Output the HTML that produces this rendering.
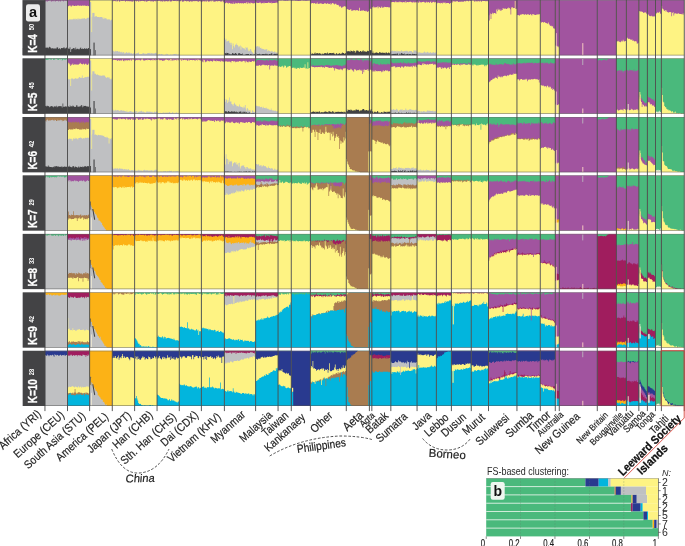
<!DOCTYPE html>
<html><head><meta charset="utf-8"><title>ADMIXTURE</title><style>html,body{margin:0;padding:0;background:#fff;}svg{display:block;}</style></head><body>
<svg width="685" height="546" viewBox="0 0 685 546">
<rect width="685" height="546" fill="#fff"/>
<rect x="22.5" y="0.1" width="22.5" height="55.2" fill="#414143"/>
<path d="M22.5 0.1V48h.73v.4h.73v-.8h.73v.4h.73v.6h.73v-.4h.73v-.9h.73v1.2h.73v-1.2h.73v-.1h.73v1.1h.73v-.2h.73v.2h.73h.73v.1h.73v.3h.73v-.8h.73v.1h.73v-.1h.73v-.3h.73v.1h.73v.5h.73v-.1h.73v.7h.73v-.8h.73v-.3h.73v-.3h.73v1.1h.73v.3h.73v-.5h.73v.1H45V0.1Z" fill="#bfc0c2"/>
<rect x="45" y="0.1" width="22.5" height="55.2" fill="#414143"/>
<path d="M45 0.1V47.8h.73v-.2h.73v.2h.73v-.4h.73v.8h.73v-1h.73v-.4h.73v.7h.73v1.1h.73v-.4h.73v.1h.73v.1h.73h.73v.2h.73v-.2h.73v.1h.73v-1.3h.73v.2h.73v1.5h.73v-.6h.73v.1h.73v.9h.73v-1.4h.73v.1h.73v.3h.73v-.7h.73v-.2h.73v1.4h.73v-.9h.73v-.3h.73v.9H67.5V0.1Z" fill="#bfc0c2"/>
<path d="M45 0.1V1.5h.73v-.4h.73v.4h.73v-.1h.73v-.4h.73h.73v-.6h.73h.73v1h.73h.73v-.4h.73v.3h.73v-.8h.73v.7h.73v.3h.73v-.5h.73v.1h.73v-.3h.73v.6h.73v-.7h.73v.5h.73v.4h.73v-1h.73h.73v.5h.73v.4h.73v-1h.73v.6h.73v-.3h.73v.3h.73v.2H67.5V0.1Z" fill="#a1549f"/>
<rect x="67.5" y="0.1" width="22.2" height="55.2" fill="#414143"/>
<path d="M67.5 0.1V47.9h.72v.9h.72v-.1h.72v-1.5h.72v4.8h.72v-2.8h.72v-.2h.72v-.4h.72v-.6h.72v.2h.72v1.2h.72v-1.8h.72v1.7h.72v-.5h.72h.72v.4h.72v.1h.72v-1.1h.72v-.6h.72v1.5h.72v-.7h.72v.3h.72v.3h.72v-.7h.72v.1h.72v.6h.72v-.7h.72v.7h.72v-.7h.72v-.3h.72v.5H89.7V0.1Z" fill="#bfc0c2"/>
<path d="M67.5 0.1V20.1h.72v-.1h.72v-.9h.72v.9h.72v-.9h.72v.5h.72v-.4h.72v.2h.72v-.6h.72v.5h.72v-.7h.72v.8h.72v-.5h.72v-.4h.72v1.2h.72v-1.1h.72v.1h.72v.6h.72v-.5h.72v-.1h.72v-.2h.72v.1h.72v-.1h.72v-.5h.72v.8h.72v.1h.72v-.5h.72v-.7h.72v.2h.72v-.4h.72H89.7V0.1Z" fill="#fef383"/>
<path d="M67.5 0.1V5.9h.72v.3h.72v-.5h.72v-.4h.72v.9h.72v.3h.72v-1h.72v.1h.72v.1h.72v.3h.72h.72v-.4h.72v.3h.72v-.4h.72v-.1h.72h.72v.3h.72h.72v-.3h.72v.6h.72v-.8h.72v.8h.72v-.6h.72v.2h.72v.2h.72v-.1h.72v.3h.72v-.5h.72v.7h.72v-.2h.72v-.4H89.7V0.1Z" fill="#a1549f"/>
<rect x="89.7" y="0.1" width="22.5" height="55.2" fill="#bfc0c2"/>
<path d="M89.7 0.1V15.8h.73v.3h.73v.9h.73v-.1h.73v-.3h.73v-.6h.73v.9h.73v-.4h.73v-.3h.73h.73v.7h.73v.1h.73v.1h.73v.1h.73v-.2h.73v-.1h.73v.2h.73v.5h.73v1.3h.73v-1.4h.73v.9h.73v-.1h.73h.73v1h.73v.3h.73v-.1h.73v-.6h.73v.8h.73v.8h.73v-1h.73v.6H112.2V0.1Z" fill="#fef383"/>
<rect x="112.2" y="0.1" width="22.4" height="55.2" fill="#bfc0c2"/>
<path d="M112.2 0.1V50.5h.72v.3h.72v.5h.72v.4h.72v-.9h.72v.6h.72v-.3h.72v-.2h.72v.5h.72v.7h.72v-.9h.72v1h.72h.72v-.4h.72v.9h.72v-.7h.72v.4h.72v1.2h.72v-.5h.72v-1.2h.72v.7h.72v.4h.72v-.4h.72v.1h.72v-.1h.72v.9h.72v-.5h.72v.5h.72v.5h.72v-.8h.72v-.3H134.6V0.1Z" fill="#fef383"/>
<path d="M112.2 0.1V0.1h.72v1.1h.72v-.7h.72v.6h.72v.1h.72v-1.1h.72v1.4h.72v-.2h.72v-1.2h.72v.9h.72v.9h.72v-1.3h.72v.5h.72v-.3h.72v.1h.72h.72v-.6h.72v.8h.72v.6h.72v-.8h.72v-.1h.72v.5h.72v-.4h.72v.5h.72v-.3h.72v.1h.72v.3h.72v-.2h.72v.4h.72v-.9h.72v.9H134.6V0.1Z" fill="#a1549f"/>
<rect x="134.6" y="0.1" width="22.4" height="55.2" fill="#bfc0c2"/>
<path d="M134.6 0.1V53.6h.72v.3h.72v-.6h.72v.2h.72v-.6h.72v-.3h.72v1.4h.72v.4h.72v-.4h.72v.1h.72v.1h.72v-1.1h.72v.2h.72v.1h.72v.8h.72v-.8h.72v.6h.72v-.7h.72v-.1h.72v-.3h.72v.3h.72v-.4h.72v.9h.72v-.7h.72v.2h.72v.2h.72v.1h.72v-.1h.72v-.3h.72v-.4h.72v.7H157V0.1Z" fill="#fef383"/>
<path d="M134.6 0.1V0.4h.72v.6h.72v.4h.72v-.5h.72v-.1h.72v1h.72v-1.3h.72v.9h.72v-.5h.72v.2h.72v-.4h.72v.3h.72v.1h.72v.2h.72v.1h.72v-.9h.72v1.2h.72v-.2h.72v-.5h.72v.1h.72v-.3h.72h.72v.6h.72v-.1h.72v-.2h.72v.7h.72v-.4h.72v-.3h.72h.72v.5h.72v-1H157V0.1Z" fill="#a1549f"/>
<rect x="157" y="0.1" width="22.2" height="55.2" fill="#bfc0c2"/>
<path d="M157 0.1V54.7h.72v.1h.72v-.8h.72v.1h.72v.5h.72v-.3h.72v-.2h.72v.1h.72v.9h.72v-.5h.72v.4h.72v-.7h.72v.9h.72v-1.4h.72v.1h.72v1h.72v-.3h.72v.3h.72v-.4h.72v.1h.72v.2h.72v-.3h.72h.72v-.4h.72v-.1h.72v.3h.72v-.6h.72v.8h.72h.72v.3h.72v-.7H179.2V0.1Z" fill="#fef383"/>
<path d="M157 0.1V1.1h.72v-.3h.72v.2h.72v-.2h.72h.72v.9h.72v-.6h.72v.6h.72v-1.3h.72v.9h.72v.3h.72v-.3h.72v-.1h.72v-.1h.72v.3h.72v-.5h.72v.5h.72v-1.2h.72v1.4h.72v-.1h.72v-.2h.72v-1.1h.72v.8h.72v.1h.72v-.1h.72v-.1h.72v-.5h.72v.9h.72v-.4h.72v.3h.72v-.6H179.2V0.1Z" fill="#a1549f"/>
<rect x="179.2" y="0.1" width="22.1" height="55.2" fill="#fef383"/>
<path d="M179.2 0.1V1.2h.71h.71h.71v-1.1h.71v1.6h.71v-.3h.71h.71v-1h.71v.5h.71v.1h.71v.4h.71v-.3h.71v.4h.71v-.6h.71v1.1h.71v-.9h.71v.3h.71v.1h.71v-.1h.71v-.1h.71v-.4h.71v.4h.71v-.4h.71v.3h.71v-.3h.71v.4h.71v.3h.71v.1h.71v-.6h.71v.4h.71v-.3H201.3V0.1Z" fill="#a1549f"/>
<rect x="201.3" y="0.1" width="23" height="55.2" fill="#fef383"/>
<path d="M201.3 0.1V2h.72v-.5h.72h.72v-.6h.72v.5h.72h.72v-.8h.72v1.1h.72v-1.1h.72v.6h.72v.8h.72v-.8h.72v.1h.72v-1h.72v1.1h.72v-.9h.72v-.1h.72v1.5h.72v-.4h.72v-.1h.72v-.1h.72v-.2h.72v.4h.72v-.6h.72v.4h.72v-.3h.72v.4h.72v.1h.72h.72v-1h.72v1.8h.72v-.7H224.3V0.1Z" fill="#a1549f"/>
<rect x="224.3" y="0.1" width="31.4" height="55.2" fill="#414143"/>
<path d="M224.3 0.1V53h.71h.71v.7h.71v-.9h.71v.2h.71v.1h.71v1.4h.71v-.8h.71v.5h.71v.3h.71v-.3h.71v-1.3h.71v.4h.71v.7h.71v-.3h.71v-.8h.71v.4h.71v.7h.71v1.2h.71v-1.4h.71v-.7h.71v.1h.71v.5h.71v.3h.71v.1h.71v-.7h.71v1.4h.71h.71h.71v-.3h.71v-.3h.71v-.1h.71h.71h.71h.71v.9h.71v-.7h.71v-.2h.71v.3h.71v.4h.71v-.6h.71v.4h.71v-.4h.71v.1H255.7V0.1Z" fill="#bfc0c2"/>
<path d="M224.3 0.1V38h.71v1.7h.71v-.9h.71v2.6h.71v-.2h.71v-.1h.71v-.7h.71v2.4h.71v-.1h.71v2h.71v-2h.71v6.5h.71v-5.6h.71v2.5h.71v1.4h.71v-2.9h.71v.5h.71v-1.7h.71v1.5h.71v.9h.71v1.4h.71v-.9h.71v-.9h.71v4.2h.71v-3.1h.71v1h.71v.5h.71v.4h.71h.71v1.4h.71v-2.7h.71v1h.71v-.5h.71v1.8h.71v1.9h.71v-.6h.71v-1.7h.71v.5h.71v1.7h.71v.7h.71v1.1h.71v1.2h.71v-4.4h.71v2.6H255.7V0.1Z" fill="#fef383"/>
<path d="M224.3 0.1V3.4h.71v-.1h.71v-.2h.71v-.8h.71v.7h.71v.7h.71v-1h.71v.3h.71v.3h.71v.8h.71v-.9h.71v.7h.71v-1.3h.71v1.4h.71v-.3h.71v-1h.71v1h.71v-.7h.71v.4h.71v-.7h.71v.3h.71v.4h.71v-.1h.71v-.3h.71v.5h.71v-.6h.71v.9h.71v-.5h.71v-.2h.71v-.2h.71v.6h.71v-1.2h.71v1.5h.71v-1.5h.71v.9h.71v.1h.71v.1h.71v-1h.71v.6h.71v.3h.71v-.1h.71v.3h.71v-.4h.71v.4H255.7V0.1Z" fill="#a1549f"/>
<rect x="255.7" y="0.1" width="22.3" height="55.2" fill="#414143"/>
<path d="M255.7 0.1V53.6h.72v1.6h.72v-1.2h.72h.72v.2h.72v-.5h.72v.6h.72v.7h.72v-.9h.72h.72h.72h.72v.1h.72v-.4h.72v.5h.72v-.5h.72v.5h.72v.5h.72v-.8h.72h.72v.2h.72v-.7h.72v-.2h.72v1.4h.72v-.3h.72v-.3h.72v-.4h.72v.4h.72v-.5h.72v.6h.72v-.4H278V0.1Z" fill="#bfc0c2"/>
<path d="M255.7 0.1V45.9h.72v1h.72v-.8h.72v.1h.72v1.4h.72v-1.1h.72v1.5h.72v-.2h.72v1.2h.72v-.2h.72v.3h.72v.2h.72v.4h.72v-.1h.72h.72v-.6h.72v2.2h.72v-1h.72v.6h.72v.2h.72v.5h.72h.72v-.8h.72v.7h.72v.5h.72v.1h.72v-.9h.72v1.3h.72v-.3h.72v1.3h.72v-1H278V0.1Z" fill="#fef383"/>
<path d="M255.7 0.1V2.8h.72v-.3h.72v.4h.72h.72h.72v-.5h.72h.72v.9h.72v.1h.72v-.4h.72v-.3h.72v.8h.72v-.7h.72v.2h.72v-.1h.72v.2h.72v-.1h.72v-.5h.72v.1h.72v.4h.72v-.1h.72v-.3h.72v1h.72v-.5h.72v-.1h.72v.1h.72v-.1h.72v-.3h.72v.3h.72v-1.1h.72v1.4H278V0.1Z" fill="#a1549f"/>
<rect x="278" y="0.1" width="13.2" height="55.2" fill="#fef383"/>
<path d="M278 0.1V0.4h.73v.3h.73v-.5h.73v.2h.73v.1h.73v-.2h.73v-.1h.73v.3h.73v.4h.73v-.6h.73v.7h.73v-.4h.73v.3h.73v-.3h.73v-.2h.73v-.1h.73v.3h.73v-.4H291.2V0.1Z" fill="#a1549f"/>
<rect x="291.2" y="0.1" width="19.2" height="55.2" fill="#fef383"/>
<path d="M291.2 0.1V1h.71v-.1h.71v-.8h.71v.7h.71v-.5h.71v.6h.71v-.4h.71v.2h.71h.71v.2h.71v.1h.71v-.1h.71v-.5h.71v.5h.71v-.6h.71v.2h.71v-.2h.71v.5h.71v-.4h.71v.4h.71h.71h.71h.71v-.2h.71h.71v-.3h.71v.2H310.4V0.1Z" fill="#a1549f"/>
<rect x="310.4" y="0.1" width="35.8" height="55.2" fill="#414143"/>
<path d="M310.4 0.1V52.5h.72v1.7h.72v-.7h.72h.72v.5h.72v-.6h.72v-.9h.72v1.2h.72v-.4h.72h.72v-.3h.72v.7h.72v-.6h.72v.7h.72v-.4h.72v1.1h.72v-1h.72v.7h.72v-.5h.72v-.5h.72v-.2h.72v.2h.72v.2h.72v-.8h.72v1h.72v.1h.72v-.7h.72v.1h.72h.72v.1h.72v-.2h.72v.2h.72v-.4h.72v1h.72v.6h.72v-.6h.72v-.8h.72v1.3h.72v-.7h.72v.4h.72v-1h.72v.9h.72v-.4h.72h.72v-.9h.72v.5h.72h.72v.9h.72v-.9h.72v.6H346.2V0.1Z" fill="#fef383"/>
<path d="M310.4 0.1V3.2h.72v.2h.72v-.3h.72v-.1h.72v.4h.72v-.3h.72v.2h.72v.8h.72v-.6h.72v-.9h.72v1.4h.72v-.2h.72h.72v-.5h.72v.3h.72v-.1h.72v.5h.72v-.2h.72v.2h.72v-.8h.72h.72v.3h.72v.4h.72v-.6h.72v.1h.72v.7h.72v-.1h.72v-.7h.72v1.4h.72v-.9h.72v-.9h.72v.3h.72v.6h.72v.8h.72v-.8h.72v-.1h.72v1h.72v.4h.72v-.4h.72v.7h.72v1.4h.72v-.9h.72v1.1h.72v.9h.72v-.7h.72v-.7h.72v.2h.72v-.6h.72v.3h.72v.4H346.2V0.1Z" fill="#a1549f"/>
<rect x="346.2" y="0.1" width="23.2" height="55.2" fill="#414143"/>
<path d="M346.2 0.1V51.2h.72v.3h.72v-.6h.72v.3h.72h.72v.6h.72v-1.3h.72v.5h.72v.2h.72v.2h.72v-.8h.72v.3h.72v1.8h.72v-1.1h.72v-1.1h.72v-.1h.72v.4h.72v.8h.72v.5h.72v-1.1h.72h.72v1h.72v-.8h.72v-1h.72v1.2h.72v-.2h.72v.5h.72v-.4h.72v.8h.72v-1.4h.72v.2h.72v.4H369.4V0.1Z" fill="#fef383"/>
<path d="M346.2 0.1V8.8h.72v.4h.72v-.1h.72v.8h.72v.1h.72v-.3h.72v-.6h.72v1.6h.72h.72v-.5h.72h.72v-.1h.72v.7h.72v-.9h.72v.4h.72v-.2h.72v.7h.72h.72v-3h.72v3.3h.72v-.4h.72v-.2h.72v.2h.72v-.8h.72v.9h.72v.2h.72v-.2h.72v.6h.72v-.7h.72v1.2h.72v-.3h.72v-.7H369.4V0.1Z" fill="#a1549f"/>
<rect x="369.4" y="0.1" width="2.5" height="55.2" fill="#414143"/>
<path d="M369.4 0.1V50.1h.83v.1h.83H371.9V0.1Z" fill="#fef383"/>
<path d="M369.4 0.1V8.7h.83v.1h.83v.3H371.9V0.1Z" fill="#a1549f"/>
<rect x="371.9" y="0.1" width="18.9" height="55.2" fill="#414143"/>
<path d="M371.9 0.1V52.9h.73v-1.4h.73v1.7h.73h.73v-.6h.73v.4h.73v-.7h.73v.5h.73v.2h.73v.2h.73v-1.1h.73v.5h.73v-.1h.73v.6h.73v-.6h.73v.4h.73v-.3h.73v.3h.73v.3h.73v-1.1h.73v1h.73v.1h.73v-.6h.73v.1h.73v.5h.73v-1.5H390.8V0.1Z" fill="#fef383"/>
<path d="M371.9 0.1V7h.73v.8h.73v-1.4h.73v1.2h.73v-.5h.73v.6h.73v-.8h.73v-.4h.73v1.8h.73v-1.7h.73v.5h.73v.9h.73v-.5h.73v-.9h.73v1.1h.73v-.1h.73v-.4h.73v-.4h.73v.1h.73h.73v.3h.73v-.1h.73v-.1h.73v1.1h.73v-1h.73v.5H390.8V0.1Z" fill="#a1549f"/>
<rect x="390.8" y="0.1" width="26.2" height="55.2" fill="#414143"/>
<path d="M390.8 0.1V54.3h.73v.1h.73v-.3h.73v-.2h.73v-.1h.73v.2h.73v-.3h.73v.5h.73v-.6h.73h.73v1.7h.73v-.9h.73v-1h.73v1.2h.73v-1.7h.73v.7h.73v.1h.73v.2h.73v-.4h.73v1.3h.73v-.5h.73h.73v-.4h.73v-.1h.73v.8h.73v-.5h.73v.1h.73v-.1h.73v.6h.73v-.9h.73v.5h.73v-.2h.73h.73v.1h.73h.73H417V0.1Z" fill="#bfc0c2"/>
<path d="M390.8 0.1V51.3h.73v-.3h.73v-.5h.73v.8h.73v-.6h.73v.2h.73v.1h.73v.6h.73v-1h.73v.9h.73v-.6h.73v.7h.73v-.7h.73v.5h.73v-1.2h.73v1.6h.73v-.9h.73v.6h.73v-.4h.73v.2h.73v-.6h.73v.1h.73v.5h.73v-.6h.73v1.2h.73v-.9h.73h.73v-.1h.73h.73v1.1h.73v.6h.73v-2.3h.73v.3h.73v-.1h.73v.1h.73v.8H417V0.1Z" fill="#fef383"/>
<path d="M390.8 0.1V2.4h.73v-.3h.73v-.2h.73h.73v.1h.73v.6h.73v-1.1h.73v.2h.73v.9h.73v-.5h.73v.2h.73v-.7h.73v.7h.73v-.6h.73v.4h.73v.4h.73v-.3h.73v-.1h.73v-.2h.73v.8h.73v-1.5h.73v1.3h.73v-.5h.73v.1h.73v.2h.73v-.2h.73v-.7h.73v.7h.73v.2h.73v.3h.73h.73v-.9h.73v.8h.73v-.1h.73v-.4h.73v.4H417V0.1Z" fill="#a1549f"/>
<rect x="417" y="0.1" width="19.3" height="55.2" fill="#bfc0c2"/>
<path d="M417 0.1V52h.71v1.6h.71v-1.4h.71h.71v.8h.71v-.7h.71v.8h.71v-.1h.71v-.4h.71v-.1h.71v-1h.71v.7h.71v.5h.71v-.1h.71v-.9h.71v.5h.71v.6h.71v.1h.71v-.9h.71v.5h.71v.6h.71v-.7h.71v.4h.71v-.9h.71v.9h.71v.1h.71v-1H436.3V0.1Z" fill="#fef383"/>
<path d="M417 0.1V1.4h.71v1h.71v.4h.71v-1.4h.71v1.2h.71v-.5h.71v.4h.71v-.4h.71h.71v-.3h.71v.5h.71v.5h.71v-.4h.71v-.7h.71v.7h.71v-.2h.71v-.3h.71v1.2h.71v-1h.71v-.5h.71v1.4h.71v-.4h.71v-.6h.71v-.3h.71v.8h.71v-.4h.71v.1H436.3V0.1Z" fill="#a1549f"/>
<rect x="436.3" y="0.1" width="15" height="55.2" fill="#fef383"/>
<path d="M436.3 0.1V3.3h.71h.71v-.7h.71v.3h.71h.71v.5h.71v-.7h.71v.2h.71v.7h.71v-1.1h.71v.2h.71v.1h.71v-.2h.71v.8h.71v-.4h.71v-.1h.71v.2h.71v-.1h.71v.9h.71v-.7h.71v-.1H451.3V0.1Z" fill="#a1549f"/>
<rect x="451.3" y="0.1" width="19.9" height="55.2" fill="#fef383"/>
<path d="M451.3 0.1V1.9h.71v.5h.71v-1.3h.71v.5h.71v-.2h.71v-.2h.71v.7h.71v-.8h.71h.71v.7h.71v.2h.71v-.3h.71v-.2h.71v.6h.71v-.5h.71v-.1h.71v.5h.71v-.6h.71v-.3h.71v.5h.71v-.3h.71v-.5h.71v-.1h.71v.3h.71v.6h.71v-1h.71v.5h.71v-.1H471.2V0.1Z" fill="#a1549f"/>
<rect x="471.2" y="0.1" width="17.3" height="55.2" fill="#fef383"/>
<path d="M471.2 0.1V0.4h.72v.3h.72v-.6h.72v.7h.72v.9h.72v-1.2h.72v.9h.72v-.2h.72v.4h.72v-.8h.72v.4h.72v.2h.72v-.8h.72v.7h.72v.4h.72v-.9h.72v.3h.72v-.2h.72v.1h.72v.1h.72v.3h.72v-.4h.72v.2h.72v-.3H488.5V0.1Z" fill="#a1549f"/>
<rect x="488.5" y="0.1" width="28.5" height="55.2" fill="#fef383"/>
<path d="M488.5 0.1V15.3h.71v5.3h.71v-7.1h.71v5.4h.71v-4.9h.71v-1.3h.71v1.6h.71v-1.2h.71v-.2h.71v.1h.71v1h.71v-4.6h.71v1.9h.71v-2.6h.71v1.4h.71v-.5h.71v1.3h.71v-1.5h.71v1.2h.71v-.5h.71v-2.1h.71v.7h.71h.71v-.4h.71v.8h.71v-.1h.71v-.8h.71v.2h.71v-.9h.71v.5h.71v1.2h.71v5.4h.71v-7h.71v-.5h.71v1.2h.71v-.4h.71v.1h.71v-7.1h.71v8.2h.71v-.4H517V0.1Z" fill="#a1549f"/>
<rect x="517" y="0.1" width="23.3" height="55.2" fill="#fef383"/>
<path d="M517 0.1V15.1h.73v.2h.73v-.4h.73v.9h.73v-1.1h.73v-.1h.73h.73v-.5h.73v.3h.73v-.4h.73v.9h.73v-.9h.73v1h.73v-.5h.73v-.3h.73h.73v.6h.73v.2h.73v-.9h.73v.6h.73v.7h.73v-1.4h.73v.3h.73v.3h.73v.5h.73v-.2h.73v-.4h.73v.5h.73v-1h.73v.5h.73v-.2h.73H540.3V0.1Z" fill="#a1549f"/>
<rect x="540.3" y="0.1" width="14.9" height="55.2" fill="#fef383"/>
<path d="M540.3 0.1V21.4h.71v1.4h.71v-.9h.71v.2h.71v.7h.71v-.7h.71v.1h.71v.8h.71v-.1h.71v.5h.71v.4h.71v-1.2h.71v1.6h.71v1.1h.71v.7h.71v-.2h.71v.8h.71v-.3h.71v1.9h.71v.3h.71v.3H555.2V0.1Z" fill="#a1549f"/>
<rect x="555.2" y="0.1" width="4.1" height="55.2" fill="#fef383"/>
<path d="M555.2 0.1V45.6h.68v.4h.68v-.2h.68v.7h.68v.7h.68v-.9H559.3V0.1Z" fill="#a1549f"/>
<rect x="559.3" y="0.1" width="37.9" height="55.2" fill="#a1549f"/>
<rect x="597.2" y="0.1" width="19.2" height="55.2" fill="#a1549f"/>
<rect x="616.4" y="0.1" width="10" height="55.2" fill="#fef383"/>
<path d="M616.4 0.1V41.4h.71v-.1h.71v.2h.71v-.7h.71v1.3h.71v.2h.71v-.6h.71v-.9h.71v.6h.71v-1.7h.71v1.6h.71v.1h.71v-.5h.71H626.4V0.1Z" fill="#a1549f"/>
<rect x="626.4" y="0.1" width="12.5" height="55.2" fill="#fef383"/>
<path d="M626.4 0.1V38.4h.74v-.6h.74v1.1h.74v-.4h.74v.4h.74v.7h.74v.4h.74v-.8h.74v1.5h.74v-.2h.74v.5h.74v.7h.74v-.6h.74v.3h.74v2.3h.74v-.5h.74v-.5H638.9V0.1Z" fill="#a1549f"/>
<rect x="638.9" y="0.1" width="8.5" height="55.2" fill="#fef383"/>
<path d="M638.9 0.1V11h.71v.5h.71v-.1h.71h.71v.3h.71v.3h.71v1h.71v-.3h.71v-.4h.71v.3h.71v1.2h.71v-1.1H647.4V0.1Z" fill="#a1549f"/>
<rect x="647.4" y="0.1" width="8.1" height="55.2" fill="#fef383"/>
<path d="M647.4 0.1V14.7h.74v-.2h.74v1.2h.74v.4h.74v.2h.74v-.5h.74v.8h.74v-.3h.74v.2h.74v-.3h.74v.5H655.5V0.1Z" fill="#a1549f"/>
<rect x="655.5" y="0.1" width="5.9" height="55.2" fill="#fef383"/>
<path d="M655.5 0.1V12.9h.74v.7h.74v-1.4h.74v.9h.74v-.6h.74v-.8h.74v1.7h.74v.5H661.4V0.1Z" fill="#a1549f"/>
<rect x="661.4" y="0.1" width="22.8" height="55.2" fill="#fef383"/>
<path d="M661.4 0.1V6.1h.71v2.3h.71v.7h.71v1.2h.71v.6h.71v-1h.71v1.9h.71v-1.2h.71v1.4h.71v.5h.71v-.1h.71v-.3h.71h.71v.1h.71v4h.71v-3.2h.71v-1h.71v3.4h.71v-2h.71v-.1h.71v.1h.71v.4h.71v-.1h.71v-.1h.71v-.3h.71v.6h.71h.71v.2h.71v.2h.71v-.5h.71v1.1h.71v-1.4H684.2V0.1Z" fill="#a1549f"/>
<rect x="89.9" y="2.1" width="1.5" height="53.2" fill="#bfc0c2"/>
<rect x="91.4" y="0.3" width="0.9" height="31.8" fill="#fef383"/>
<rect x="92.3" y="12.9" width="2.2" height="42.4" fill="#bfc0c2"/>
<rect x="93.5" y="42.6" width="1.1" height="12.7" fill="#414143"/>
<rect x="89.9" y="49.1" width="1" height="6.2" fill="#414143"/>
<rect x="95" y="50.1" width="0.6" height="5.2" fill="#414143"/>
<rect x="582.3" y="43.1" width="1" height="12.2" fill="#f6c9c0"/>
<rect x="555.9" y="33.1" width="0.8" height="22.2" fill="#f6c9c0"/>
<rect x="22.5" y="58.5" width="22.5" height="55.2" fill="#414143"/>
<path d="M22.5 58.5V105.4h.73v1.2h.73v.4h.73v-1.7h.73v.1h.73v2h.73v-.4h.73h.73v-.5h.73v.7h.73h.73v-1.4h.73v.3h.73v1.1h.73v-.4h.73v.8h.73v-.8h.73v.6h.73v.1h.73v-.9h.73v-.3h.73v.5h.73v-.8h.73v1.1h.73v.2h.73v-.6h.73v-.4h.73v.7h.73v-1.9h.73v1.5h.73v.7H45V58.5Z" fill="#bfc0c2"/>
<rect x="45" y="58.5" width="22.5" height="55.2" fill="#414143"/>
<path d="M45 58.5V105.9h.73v-.1h.73v.7h.73v-.7h.73v.1h.73v.6h.73v.8h.73v-.8h.73v-.5h.73v.2h.73v.2h.73v.9h.73v-1h.73v.2h.73v-.1h.73v-.7h.73v1.5h.73v-.8h.73v-.2h.73h.73v-.1h.73v.1h.73v.1h.73v1.2h.73v-3.9h.73v3.1h.73v.2h.73v-1h.73v.8h.73v-.2h.73v1H67.5V58.5Z" fill="#bfc0c2"/>
<path d="M45 58.5V59.5h.73v.3h.73v.2h.73v-.3h.73v-.2h.73v.1h.73v-.5h.73v.3h.73v.6h.73v-.9h.73v-.5h.73v1.5h.73v-.7h.73v.3h.73v-.9h.73v.2h.73v.3h.73v.5h.73v.1h.73v-.9h.73v.4h.73v-.2h.73v-.1h.73v1.4h.73v-.7h.73v-.6h.73v.4h.73v.5h.73v-.6h.73v-.3h.73v.2H67.5V58.5Z" fill="#4ab97c"/>
<rect x="67.5" y="58.5" width="22.2" height="55.2" fill="#414143"/>
<path d="M67.5 58.5V105.9h.72v.5h.72v.5h.72v-1.4h.72v.9h.72v-.1h.72v.2h.72v-.9h.72v.6h.72v.5h.72v.4h.72v-.4h.72v-1.4h.72v.3h.72v1.3h.72v-.4h.72v.1h.72v-.2h.72v-.7h.72v-.8h.72v2.4h.72v-1.9h.72v1h.72v-.4h.72v-.2h.72v.1h.72v.7h.72v-.4h.72v.7h.72v-.3h.72v-.5H89.7V58.5Z" fill="#bfc0c2"/>
<path d="M67.5 58.5V78.8h.72v.4h.72v.4h.72v-.6h.72v6.9h.72v-7.4h.72v.1h.72v-.1h.72v.7h.72v-.1h.72v-.8h.72h.72v.5h.72v-.3h.72v.3h.72v-1h.72v-.9h.72v.5h.72v.7h.72v-.4h.72v-2.2h.72v2.6h.72h.72v-.6h.72v-.2h.72v-.4h.72v.3h.72v-.4h.72v-.1h.72h.72v-.2H89.7V58.5Z" fill="#fef383"/>
<path d="M67.5 58.5V64.3h.72v-1.6h.72v.7h.72v1.1h.72v1.6h.72v-1.4h.72v-.2h.72v-1.1h.72v1.5h.72v-.6h.72v.4h.72v-.5h.72v.3h.72v.4h.72v-1h.72v.8h.72v-.6h.72v-1.3h.72v.8h.72v.5h.72v.5h.72v-.6h.72v-.6h.72v1.3h.72v-.7h.72v-.4h.72v.9h.72v.4h.72v-.4h.72v-1.1h.72v.5H89.7V58.5Z" fill="#a1549f"/>
<rect x="89.7" y="58.5" width="22.5" height="55.2" fill="#bfc0c2"/>
<path d="M89.7 58.5V73.4h.73v-.1h.73v1.1h.73v.2h.73v-.1h.73v-.2h.73v-.6h.73v-.1h.73v.5h.73v.8h.73v-.6h.73v.8h.73v.1h.73v.4h.73v-.2h.73v.4h.73v-.1h.73v-.2h.73v-.2h.73v.5h.73v-.3h.73v1.3h.73v.8h.73v.3h.73v-.9h.73v.7h.73v-.8h.73v1.5h.73v.8h.73v-.6h.73v1H112.2V58.5Z" fill="#fef383"/>
<rect x="112.2" y="58.5" width="22.4" height="55.2" fill="#bfc0c2"/>
<path d="M112.2 58.5V109.9h.72v-.1h.72v1.1h.72v-.6h.72v-.5h.72v.6h.72v-.2h.72v-.1h.72v-.2h.72v1h.72v-.2h.72v-.1h.72v-.7h.72v.5h.72v.3h.72v-.3h.72v.3h.72v.4h.72v.2h.72v.4h.72v-1.3h.72v1.7h.72v-.2h.72v-.7h.72v.3h.72v-.5h.72v.6h.72v-.1h.72v.5h.72v.3h.72v-.7H134.6V58.5Z" fill="#fef383"/>
<path d="M112.2 58.5V60.6h.72v-.8h.72v.1h.72v-.2h.72v.3h.72v.2h.72v-.4h.72v1.3h.72v-1h.72v.6h.72v-.3h.72v-.2h.72v.5h.72v-.5h.72v-.6h.72v1.2h.72v.4h.72v-1.1h.72v.3h.72v-.2h.72v.1h.72v.1h.72v-.3h.72v.4h.72v-.3h.72v-.7h.72v1.2h.72v-1.1h.72v-.2h.72h.72v.6H134.6V58.5Z" fill="#a1549f"/>
<rect x="134.6" y="58.5" width="22.4" height="55.2" fill="#bfc0c2"/>
<path d="M134.6 58.5V111.4h.72v.1h.72v-.4h.72v1.8h.72v-1.5h.72v.7h.72v-.9h.72v.9h.72v-1.2h.72v-.2h.72v.9h.72v.3h.72v-.4h.72v.5h.72v.4h.72v.1h.72v-1.1h.72v.6h.72v-1h.72v1.1h.72v-.7h.72v.7h.72v-.6h.72v.4h.72v-.1h.72v.8h.72v-.2h.72v-1h.72v.6h.72v.2h.72v-.9H157V58.5Z" fill="#fef383"/>
<path d="M134.6 58.5V59.9h.72v.9h.72v-.7h.72v-.3h.72v.4h.72v-.4h.72h.72v.5h.72v.1h.72v-.7h.72v-1.1h.72v1.4h.72v.4h.72v.2h.72h.72v-.7h.72h.72v.3h.72v-.6h.72v.4h.72h.72v-.1h.72v.6h.72v-.6h.72v-.3h.72v.9h.72v-.9h.72v.5h.72v.3h.72v-1h.72v.7H157V58.5Z" fill="#a1549f"/>
<rect x="157" y="58.5" width="22.2" height="55.2" fill="#bfc0c2"/>
<path d="M157 58.5V112.1h.72v1.1h.72v-.3h.72v.1h.72v-.3h.72v.5h.72v-.2h.72v-.3h.72v.8h.72v-1.5h.72v1.3h.72v-.6h.72v-.2h.72v.2h.72v-.1h.72v.6h.72v-.9h.72v-.2h.72v.7h.72v.2h.72v.1h.72v-1h.72v1.4h.72v-1h.72v1.2h.72v-1h.72v.2h.72v-.8h.72v1.4h.72v-.3h.72v-.6H179.2V58.5Z" fill="#fef383"/>
<path d="M157 58.5V60.1h.72v-.5h.72v-.2h.72v.8h.72v-.2h.72v.5h.72v-.6h.72v.8h.72v.3h.72v-.7h.72v.1h.72v-.5h.72v-.6h.72v.5h.72v.3h.72v-.3h.72v.9h.72v-.8h.72v-.8h.72v1.7h.72v-1.5h.72v1.3h.72v-.1h.72v-.9h.72v.7h.72v-.4h.72v-.4h.72v.9h.72v-.8h.72v.2h.72v.7H179.2V58.5Z" fill="#a1549f"/>
<rect x="179.2" y="58.5" width="22.1" height="55.2" fill="#fef383"/>
<path d="M179.2 58.5V59.3h.71v.4h.71v-.4h.71v1.4h.71v-1.1h.71v.6h.71v-.3h.71v-.2h.71v.1h.71v.4h.71v-.5h.71v1h.71v-.2h.71v-.9h.71v1h.71v-.6h.71v.1h.71v-.1h.71v.2h.71v-.1h.71v-.2h.71v.3h.71v.5h.71v-1h.71v.2h.71v.6h.71v-1.2h.71v.8h.71v-.2h.71v.8h.71v-.4H201.3V58.5Z" fill="#a1549f"/>
<rect x="201.3" y="58.5" width="23" height="55.2" fill="#fef383"/>
<path d="M201.3 58.5V60.6h.72v.8h.72v.8h.72v-2.4h.72v.5h.72v2h.72v-.9h.72v.1h.72v-.9h.72v.6h.72v-.2h.72v.4h.72v-.7h.72v.5h.72v-.2h.72v.7h.72v-.7h.72v-1.2h.72v1.2h.72v-.1h.72v.7h.72v-1.2h.72v.5h.72v.4h.72v-.3h.72v.2h.72v.6h.72v-1.3h.72v.8h.72v-.1h.72v.9h.72v-1.1H224.3V58.5Z" fill="#a1549f"/>
<rect x="224.3" y="58.5" width="31.4" height="55.2" fill="#414143"/>
<path d="M224.3 58.5V111.7h.71v-.4h.71h.71v.3h.71v.7h.71v-1.1h.71v-.3h.71v1.1h.71v-.1h.71v-.4h.71v-.2h.71v.2h.71v.4h.71v-.6h.71v.3h.71v.2h.71v.5h.71v-.8h.71v.4h.71v1.1h.71v-1.3h.71v.1h.71v-.4h.71v.2h.71v1.1h.71v-.3h.71v-.9h.71v1.1h.71v-.8h.71v-.1h.71v1.3h.71v-.9h.71v.8h.71v-.3h.71v.4h.71v-.7h.71v1.4h.71v-.2h.71v-.2h.71v-.1h.71v-.2h.71v-.1h.71v.5h.71v.1H255.7V58.5Z" fill="#bfc0c2"/>
<path d="M224.3 58.5V98.8h.71v2.9h.71v-2.6h.71v.9h.71v3h.71v-2.8h.71v1.7h.71v-4.5h.71v4.2h.71v-.2h.71v2.7h.71v.5h.71v1.1h.71v-1.6h.71v-1.4h.71v1.9h.71v.2h.71v1.4h.71v-.1h.71v.5h.71v-.1h.71v-2.1h.71v2h.71v.4h.71v.1h.71v.3h.71v1.1h.71v-1.7h.71v.8h.71v-2.4h.71v3.6h.71v2.2h.71v-2.9h.71v1.3h.71v1.6h.71v-.5h.71v-.1h.71v1.8h.71v.9h.71v-2.6h.71v.4h.71v1.2h.71v.1h.71H255.7V58.5Z" fill="#fef383"/>
<path d="M224.3 58.5V61.4h.71v.2h.71v-.4h.71v.4h.71v.1h.71v-.2h.71v.2h.71v-.1h.71v.1h.71v.9h.71v-1.6h.71v.1h.71v-.1h.71v1.1h.71v-1.1h.71v1.2h.71v-.9h.71v.6h.71v-.5h.71v.4h.71v-.3h.71v-.5h.71v.1h.71v.6h.71v-.1h.71v-.1h.71v-.6h.71v-.1h.71v.5h.71v1.1h.71v-1.6h.71v.7h.71v.6h.71v.5h.71v-1.1h.71v-.1h.71v.5h.71v-.1h.71h.71v-.9h.71h.71v.8h.71v-.9h.71v1.3H255.7V58.5Z" fill="#a1549f"/>
<rect x="255.7" y="58.5" width="22.3" height="55.2" fill="#bfc0c2"/>
<path d="M255.7 58.5V105.8h.72h.72v.4h.72v-.1h.72v.7h.72v-.6h.72v1.1h.72v-.3h.72v-.3h.72v1.5h.72v-1.4h.72v1.1h.72h.72v.3h.72v-.8h.72v1.1h.72v.3h.72v-.1h.72v.7h.72v.4h.72v.1h.72v-1.3h.72v1.4h.72v.4h.72h.72v.1h.72v.6h.72v-.6h.72v.6h.72v.6h.72v-.5H278V58.5Z" fill="#fef383"/>
<path d="M255.7 58.5V65.9h.72v-.3h.72v.2h.72v-.1h.72v-.3h.72v-.3h.72v.6h.72v-.1h.72v-.4h.72v-.4h.72v-.1h.72h.72v.6h.72v-.1h.72h.72v-.1h.72v.6h.72v-.6h.72v-.2h.72v4.5h.72v-3.7h.72v-.2h.72v.1h.72h.72v.2h.72v-.1h.72v-.9h.72v.6h.72v.6h.72v-.7h.72v.6H278V58.5Z" fill="#a1549f"/>
<path d="M255.7 58.5V61.9h.72v-1.4h.72v-.6h.72v.1h.72h.72v.1h.72v-.1h.72v-.6h.72v.8h.72v-.1h.72v.2h.72v.1h.72v.1h.72v-.1h.72v-.2h.72v-.6h.72v.6h.72v.7h.72v-1.8h.72v.8h.72v.2h.72v.4h.72v-.4h.72v.3h.72v-.7h.72v.6h.72v-.9h.72v.7h.72v.7h.72v.3h.72v-1.8H278V58.5Z" fill="#4ab97c"/>
<rect x="278" y="58.5" width="13.2" height="55.2" fill="#fef383"/>
<path d="M278 58.5V67.1h.73v-.9h.73v.3h.73v.4h.73v-.4h.73v-.1h.73v-.6h.73v1.7h.73v-.9h.73v-1.3h.73v.7h.73v1.7h.73v-.5h.73v-.8h.73v.1h.73v-.4h.73h.73v.5H291.2V58.5Z" fill="#4ab97c"/>
<rect x="291.2" y="58.5" width="19.2" height="55.2" fill="#fef383"/>
<path d="M291.2 58.5V68.3h.71v-.3h.71v-.4h.71v.1h.71v.1h.71v.9h.71v-.9h.71v1.2h.71v-.8h.71v-.5h.71v.3h.71v.8h.71v-1.4h.71v.3h.71v.3h.71v-.1h.71v-.2h.71v-.3h.71v.3h.71v-3.5h.71v4.3h.71v-.2h.71v.6h.71v-6.7h.71v6.2h.71v-.3h.71v-.2H310.4V58.5Z" fill="#4ab97c"/>
<rect x="310.4" y="58.5" width="35.8" height="55.2" fill="#414143"/>
<path d="M310.4 58.5V112.5h.72v-.3h.72v-.1h.72v-.6h.72h.72v.5h.72v-.4h.72v1h.72v-.8h.72v.1h.72v-.3h.72v.7h.72v-1.1h.72v1.1h.72v.5h.72v-.7h.72v.2h.72h.72h.72v-.5h.72h.72v-.5h.72v.6h.72v.2h.72v.4h.72v-1.3h.72v.1h.72v.5h.72v-.1h.72v.5h.72v-1.1h.72v1.1h.72v-.6h.72v1.1h.72v-.4h.72v-.5h.72v.2h.72v-.3h.72v.4h.72v-.5h.72v.4h.72v.1h.72v-.3h.72v-.1h.72v.4h.72v-.3h.72v.8h.72v-.9h.72v.7h.72v-.5H346.2V58.5Z" fill="#fef383"/>
<path d="M310.4 58.5V66.4h.72v.2h.72v.2h.72v.3h.72h.72v.4h.72v-.4h.72v.1h.72v-.1h.72v.2h.72v-.3h.72v.1h.72h.72v.1h.72v-.4h.72v-.1h.72v.6h.72v.1h.72v-.3h.72v.9h.72v-1.4h.72v.3h.72v.1h.72v.3h.72v-.2h.72v1h.72v-.1h.72v-.6h.72v.7h.72v-.3h.72v-.5h.72v.4h.72v.6h.72v2.2h.72v-2.5h.72v1.1h.72v-.4h.72v.3h.72v.7h.72v-.4h.72v.4h.72v-.9h.72v.9h.72v-.5h.72v1h.72v-1.3h.72v-.8h.72v.4h.72v-.2h.72v-.1H346.2V58.5Z" fill="#a1549f"/>
<path d="M310.4 58.5V65.2h.72v.7h.72v-1.4h.72v1.6h.72v-1.1h.72v1.3h.72v-.6h.72v-.8h.72v1.2h.72v-.6h.72v.3h.72v-.5h.72v.2h.72h.72v-.1h.72v-.5h.72v.6h.72v-.4h.72v.9h.72h.72v-1.1h.72v.2h.72v.1h.72v-.4h.72v.5h.72v-.1h.72v-.1h.72v1h.72v-.9h.72v.8h.72v-.5h.72v-.3h.72v.2h.72v.1h.72v-.6h.72v.6h.72v-.5h.72v-.1h.72v.6h.72h.72v.3h.72v-.2h.72v.3h.72v.2h.72v.2h.72v-.9h.72v-.4h.72v.4h.72v-1.1h.72v1.1H346.2V58.5Z" fill="#4ab97c"/>
<rect x="346.2" y="58.5" width="23.2" height="55.2" fill="#414143"/>
<path d="M346.2 58.5V110.4h.72v.9h.72v-1.8h.72v.5h.72v.1h.72v-.5h.72v1h.72v-.9h.72v.8h.72v.2h.72v-.4h.72h.72v.3h.72v-1.2h.72v.2h.72v.5h.72v-.7h.72v.7h.72v1.1h.72v-.4h.72v-.7h.72v.4h.72v-1h.72v-.4h.72v-.2h.72v1.4h.72v.3h.72v-.7h.72v.1h.72v.5h.72v-.1h.72v.1H369.4V58.5Z" fill="#fef383"/>
<path d="M346.2 58.5V70.6h.72v-1.7h.72v1.3h.72v-.4h.72v.1h.72v-.2h.72v-.9h.72v.8h.72v.7h.72v.3h.72v1.1h.72v-2.4h.72v-.1h.72v.7h.72v.8h.72v-.4h.72v-.3h.72v.2h.72v-.8h.72v1.2h.72v-.8h.72v1h.72v3.2h.72v-4.3h.72v2.5h.72v-2.6h.72v.5h.72h.72v-.4h.72v-.4h.72v1.6h.72v-1.3H369.4V58.5Z" fill="#a1549f"/>
<path d="M346.2 58.5V60.9h.72v-.5h.72v-.3h.72v.2h.72h.72v-.3h.72v-.7h.72v-.3h.72v.7h.72v.1h.72v.4h.72v-.3h.72v.3h.72v-1.3h.72v.4h.72v.8h.72h.72v.2h.72v-.1h.72v-.8h.72v-.5h.72v.7h.72v.6h.72v1.5h.72v-1.9h.72v.4h.72v.1h.72v.3h.72v-.3h.72v-1.1h.72v1.2h.72v.1H369.4V58.5Z" fill="#4ab97c"/>
<rect x="369.4" y="58.5" width="2.5" height="55.2" fill="#414143"/>
<path d="M369.4 58.5V109.1h.83v1.4h.83v-1.3H371.9V58.5Z" fill="#fef383"/>
<path d="M369.4 58.5V69.7h.83v.1h.83v.6H371.9V58.5Z" fill="#a1549f"/>
<path d="M369.4 58.5V60.6h.83v.8h.83v-.8H371.9V58.5Z" fill="#4ab97c"/>
<rect x="371.9" y="58.5" width="18.9" height="55.2" fill="#414143"/>
<path d="M371.9 58.5V111.3h.73v.4h.73v1.5h.73v-1.5h.73v.1h.73v.5h.73h.73v-1.2h.73v.6h.73v1.1h.73v-.2h.73v.3h.73v-.7h.73v-.2h.73v.6h.73v.1h.73v-1.1h.73v.2h.73v.3h.73v-.3h.73v.6h.73v-.7h.73v.3h.73v-.7h.73v.7h.73v-.3H390.8V58.5Z" fill="#fef383"/>
<path d="M371.9 58.5V70.5h.73v1.6h.73v-1.4h.73v.8h.73v-1.2h.73v1.2h.73v-.5h.73v.3h.73v-.1h.73v-.1h.73v.1h.73v-.2h.73v.3h.73v.9h.73v-.7h.73v-1.3h.73v1.2h.73v-.3h.73v-.8h.73v.2h.73v.2h.73v-.2h.73v1h.73v-.4h.73v.1h.73v.2H390.8V58.5Z" fill="#a1549f"/>
<path d="M371.9 58.5V63.7h.73v2.1h.73v-2.5h.73h.73v.5h.73v.5h.73v-.4h.73v-.1h.73v.4h.73v.7h.73v.2h.73v-1.6h.73v1.3h.73v-.8h.73v.7h.73v-.5h.73v-.1h.73v.3h.73v-.2h.73v.5h.73v-.4h.73v-.5h.73h.73v.6h.73v-.3h.73v-.4H390.8V58.5Z" fill="#4ab97c"/>
<rect x="390.8" y="58.5" width="26.2" height="55.2" fill="#414143"/>
<path d="M390.8 58.5V113.5h.73v-.6h.73v.2h.73v.2h.73v-.5h.73v.1h.73v-.3h.73v.4h.73v.2h.73h.73v-.6h.73v.2h.73v.5h.73v-.1h.73v-.4h.73v.2h.73v.2h.73v.2h.73v-.3h.73v.2h.73v-.3h.73v-.7h.73v.8h.73v-.1h.73v-.5h.73v.8h.73v-.8h.73v.8h.73v.1h.73v-.2h.73v-.4h.73v.5h.73v-.5h.73v.5h.73v.2h.73v-.1H417V58.5Z" fill="#bfc0c2"/>
<path d="M390.8 58.5V109.5h.73v.2h.73v.1h.73v-.9h.73v.9h.73v-.1h.73v.2h.73v-1.1h.73v.8h.73v.2h.73v1.4h.73v-1h.73v-.2h.73v-.4h.73v.2h.73v-.5h.73v1.2h.73v-.4h.73v-.1h.73v.2h.73v-1.6h.73v1.1h.73v.9h.73v-.9h.73v.2h.73v-.5h.73v-.5h.73v.7h.73v.2h.73v.3h.73v-.3h.73v.5h.73v-.1h.73v-.1h.73v-.6h.73v.5H417V58.5Z" fill="#fef383"/>
<path d="M390.8 58.5V67.1h.73v-.4h.73h.73v-.1h.73v-.4h.73h.73v1.3h.73v-.3h.73h.73v-.4h.73v.2h.73v-.2h.73v.3h.73v.8h.73v-1.3h.73v-.2h.73v.4h.73v.9h.73v-.9h.73v-.7h.73v.2h.73v.4h.73v-.5h.73v.5h.73v-.2h.73v.3h.73v-.2h.73v.2h.73v-.5h.73v.9h.73v-1.7h.73v.6h.73v.7h.73v-1.2h.73v1.2h.73v.5H417V58.5Z" fill="#a1549f"/>
<path d="M390.8 58.5V61.6h.73v.9h.73v.6h.73h.73v.4h.73v-.3h.73v-.6h.73v.6h.73v.3h.73v-.9h.73v.5h.73v-.2h.73v-.2h.73v-.4h.73v.5h.73v.3h.73v.6h.73v-1.9h.73v1.2h.73v.5h.73v-.7h.73v.7h.73v.3h.73v-1.4h.73v.3h.73v.8h.73v-.4h.73v.2h.73h.73v-.2h.73v.3h.73v-.5h.73v-.3h.73v-.2h.73v.5h.73v-.2H417V58.5Z" fill="#4ab97c"/>
<rect x="417" y="58.5" width="19.3" height="55.2" fill="#bfc0c2"/>
<path d="M417 58.5V111.5h.71v-.3h.71v-.4h.71v.2h.71v1.5h.71v-1.5h.71v.4h.71v.5h.71v-1h.71v.4h.71v-.1h.71v.5h.71h.71v-.2h.71v-1.3h.71v1h.71v-.7h.71v.3h.71v-.1h.71v.4h.71h.71v-.1h.71v-.5h.71v1h.71v-.4h.71v.7h.71v-.9H436.3V58.5Z" fill="#fef383"/>
<path d="M417 58.5V64.8h.71v.2h.71v-.7h.71v.3h.71v.3h.71h.71v.4h.71v-1.1h.71v-1.1h.71v1.7h.71v-1.1h.71v.6h.71h.71v.4h.71v-.7h.71v.7h.71v-.1h.71v-.7h.71v.3h.71v-.5h.71v.2h.71v-.2h.71h.71v1.3h.71v-.8h.71v.3h.71v-.1H436.3V58.5Z" fill="#a1549f"/>
<path d="M417 58.5V61.6h.71h.71v-.5h.71v.4h.71h.71v-.2h.71v.7h.71v-.3h.71v-.3h.71v.2h.71v-.2h.71v.1h.71v.3h.71v-.8h.71h.71v-.3h.71v.7h.71v-.6h.71v.6h.71v.5h.71v.5h.71v-1.2h.71v.2h.71v.4h.71v-.5h.71v.2h.71v.7H436.3V58.5Z" fill="#4ab97c"/>
<rect x="436.3" y="58.5" width="15" height="55.2" fill="#fef383"/>
<path d="M436.3 58.5V68.1h.71v-.6h.71v.2h.71v-.1h.71v-.5h.71v.4h.71v-.3h.71v1.8h.71v-1.5h.71v1h.71v-.6h.71v-.4h.71v-.1h.71v.7h.71v.9h.71v-1.3h.71h.71v-.4h.71v1.6h.71v-2h.71v.2H451.3V58.5Z" fill="#a1549f"/>
<path d="M436.3 58.5V61.9h.71v1.3h.71v-.6h.71v.3h.71v-.1h.71v.1h.71v-1.2h.71v1.2h.71v-1h.71v.7h.71v-.2h.71v-.3h.71v1.4h.71v-1.6h.71v.4h.71v.4h.71v.5h.71v-.9h.71v.6h.71v-.6h.71v.1H451.3V58.5Z" fill="#4ab97c"/>
<rect x="451.3" y="58.5" width="19.9" height="55.2" fill="#fef383"/>
<path d="M451.3 58.5V65.2h.71v-.3h.71v-1.3h.71v1.4h.71h.71v-.5h.71v-.2h.71v.8h.71v-.6h.71v-.1h.71v-.4h.71v1h.71v.5h.71v-1.3h.71v.5h.71h.71v-.4h.71v-.1h.71v-.1h.71v.8h.71v-.7h.71v.8h.71v-.1h.71v-.8h.71h.71v.3h.71v.3h.71v.1H471.2V58.5Z" fill="#a1549f"/>
<path d="M451.3 58.5V63.9h.71v-.3h.71v-.2h.71v.3h.71v.2h.71v.1h.71v-.1h.71h.71v-.7h.71v1h.71v-.1h.71v-.2h.71v-.3h.71v-.6h.71v1h.71v-1.1h.71v1h.71v-.6h.71v-.3h.71v.4h.71v1.1h.71v-.9h.71v.1h.71v1.2h.71v-2.3h.71v.5h.71v1.4h.71v-1.6H471.2V58.5Z" fill="#4ab97c"/>
<rect x="471.2" y="58.5" width="17.3" height="55.2" fill="#fef383"/>
<path d="M471.2 58.5V64.2h.72v.5h.72v1h.72v-1.2h.72v-.1h.72v.1h.72v.6h.72v.4h.72h.72v-.8h.72v.8h.72v-.6h.72v-.1h.72v.1h.72v-.4h.72v-.1h.72v.5h.72v-.4h.72v1.7h.72v-1.1h.72v1.2h.72v-1.1h.72v-.7h.72v.6H488.5V58.5Z" fill="#4ab97c"/>
<rect x="488.5" y="58.5" width="28.5" height="55.2" fill="#fef383"/>
<path d="M488.5 58.5V82.6h.71v-.8h.71v-.5h.71v-1h.71v-.4h.71v-.5h.71v-.9h.71v.4h.71v-.6h.71v-.9h.71v.1h.71v.6h.71v.7h.71v-3.3h.71v1.6h.71v-.6h.71v.3h.71v.6h.71v-.8h.71v.6h.71v-.9h.71v-.3h.71v-.2h.71v-.4h.71v.7h.71v.1h.71v-1.2h.71v.9h.71v-.6h.71v-.6h.71v-.2h.71h.71v.6h.71v-.7h.71v.4h.71v-1.3h.71v.5h.71v-.6h.71v.6h.71v-.3H517V58.5Z" fill="#a1549f"/>
<path d="M488.5 58.5V64h.71v.3h.71v-.1h.71v-.4h.71v1h.71v-.2h.71v.3h.71v-.4h.71v.4h.71v.3h.71v-1.7h.71v1h.71v.4h.71v-.8h.71v.9h.71v-1h.71v.4h.71v-.3h.71v.1h.71v.6h.71v-.3h.71h.71v-1.3h.71v-.1h.71v.3h.71v.6h.71v.2h.71v-.5h.71v.4h.71v.5h.71v.1h.71h.71v-.5h.71v1.1h.71v-1.6h.71v-.1h.71v.9h.71v.2h.71v-.6h.71v-.4H517V58.5Z" fill="#4ab97c"/>
<rect x="517" y="58.5" width="23.3" height="55.2" fill="#fef383"/>
<path d="M517 58.5V79.6h.73v-.5h.73v.5h.73v.8h.73v-.8h.73v-.6h.73h.73v.8h.73v.1h.73v-.6h.73v.4h.73v-.1h.73v-.9h.73v.9h.73v1.7h.73v-1.5h.73v-.3h.73v-.1h.73v.4h.73v-.9h.73v.7h.73v-.3h.73v-.1h.73v-.1h.73v-.4h.73v.6h.73v-.1h.73v.1h.73v.2h.73v.5h.73v2.4h.73v-3.2H540.3V58.5Z" fill="#a1549f"/>
<path d="M517 58.5V63h.73v.5h.73v-.3h.73v-.3h.73v.2h.73v.8h.73v-.6h.73v-.1h.73v-.2h.73v.4h.73v-.8h.73v.8h.73v-.1h.73v-.6h.73h.73v.1h.73v.2h.73v-.5h.73v.6h.73v-.1h.73v-.5h.73v.3h.73v.9h.73v-.7h.73h.73v-.3h.73v.8h.73v-.6h.73v.1h.73v.3h.73v-.7h.73v.2H540.3V58.5Z" fill="#4ab97c"/>
<rect x="540.3" y="58.5" width="14.9" height="55.2" fill="#fef383"/>
<path d="M540.3 58.5V84.9h.71v.3h.71v.2h.71v.3h.71v-.1h.71v.7h.71v.3h.71v-.5h.71v1.1h.71v-1.1h.71v-.7h.71v1.9h.71v-.9h.71v1h.71v-.6h.71v2.3h.71v-1.1h.71v2.1h.71v-1.2h.71v.8h.71v1.4H555.2V58.5Z" fill="#a1549f"/>
<path d="M540.3 58.5V63.1h.71v-.1h.71h.71v-.4h.71v1h.71v-.8h.71v.6h.71v-.8h.71v.6h.71v-.4h.71v-.1h.71v1.4h.71v-1.1h.71v1.1h.71v-1.9h.71v.7h.71v.4h.71h.71v.2h.71v.1h.71v-.8H555.2V58.5Z" fill="#4ab97c"/>
<rect x="555.2" y="58.5" width="4.1" height="55.2" fill="#fef383"/>
<path d="M555.2 58.5V104.4h.68v.1h.68v.7h.68v-.2h.68v-.4h.68v-.4H559.3V58.5Z" fill="#a1549f"/>
<rect x="559.3" y="58.5" width="37.9" height="55.2" fill="#a1549f"/>
<rect x="597.2" y="58.5" width="19.2" height="55.2" fill="#a1549f"/>
<path d="M597.2 58.5V59.2h.71v1.3h.71v-.2h.71v-.2h.71v-.1h.71v.4h.71h.71v-.5h.71h.71v-.3h.71v.2h.71v-.4h.71v1.4h.71v-1.1h.71h.71v-.8h.71v-.1h.71h.71h.71h.71h.71h.71h.71h.71h.71h.71H616.4V58.5Z" fill="#4ab97c"/>
<rect x="616.4" y="58.5" width="10" height="55.2" fill="#fef383"/>
<path d="M616.4 58.5V110h.71v-.4h.71v.9h.71v-.1h.71v-.3h.71v-.5h.71v.5h.71v-.6h.71v.3h.71v.7h.71v-1.8h.71v.4h.71v.5h.71v.5H626.4V58.5Z" fill="#a1549f"/>
<path d="M616.4 58.5V71.3h.71v-.3h.71v-.5h.71v-.2h.71v.2h.71v-.3h.71v1.2h.71v-1.6h.71v1.1h.71v1.6h.71v-1.4h.71v-.3h.71v-.2h.71v.1H626.4V58.5Z" fill="#4ab97c"/>
<rect x="626.4" y="58.5" width="12.5" height="55.2" fill="#fef383"/>
<path d="M626.4 58.5V110.2h.74v-.6h.74v-.3h.74v.6h.74v.4h.74v-.4h.74v-1.2h.74v.9h.74h.74v.7h.74v-.5h.74h.74v-.1h.74v-.3h.74v-.3h.74v1.1h.74v-.2H638.9V58.5Z" fill="#a1549f"/>
<path d="M626.4 58.5V70.8h.74v-.8h.74v.5h.74v.2h.74v-1.2h.74v.7h.74v-.1h.74v.7h.74v-.9h.74v1.3h.74v-1.8h.74v2h.74v-.6h.74v.3h.74v-.7h.74v-.3h.74v.3H638.9V58.5Z" fill="#4ab97c"/>
<rect x="638.9" y="58.5" width="8.5" height="55.2" fill="#fef383"/>
<path d="M638.9 58.5V97.2h.71v1.8h.71v2.1h.71v.8h.71v5h.71v-2.6h.71v.7h.71v.9h.71v1.2h.71v-1.4h.71v.6h.71v.7H647.4V58.5Z" fill="#a1549f"/>
<path d="M638.9 58.5V96h.71v-1.3h.71v1.5h.71v1.9h.71v1.1h.71v1.5h.71v.4h.71v.8h.71v1.3h.71v-.2h.71v-.6h.71v.7H647.4V58.5Z" fill="#4ab97c"/>
<rect x="647.4" y="58.5" width="8.1" height="55.2" fill="#fef383"/>
<path d="M647.4 58.5V102.3h.74v.3h.74v.6h.74v.5h.74v.7h.74v-.3h.74v1.4h.74h.74v-.1h.74v1.6h.74v-.7H655.5V58.5Z" fill="#a1549f"/>
<path d="M647.4 58.5V95.9h.74v1.4h.74v-.1h.74v.8h.74v.1h.74v.9h.74v-.1h.74v1.1h.74v-.6h.74v1.5h.74v-.3H655.5V58.5Z" fill="#4ab97c"/>
<rect x="655.5" y="58.5" width="5.9" height="55.2" fill="#f8f1d6"/>
<path d="M655.5 58.5V111.9h.74v-.5h.74v.9h.74v-1.1h.74v1h.74v-1.5h.74v1.2h.74v-.2H661.4V58.5Z" fill="#4ab97c"/>
<rect x="661.4" y="58.5" width="22.8" height="55.2" fill="#fef383"/>
<path d="M661.4 58.5V87.8h.71v7.2h.71v6.7h.71v.8h.71v3.4h.71v1h.71v.6h.71v1.5h.71v.4h.71h.71v1h.71v-.2h.71v.3h.71v.6h.71v1.1h.71v-1.2h.71v1.2h.71v.7h.71v-.4h.71v-1.1h.71v1.3h.71v.5h.71v-.2h.71v.2h.71v.1h.71v-.2h.71v.2h.71v-.1h.71v.5h.71v-.3h.71v.1h.71H684.2V58.5Z" fill="#4ab97c"/>
<rect x="89.9" y="60.5" width="1.5" height="53.2" fill="#bfc0c2"/>
<rect x="91.4" y="58.8" width="0.9" height="31.8" fill="#fef383"/>
<rect x="92.3" y="71.3" width="2.2" height="42.4" fill="#bfc0c2"/>
<rect x="93.5" y="101" width="1.1" height="12.7" fill="#414143"/>
<rect x="89.9" y="107.5" width="1" height="6.2" fill="#414143"/>
<rect x="95" y="108.5" width="0.6" height="5.2" fill="#414143"/>
<rect x="582.4" y="59" width="0.8" height="6" fill="#bfc0c2"/>
<rect x="582.3" y="108.5" width="1" height="5.2" fill="#f6c9c0"/>
<rect x="555.9" y="91.5" width="0.8" height="22.2" fill="#f6c9c0"/>
<rect x="639.3" y="92" width="1" height="21.7" fill="#fef383"/>
<rect x="640.3" y="94.5" width="0.6" height="19.2" fill="#fef383"/>
<rect x="648.2" y="102.3" width="1.4" height="11.4" fill="#fef383"/>
<rect x="627.8" y="104" width="0.8" height="9.7" fill="#f8f1d6"/>
<rect x="22.5" y="117" width="22.5" height="55.2" fill="#414143"/>
<path d="M22.5 117V165.5h.73v-.4h.73v.2h.73v-.6h.73v.1h.73v-.1h.73v-.2h.73v.9h.73h.73v-.6h.73v-.1h.73v-.3h.73v.4h.73v.5h.73v.7h.73v-1.5h.73v-.1h.73v-.1h.73v1.5h.73v-2.3h.73v1.4h.73v.7h.73v-1.4h.73v.8h.73v-.3h.73v.7h.73v-.8h.73v.6h.73v-.1h.73v.7h.73v-.2H45V117Z" fill="#bfc0c2"/>
<rect x="45" y="117" width="22.5" height="55.2" fill="#414143"/>
<path d="M45 117V166.3h.73v.3h.73h.73v.2h.73v-1.2h.73v1.1h.73h.73v.4h.73h.73v.1h.73h.73v-.4h.73v.5h.73v-1.2h.73v.5h.73v-.5h.73v.3h.73v.1h.73v.1h.73v.1h.73v.3h.73v-.3h.73v-.1h.73v.6h.73v-.6h.73v.4h.73v-.5h.73v.3h.73v-.1h.73h.73v.6H67.5V117Z" fill="#bfc0c2"/>
<path d="M45 117V120.7h.73v.7h.73v-1.5h.73v-.3h.73v1.2h.73v-.5h.73v.3h.73h.73v-.6h.73v.3h.73v-.6h.73v.5h.73v.5h.73v-1h.73v.4h.73v.9h.73v.1h.73v-1.4h.73v.8h.73v-.3h.73v.4h.73v-.8h.73v.1h.73v1.4h.73v-1h.73v.6h.73v-.4h.73v-1h.73v1h.73v.3h.73v.7H67.5V117Z" fill="#a97c50"/>
<rect x="67.5" y="117" width="22.2" height="55.2" fill="#414143"/>
<path d="M67.5 117V167h.72v-.4h.72v-.8h.72v1.1h.72v-.1h.72v.5h.72v-.1h.72v-1.2h.72v.3h.72v1.2h.72v-1h.72v.2h.72v.4h.72v.5h.72v-.1h.72v-1h.72v1h.72v-.9h.72v.5h.72h.72v-.6h.72v.8h.72v-.5h.72v-.3h.72v-.6h.72v.7h.72v.2h.72v-.9h.72v.7h.72v-.6h.72v1.2H89.7V117Z" fill="#bfc0c2"/>
<path d="M67.5 117V139.8h.72v-.9h.72v-.1h.72v-.2h.72v.5h.72v-.3h.72v1.9h.72v-1.4h.72v-1.1h.72v.8h.72v-1.3h.72v1h.72v-.4h.72v.5h.72v.7h.72v-1.6h.72v.2h.72v-.4h.72v-.1h.72v.5h.72v.7h.72v-.2h.72v-.5h.72v.4h.72v-.8h.72h.72v.2h.72v-.1h.72v-.2h.72v.3h.72v-1.4H89.7V117Z" fill="#fef383"/>
<path d="M67.5 117V129.8h.72v.3h.72v-1h.72v.4h.72v-.1h.72v.2h.72v-.4h.72v.5h.72v-.9h.72v.1h.72v.3h.72v-.6h.72h.72v.3h.72v.4h.72v-.2h.72v.6h.72v-.7h.72v1h.72v-.5h.72v-.7h.72v1h.72v-.7h.72h.72v.4h.72h.72v-1h.72v.6h.72v-.4h.72v.2h.72v.8H89.7V117Z" fill="#a97c50"/>
<path d="M67.5 117V121.7h.72v.4h.72v.2h.72v.2h.72v-.5h.72v.5h.72h.72v-1h.72v.8h.72v.3h.72v-.4h.72v-.8h.72v.6h.72v.9h.72v-1.2h.72v.3h.72v1.5h.72v-1.6h.72v1.1h.72v-1.5h.72v1.5h.72v-1.6h.72v.5h.72v1.4h.72v-1.1h.72v.2h.72v-.4h.72v.4h.72v-.6h.72v.6h.72v-.1H89.7V117Z" fill="#a1549f"/>
<rect x="89.7" y="117" width="22.5" height="55.2" fill="#bfc0c2"/>
<path d="M89.7 117V133.9h.73v.5h.73v.5h.73v-1.2h.73v.3h.73v.9h.73v.2h.73v-.9h.73v.6h.73v.1h.73v.7h.73v-.8h.73v.2h.73v.3h.73v-.4h.73v.5h.73v-.1h.73v.3h.73v.3h.73v-.2h.73v1.4h.73v-.1h.73v.8h.73v-1.1h.73v.8h.73v.6h.73v5.4h.73v-4.9h.73v.4h.73v-1h.73v1.4H112.2V117Z" fill="#fef383"/>
<rect x="112.2" y="117" width="22.4" height="55.2" fill="#bfc0c2"/>
<path d="M112.2 117V167.1h.72v2h.72v-.8h.72v.4h.72v-.4h.72v.5h.72v-.3h.72v-.2h.72v.9h.72v-.7h.72v-.3h.72v.6h.72v-.3h.72v.6h.72v-.4h.72v.7h.72v-.1h.72v-.4h.72v.5h.72v-.2h.72v.4h.72v.1h.72v-.8h.72v1h.72v.4h.72v.2h.72v-.5h.72v.3h.72v-.4h.72v.6h.72v-.2H134.6V117Z" fill="#fef383"/>
<path d="M112.2 117V119.1h.72v-.2h.72v-.2h.72v.7h.72v-.1h.72v.4h.72v-.3h.72h.72v-.6h.72v-.6h.72v1h.72v-.6h.72v.4h.72v.2h.72v-.4h.72v-.1h.72v.1h.72v.1h.72v.9h.72v-1.2h.72h.72v.8h.72v.1h.72v-.1h.72v-.3h.72v.8h.72v-1.1h.72v-.3h.72v1.2h.72v.1h.72v-.9H134.6V117Z" fill="#a1549f"/>
<rect x="134.6" y="117" width="22.4" height="55.2" fill="#bfc0c2"/>
<path d="M134.6 117V170.5h.72v.1h.72v.1h.72v-.4h.72v.5h.72v-1.1h.72v.6h.72v.2h.72v.1h.72v-.1h.72v-.1h.72v.9h.72v-1.2h.72v-.3h.72v.2h.72v.5h.72v-.3h.72v-.1h.72v.5h.72h.72v-.4h.72v.9h.72v-1h.72v.2h.72v-.1h.72v1.4h.72v-1.1h.72v-.2h.72v-.5h.72h.72H157V117Z" fill="#fef383"/>
<path d="M134.6 117V119.5h.72v.3h.72v-1.6h.72v.4h.72v.2h.72v1.2h.72v-.5h.72v-.3h.72v.3h.72v-1.2h.72v1.6h.72v-.3h.72v-.2h.72v-.8h.72v.1h.72v.5h.72v-.4h.72v-.4h.72v.3h.72v.2h.72v.1h.72h.72v.8h.72v.8h.72v-2h.72v1h.72v-.5h.72v.3h.72v-.1h.72v-.3h.72H157V117Z" fill="#a1549f"/>
<rect x="157" y="117" width="22.2" height="55.2" fill="#bfc0c2"/>
<path d="M157 117V171.4h.72h.72v.8h.72v-.5h.72v-.1h.72v.2h.72v-.2h.72v.2h.72h.72v-.7h.72v.3h.72v-.3h.72v.5h.72v.1h.72v-.5h.72v.1h.72v.3h.72v-.9h.72v.3h.72v.3h.72v-.5h.72v1.1h.72v-.6h.72v.1h.72v.1h.72h.72v-.6h.72v.5h.72v-.3h.72v.5h.72v.1H179.2V117Z" fill="#fef383"/>
<path d="M157 117V118.6h.72v-.2h.72v.1h.72v-.3h.72v1.3h.72v-.7h.72v.5h.72v.3h.72v-.4h.72v-.8h.72v-.3h.72v.5h.72v.8h.72h.72v.7h.72v-1.3h.72v.4h.72v.3h.72v-.5h.72v.5h.72h.72v.4h.72v-.4h.72v.2h.72v-1.9h.72v1.2h.72v-.4h.72v.8h.72v-1.1h.72v-.5h.72v1.9H179.2V117Z" fill="#a1549f"/>
<rect x="179.2" y="117" width="22.1" height="55.2" fill="#fef383"/>
<path d="M179.2 117V119.1h.71v-.1h.71v-.2h.71v-.9h.71v1.7h.71v-1.2h.71v.3h.71v.7h.71v.2h.71v-.5h.71v-.2h.71v.4h.71v.1h.71v-1.2h.71v1h.71v-.5h.71v.5h.71v-1h.71v1.1h.71v-.3h.71v-.1h.71v-.1h.71h.71h.71v.2h.71v.6h.71v-.7h.71v-.3h.71h.71v.2h.71v.4H201.3V117Z" fill="#a1549f"/>
<rect x="201.3" y="117" width="23" height="55.2" fill="#fef383"/>
<path d="M201.3 117V120.4h.72v1h.72v.7h.72v-1.3h.72v.6h.72v.1h.72v.1h.72v-.4h.72v-.5h.72v-.4h.72v-.3h.72v.6h.72v-.1h.72v.5h.72v-.4h.72v.4h.72h.72v-.6h.72v1.6h.72v-2.1h.72v1.1h.72v.2h.72v-.6h.72v.4h.72v-.7h.72v1.4h.72v-.3h.72v-1.1h.72v.4h.72v.1h.72v-.4h.72v1.1H224.3V117Z" fill="#a1549f"/>
<rect x="224.3" y="117" width="31.4" height="55.2" fill="#414143"/>
<path d="M224.3 117V171.8h.71v-.3h.71v.3h.71v-.3h.71h.71v-.1h.71v.3h.71h.71v-.1h.71v.3h.71v-.3h.71v.4h.71v-.1h.71v.2h.71v-.4h.71v.5h.71v-.4h.71v.1h.71v-.1h.71h.71v-.1h.71v-.3h.71v.4h.71v-.1h.71h.71v.2h.71v.1h.71v-.4h.71v.2h.71v-.2h.71v.1h.71v-.5h.71v.7h.71v-.1h.71v-.4h.71v.1h.71h.71v.5h.71v-.1h.71v-.3h.71v.1h.71h.71v-.2h.71v-.4H255.7V117Z" fill="#bfc0c2"/>
<path d="M224.3 117V156.5h.71v7.9h.71v-10.2h.71v4.5h.71v.4h.71v5.2h.71v-4.5h.71v1.9h.71v-.7h.71v.9h.71v-1.1h.71v5.4h.71v-2.7h.71v-.4h.71v-1.2h.71v1.4h.71v-1.2h.71v2.4h.71v.1h.71v-1.5h.71v3.3h.71v-3.6h.71v5.6h.71v-1.9h.71v-.8h.71v-.1h.71v.2h.71v-.6h.71v1.8h.71v.6h.71v1.4h.71v-2h.71h.71v1.2h.71v.3h.71v.3h.71v-.6h.71v.3h.71v1.1h.71v-.1h.71v-.3h.71v.6h.71v-.2h.71v1.6H255.7V117Z" fill="#fef383"/>
<path d="M224.3 117V123.3h.71h.71v-1.1h.71v-.8h.71v1.2h.71v-.3h.71h.71v.4h.71h.71v-.2h.71v-.8h.71v.1h.71v.9h.71v.2h.71v.3h.71v-.5h.71v-.2h.71v-.2h.71v.7h.71v-.7h.71v.9h.71v.6h.71v-1.7h.71v.4h.71v-.4h.71v.5h.71v-.1h.71v.3h.71v.1h.71v-.2h.71v-.1h.71v-.5h.71v1h.71v-1.2h.71v.2h.71h.71v.7h.71v.4h.71v-.3h.71v-.9h.71h.71v.5h.71v-.1h.71v.2H255.7V117Z" fill="#a1549f"/>
<rect x="255.7" y="117" width="22.3" height="55.2" fill="#bfc0c2"/>
<path d="M255.7 117V163.9h.72v.1h.72v.7h.72v-.7h.72v.8h.72v1.2h.72v-.5h.72v-.4h.72v1.4h.72v-.2h.72v-1.3h.72v.9h.72v.3h.72v-.2h.72v.9h.72v.8h.72v.6h.72v-1.7h.72v1.4h.72v.1h.72v.7h.72v-.9h.72v.6h.72h.72v1.4h.72v-.4h.72v-1h.72v1.1h.72v.3h.72v-.5h.72v.1H278V117Z" fill="#fef383"/>
<path d="M255.7 117V124.6h.72v1h.72v-.7h.72v.5h.72v.5h.72v-.7h.72v-.3h.72v.7h.72v-1.2h.72v-.1h.72v.6h.72v.1h.72v-.1h.72v.9h.72v-1.3h.72v.9h.72v-.1h.72v.3h.72v-.5h.72v-.6h.72v.6h.72v.5h.72v-.5h.72v.3h.72h.72v-.4h.72v.3h.72h.72v-.2h.72v.1h.72v.5H278V117Z" fill="#a1549f"/>
<path d="M255.7 117V120.6h.72v.6h.72v.1h.72v-.4h.72v-.4h.72v1.1h.72v-1.4h.72v1.7h.72v-1.2h.72v.9h.72v-1.3h.72v1.1h.72v-1.1h.72v.4h.72v.5h.72v-.1h.72v.2h.72v.4h.72v-.7h.72v.4h.72v-.7h.72v-.3h.72v.4h.72v-.3h.72v.3h.72v.3h.72v-.6h.72v1h.72v-.2h.72v-.7h.72v.4H278V117Z" fill="#4ab97c"/>
<rect x="278" y="117" width="13.2" height="55.2" fill="#fef383"/>
<path d="M278 117V126.8h.73v-1.5h.73v1.1h.73v.6h.73v-.8h.73v.2h.73v.5h.73v-1h.73v.2h.73v.3h.73v.6h.73v-.2h.73v-.9h.73v.7h.73v-.4h.73v.9h.73v.4h.73v-1.4H291.2V117Z" fill="#a97c50"/>
<path d="M278 117V126.1h.73v-.3h.73v.2h.73v-.8h.73v.4h.73v.9h.73v-.9h.73v-.4h.73v.3h.73v1.3h.73v-.8h.73v-.2h.73v-1.3h.73v.9h.73v.2h.73v-.4h.73v.5h.73v.2H291.2V117Z" fill="#4ab97c"/>
<rect x="291.2" y="117" width="19.2" height="55.2" fill="#fef383"/>
<path d="M291.2 117V127.6h.71v.3h.71v.3h.71v-.2h.71v-.3h.71v.6h.71h.71v-.1h.71v-.4h.71v.4h.71v-.2h.71v.2h.71v-.4h.71v-.4h.71v.2h.71v.3h.71v3.7h.71v-3.7h.71v-.7h.71v.1h.71v-.7h.71v.6h.71v-.1h.71h.71v1.2h.71v-.1h.71v-.4H310.4V117Z" fill="#a97c50"/>
<path d="M291.2 117V126.6h.71v.5h.71v-.1h.71v-.6h.71h.71v.5h.71h.71v-.8h.71v.5h.71v.4h.71v.1h.71v.5h.71v-1.5h.71v1.8h.71v-1.8h.71v.9h.71v-.2h.71v.1h.71v-1.2h.71v.8h.71v.5h.71v.2h.71v.1h.71v-.3h.71v-.5h.71v1.4h.71v-1.2H310.4V117Z" fill="#4ab97c"/>
<rect x="310.4" y="117" width="35.8" height="55.2" fill="#fef383"/>
<path d="M310.4 117V131.2h.72v1.7h.72v-.4h.72v-2.8h.72h.72v2.1h.72v5.2h.72v-7.3h.72v2.1h.72v.2h.72v7.9h.72v-7.2h.72v.4h.72v-3.7h.72v4.5h.72h.72v-1.6h.72v.4h.72v.9h.72v.3h.72v-1.6h.72v-5.5h.72v5h.72v1.3h.72v-.6h.72v.1h.72v.2h.72v7.4h.72v-7.7h.72v1.6h.72v2.3h.72v-4.6h.72v3.7h.72v5.5h.72v-3.1h.72v-1.4h.72v-2.5h.72v3.1h.72v-1.2h.72v2.2h.72v10.9h.72v-8.4h.72v3.2h.72v-2.5h.72v1.1h.72v.1h.72v-5.2h.72v3.2h.72v-1.9h.72v-6.8H346.2V117Z" fill="#a97c50"/>
<path d="M310.4 117V125h.72v-.2h.72v-.4h.72v1.1h.72v-.5h.72v-.2h.72v.2h.72v.9h.72v-.7h.72v-.3h.72v1.3h.72v-.6h.72v-.8h.72v.6h.72v-.4h.72h.72v1.3h.72v-1.4h.72v-.3h.72v.8h.72v-1.2h.72v.7h.72v.3h.72v-.4h.72v.1h.72v.3h.72v-.2h.72v.2h.72v-.4h.72h.72v1.4h.72v-.4h.72v3.1h.72v-1.1h.72v.7h.72v.1h.72v-1.1h.72v.4h.72v-.5h.72v-.1h.72v.2h.72v1h.72v-.3h.72v-2.2h.72v-.9h.72v-.8h.72v-.6h.72v1h.72v-.1h.72v-1.3H346.2V117Z" fill="#a1549f"/>
<path d="M310.4 117V125.8h.72v-.4h.72v-.5h.72v-.1h.72v.1h.72v-.1h.72v-.2h.72v.5h.72v-.1h.72v-.1h.72v-.2h.72v-.2h.72v-.1h.72v1.5h.72v-.8h.72v-.4h.72v-.2h.72v.6h.72v.1h.72v-.9h.72v.3h.72v-.3h.72v-.4h.72v.7h.72v-.7h.72v.6h.72v-.6h.72v.6h.72h.72v-.2h.72v-.2h.72v-.2h.72v.2h.72v.7h.72v-.9h.72v.7h.72v-.1h.72v-.7h.72v.5h.72v-.6h.72v1.1h.72v-1.5h.72v-.1h.72v1.1h.72v-.6h.72h.72v.6h.72v.6h.72v-1.6h.72v.7H346.2V117Z" fill="#4ab97c"/>
<rect x="346.2" y="117" width="23.2" height="55.2" fill="#fef383"/>
<path d="M346.2 117V159.1h.72v2.3h.72v2.5h.72v1.3h.72v1.8h.72v1.9h.72v.3h.72v.1h.72v.8h.72v.7h.72v-.5h.72v.3h.72v.9h.72v-.3h.72v.2h.72v.4h.72v-.4h.72v.5h.72v.2h.72v.1h.72h.72h.72h.72h.72h.72h.72h.72h.72h.72h.72h.72H369.4V117Z" fill="#a97c50"/>
<rect x="369.4" y="117" width="2.5" height="55.2" fill="#fef383"/>
<path d="M369.4 117V151.6h.83v-.4h.83v.3H371.9V117Z" fill="#a97c50"/>
<path d="M369.4 117V124h.83v-.7h.83v-.4H371.9V117Z" fill="#a1549f"/>
<path d="M369.4 117V120.1h.83v-.3h.83v.3H371.9V117Z" fill="#4ab97c"/>
<rect x="371.9" y="117" width="18.9" height="55.2" fill="#fef383"/>
<path d="M371.9 117V139.4h.73v.5h.73v-.2h.73v.7h.73v.6h.73v3h.73v-2.2h.73v-1.5h.73v1h.73v.5h.73v.2h.73v-.1h.73v1.1h.73v-.6h.73h.73v1.4h.73v-.3h.73v-.2h.73v.7h.73v.5h.73v-.6h.73v-.2h.73v.9h.73v1h.73v.7h.73v-1.1H390.8V117Z" fill="#a97c50"/>
<path d="M371.9 117V125.9h.73v.4h.73v-1.1h.73v.5h.73v-.3h.73h.73v.1h.73v.1h.73v-.6h.73v.8h.73v-.8h.73v.7h.73v-.1h.73v.6h.73v-.3h.73v.3h.73v-.2h.73v.6h.73v-1.6h.73v.9h.73v.1h.73v.3h.73v-.8h.73v.2h.73v-5.4h.73v6H390.8V117Z" fill="#a1549f"/>
<path d="M371.9 117V122.4h.73v-1.4h.73v.6h.73h.73v-.4h.73h.73v-.9h.73v.6h.73v.1h.73v-1.2h.73v1.1h.73v-.7h.73v1h.73v.3h.73v-.3h.73v.5h.73v-.1h.73v-.7h.73v.1h.73h.73v.4h.73v-.8h.73v1.5h.73v-.9h.73v-.2h.73v.2H390.8V117Z" fill="#4ab97c"/>
<rect x="390.8" y="117" width="26.2" height="55.2" fill="#414143"/>
<path d="M390.8 117V171h.73v.3h.73v-.2h.73v-.1h.73v.1h.73v-.6h.73v.4h.73v.2h.73v.2h.73v.6h.73v-1.6h.73v.8h.73v.5h.73v-1.2h.73v.7h.73v.4h.73v-1.4h.73v1.9h.73v-1h.73v-.9h.73v1.6h.73v-.1h.73v.1h.73v-1h.73v.3h.73v.8h.73v-1h.73v-.2h.73v.6h.73v-.8h.73v.2h.73v1.1h.73v-1h.73v.5h.73v-.5h.73v-.1H417V117Z" fill="#bfc0c2"/>
<path d="M390.8 117V169h.73v-.1h.73v-.2h.73v-1h.73v.8h.73v-.4h.73v-.2h.73v-.6h.73v1.9h.73v-.7h.73v-1h.73h.73v.2h.73v.3h.73v-.2h.73v.9h.73v-.7h.73v.6h.73v.4h.73v-1.2h.73v.1h.73v.1h.73v-.2h.73v.4h.73v-.4h.73v.1h.73v.5h.73v.2h.73v-.9h.73v.3h.73v-1h.73v1.5h.73v.1h.73v-.6h.73v.7h.73v-.4H417V117Z" fill="#fef383"/>
<path d="M390.8 117V127.1h.73v.8h.73v-1h.73h.73v.1h.73v.3h.73v.7h.73v-.7h.73v-.6h.73v-.6h.73v.6h.73v-.2h.73v.4h.73v.4h.73v.1h.73v-.3h.73v-.2h.73v-.5h.73v1.1h.73v-.6h.73v.8h.73v-.3h.73v-.3h.73v-.1h.73v.2h.73v-.5h.73v.2h.73v-.2h.73v-1h.73v1.9h.73v-.8h.73v-.1h.73v.2h.73v.2h.73v-.3h.73v.9H417V117Z" fill="#a97c50"/>
<path d="M390.8 117V124.2h.73v-.3h.73v.5h.73v-1.8h.73v.8h.73v-.5h.73v.3h.73v.2h.73v-.4h.73v.4h.73v.1h.73v.6h.73v-.9h.73v.2h.73v.6h.73v.3h.73v-.8h.73v-.4h.73v-.9h.73v.1h.73v1.1h.73v-.7h.73v1.1h.73v-1.3h.73v.8h.73v-.5h.73v.9h.73v-.9h.73v.2h.73v-.1h.73v1h.73v-.7h.73v.7h.73v-.6h.73v-.7h.73v-.1H417V117Z" fill="#4ab97c"/>
<rect x="417" y="117" width="19.3" height="55.2" fill="#bfc0c2"/>
<path d="M417 117V170.1h.71v.1h.71v-.5h.71v.5h.71v-.7h.71v.2h.71v.6h.71v.1h.71v-.3h.71v-.3h.71v.8h.71v-.3h.71v-.3h.71v-.4h.71v.5h.71h.71v-.1h.71v.4h.71h.71v.9h.71v-1.6h.71v.8h.71h.71v-.3h.71h.71v-.2h.71v-.2H436.3V117Z" fill="#fef383"/>
<path d="M417 117V123.2h.71v-6.2h.71v6h.71h.71v.8h.71v-.6h.71v-.4h.71v.7h.71v.4h.71v-.7h.71v-.7h.71v1.2h.71v-.7h.71v-.6h.71v1.3h.71v-1.2h.71v.9h.71v-.1h.71v-.3h.71v-.4h.71v1.1h.71v-1.1h.71v.9h.71v-.8h.71v.5h.71v-.7h.71v.3H436.3V117Z" fill="#a1549f"/>
<path d="M417 117V120.5h.71v.3h.71v-1.1h.71v-.3h.71v.9h.71v-.1h.71v-.3h.71v.9h.71v-.8h.71v-.2h.71v.3h.71v-.2h.71v-.2h.71v-.1h.71v.8h.71v-1.4h.71h.71v1.1h.71v-.6h.71v.5h.71v-.4h.71v.5h.71v-.7h.71v.6h.71h.71v-.6h.71v-.1H436.3V117Z" fill="#4ab97c"/>
<rect x="436.3" y="117" width="15" height="55.2" fill="#fef383"/>
<path d="M436.3 117V127h.71v-.5h.71v-.3h.71v.7h.71v-1.2h.71v1.3h.71v-.3h.71v-.8h.71v.7h.71v-1.1h.71v1.1h.71v.3h.71v-1.1h.71v3.4h.71v-2.7h.71v.2h.71v-1.4h.71v.3h.71v.7h.71v-.1h.71v.1H451.3V117Z" fill="#a97c50"/>
<path d="M436.3 117V125.2h.71h.71v.8h.71v-.5h.71v.5h.71v-.2h.71v-.4h.71v.6h.71v-.8h.71v1.2h.71v-.1h.71v-.1h.71v-1.1h.71v1h.71v-.2h.71v-.3h.71v.6h.71v-.3h.71v-.6h.71v.5h.71v.1H451.3V117Z" fill="#a1549f"/>
<path d="M436.3 117V121.9h.71v-1.3h.71v1.6h.71v-1.7h.71v-.7h.71v1.2h.71v.3h.71v-1.3h.71v.7h.71v.7h.71v.6h.71v-.4h.71v-.6h.71v.2h.71v-.7h.71h.71v.8h.71v-.8h.71v1.4h.71v-1.2h.71v1H451.3V117Z" fill="#4ab97c"/>
<rect x="451.3" y="117" width="19.9" height="55.2" fill="#fef383"/>
<path d="M451.3 117V125h.71v-.6h.71v1h.71v-.3h.71v-.4h.71v.3h.71v-.1h.71v.9h.71v-.9h.71v1.6h.71v-1.4h.71v1.2h.71v-1.6h.71v-.5h.71v.4h.71v-.7h.71v1.8h.71v-.1h.71v.7h.71v-.8h.71v-.3h.71v.8h.71v-.5h.71v.1h.71v.6h.71v-1.1h.71v.1h.71v-.1H471.2V117Z" fill="#a97c50"/>
<path d="M451.3 117V124.4h.71v-.5h.71v1.2h.71v-.2h.71v-.5h.71v.6h.71v-1.1h.71v1.6h.71v-1h.71v.1h.71v-.3h.71v-.6h.71h.71v1.2h.71v-1h.71v.1h.71v.1h.71v.5h.71v-.2h.71v.3h.71v-.1h.71v.2h.71v-.4h.71v.1h.71v.2h.71v-.4h.71v1h.71v-1.5H471.2V117Z" fill="#4ab97c"/>
<rect x="471.2" y="117" width="17.3" height="55.2" fill="#fef383"/>
<path d="M471.2 117V124.5h.72v-.1h.72v-.1h.72v.2h.72v-.2h.72v1.2h.72v-.2h.72v-1.8h.72v1.4h.72h.72v.4h.72v-.6h.72v-.6h.72v5.7h.72v-6.3h.72v.6h.72v1h.72v-.6h.72v.1h.72v.5h.72v.3h.72v-1.2h.72v-.6h.72v1.8H488.5V117Z" fill="#4ab97c"/>
<rect x="488.5" y="117" width="28.5" height="55.2" fill="#fef383"/>
<path d="M488.5 117V144.2h.71v-1.9h.71v-.6h.71v-.1h.71v-1.4h.71v.3h.71v.1h.71v-.4h.71v-.8h.71v-.3h.71v-.3h.71v.1h.71v-.5h.71v.6h.71v-1.4h.71v-.1h.71v-.8h.71v.3h.71v.2h.71v-.7h.71v-.4h.71v.3h.71v-.5h.71v-.1h.71v.3h.71v-.9h.71v-.5h.71v.8h.71v.1h.71h.71h.71v-1.2h.71v.3h.71v-.9h.71v1.2h.71v-1.5h.71v1.2h.71v.4h.71v-2.2h.71v.8H517V117Z" fill="#a97c50"/>
<path d="M488.5 117V142h.71v-.9h.71v.6h.71v-1.2h.71v-.9h.71v.5h.71v-.9h.71v-.5h.71v-1h.71h.71v.2h.71v-.3h.71v-.7h.71v.2h.71h.71v-.5h.71v.4h.71v-.4h.71v-.7h.71v.9h.71v-1.2h.71v1h.71v-.2h.71v-1.4h.71v.5h.71v.2h.71v-1.4h.71v.9h.71h.71v-.1h.71h.71v-1.4h.71v-.6h.71v.2h.71v-.3h.71v.4h.71v1h.71v-2.2h.71v1.2h.71v.3H517V117Z" fill="#a1549f"/>
<path d="M488.5 117V124.6h.71v-.6h.71v-.1h.71v-.6h.71v1.4h.71v-.4h.71v.4h.71v-1.3h.71v1.2h.71h.71v.3h.71v-.2h.71v-1.5h.71v1.3h.71v2.6h.71v-2.1h.71v-.6h.71v-1h.71v.5h.71v.7h.71h.71v-.1h.71v.3h.71v-.6h.71v.1h.71v-.1h.71v.4h.71v-.4h.71v-.1h.71v.3h.71v.9h.71v-.7h.71v-.2h.71v.3h.71v-.1h.71v-.1h.71v.4h.71v-.1h.71v.6h.71v-.8H517V117Z" fill="#4ab97c"/>
<rect x="517" y="117" width="23.3" height="55.2" fill="#fef383"/>
<path d="M517 117V138.9h.73v.1h.73v-.1h.73v.3h.73v-.3h.73h.73v-.3h.73v-.2h.73v1.2h.73v.2h.73v-.3h.73v-.7h.73v.8h.73v-.5h.73v.5h.73v-1.2h.73v2.5h.73v-.9h.73v-1.3h.73v1.1h.73v-.5h.73v.2h.73v-.4h.73v-.2h.73v.8h.73v-.7h.73v-.3h.73v.9h.73v-.1h.73v-1.3h.73v1.2h.73v-.4H540.3V117Z" fill="#a97c50"/>
<path d="M517 117V138.2h.73v1h.73v-1.3h.73h.73v1.3h.73v-.8h.73h.73v.5h.73v-.1h.73v-.8h.73v.4h.73v-.5h.73v1.5h.73v-1.2h.73v.8h.73v-1h.73v1.1h.73v-.7h.73v1.2h.73v-1.5h.73v.2h.73v-.1h.73v-.6h.73v1.5h.73v.1h.73v-1h.73v1.1h.73v.1h.73v-.9h.73v-.2h.73v-.3h.73v.2H540.3V117Z" fill="#a1549f"/>
<path d="M517 117V122.8h.73v1.2h.73v-1.3h.73v.6h.73v-.1h.73v-.3h.73v.1h.73v1.4h.73v-1h.73v-1.2h.73v1.1h.73v.6h.73v-.4h.73v-.2h.73v.5h.73v-.8h.73v.4h.73v-.4h.73v2h.73v-1.7h.73v-.7h.73v1.3h.73v-.8h.73v.6h.73v-.2h.73h.73v-.3h.73v.3h.73v.3h.73v-1.4h.73v1.1h.73H540.3V117Z" fill="#4ab97c"/>
<rect x="540.3" y="117" width="14.9" height="55.2" fill="#fef383"/>
<path d="M540.3 117V149.1h.71v-1.2h.71v-.1h.71v-.4h.71v.5h.71v-.8h.71v-.2h.71v-.2h.71v1h.71v-.5h.71v1.5h.71v-1.1h.71v.2h.71v.4h.71v-.3h.71v1.8h.71h.71v-.9h.71v1.2h.71v1h.71v-.3H555.2V117Z" fill="#a1549f"/>
<path d="M540.3 117V123.1h.71v-.5h.71v-.4h.71v1.4h.71v.5h.71v-1.1h.71h.71v.4h.71v-.8h.71v1.3h.71v-.5h.71v.3h.71v-.5h.71v-.3h.71v.4h.71v.9h.71v-.8h.71h.71v-1.3h.71v.8h.71v.4H555.2V117Z" fill="#4ab97c"/>
<rect x="555.2" y="117" width="4.1" height="55.2" fill="#fef383"/>
<path d="M555.2 117V163.5h.68v-.5h.68v-.4h.68v1h.68v-1h.68v.5H559.3V117Z" fill="#a1549f"/>
<rect x="559.3" y="117" width="37.9" height="55.2" fill="#a1549f"/>
<rect x="597.2" y="117" width="19.2" height="55.2" fill="#a1549f"/>
<path d="M597.2 117V120.4h.71v-.7h.71v-.6h.71v.1h.71v.7h.71v-1h.71h.71v.2h.71v-.6h.71v.9h.71v.1h.71v-.4h.71v-.7h.71v.8h.71v-.8h.71v-.5h.71v-.7h.71h.71h.71h.71h.71h.71h.71h.71h.71h.71H616.4V117Z" fill="#4ab97c"/>
<rect x="616.4" y="117" width="10" height="55.2" fill="#fef383"/>
<path d="M616.4 117V168.6h.71h.71v.7h.71v-1.1h.71v1h.71v-1h.71v.7h.71v-.9h.71v1.6h.71v-.8h.71v.1h.71v.1h.71v.9h.71v-1H626.4V117Z" fill="#a97c50"/>
<path d="M616.4 117V168.5h.71v-.4h.71v-.8h.71v-.3h.71v.5h.71v.4h.71v.6h.71v-.8h.71v-.4h.71v-.1h.71v.1h.71v1.4h.71v.1h.71v-1.2H626.4V117Z" fill="#a1549f"/>
<path d="M616.4 117V129.1h.71v-.3h.71v1.1h.71v-.2h.71v1h.71v.1h.71v-2.1h.71v.7h.71v.6h.71v-.6h.71v-.1h.71h.71v-.3h.71v1.4H626.4V117Z" fill="#4ab97c"/>
<rect x="626.4" y="117" width="12.5" height="55.2" fill="#fef383"/>
<path d="M626.4 117V169.1h.74v.3h.74v-.6h.74v-.7h.74v1.4h.74v-.2h.74v-.5h.74v-.2h.74v-.1h.74v.6h.74v.6h.74v-.6h.74v-.4h.74v-.2h.74v.7h.74v-.4h.74v-.3H638.9V117Z" fill="#a1549f"/>
<path d="M626.4 117V128.8h.74v.3h.74v.3h.74v.2h.74v-.4h.74v1.2h.74v-1.8h.74v.3h.74v-.3h.74v1.2h.74v-.7h.74v.1h.74v-.4h.74v.1h.74h.74v.3h.74v-.2H638.9V117Z" fill="#4ab97c"/>
<rect x="638.9" y="117" width="8.5" height="55.2" fill="#fef383"/>
<path d="M638.9 117V154.8h.71v2.3h.71v1.9h.71v1.5h.71v1.2h.71v1.6h.71v.3h.71v.3h.71v1h.71v-.1h.71v.3h.71v.7H647.4V117Z" fill="#a1549f"/>
<path d="M638.9 117V152.9h.71v1.1h.71v.7h.71v2.9h.71v-.6h.71v1.3h.71v1.4h.71v.7h.71v-.4h.71v3.6h.71v-2.2h.71v.7H647.4V117Z" fill="#4ab97c"/>
<rect x="647.4" y="117" width="8.1" height="55.2" fill="#fef383"/>
<path d="M647.4 117V160.2h.74v.9h.74v.2h.74v-.8h.74v1.6h.74v.6h.74v.9h.74v.7h.74v.9h.74v-.2h.74v-.4H655.5V117Z" fill="#a1549f"/>
<path d="M647.4 117V154.3h.74v1.4h.74v.4h.74v2.1h.74v-1.8h.74v.2h.74v.5h.74v.5h.74v.7h.74v1.1h.74v-.3H655.5V117Z" fill="#4ab97c"/>
<rect x="655.5" y="117" width="5.9" height="55.2" fill="#f8f1d6"/>
<path d="M655.5 117V170.3h.74h.74h.74v-.6h.74v.8h.74v-.4h.74v.1h.74v1.5H661.4V117Z" fill="#4ab97c"/>
<rect x="661.4" y="117" width="22.8" height="55.2" fill="#fef383"/>
<path d="M661.4 117V146.1h.71v6.3h.71v8.5h.71v.6h.71v3.3h.71v.8h.71v.5h.71v.2h.71v1.2h.71v1.6h.71v-.2h.71h.71v.1h.71v.6h.71h.71v1.2h.71v-.4h.71v.7h.71v-.7h.71v.9h.71v-.3h.71v.3h.71v.3h.71v-.2h.71v.3h.71v-.1h.71v.1h.71v.4h.71v-.1h.71h.71v-.1h.71v.1H684.2V117Z" fill="#4ab97c"/>
<rect x="89.9" y="119" width="1.5" height="53.2" fill="#bfc0c2"/>
<rect x="91.4" y="117.2" width="0.9" height="31.8" fill="#fef383"/>
<rect x="92.3" y="129.8" width="2.2" height="42.4" fill="#bfc0c2"/>
<rect x="93.5" y="159.5" width="1.1" height="12.7" fill="#414143"/>
<rect x="89.9" y="166" width="1" height="6.2" fill="#414143"/>
<rect x="95" y="167" width="0.6" height="5.2" fill="#414143"/>
<rect x="582.4" y="117.5" width="0.8" height="6" fill="#bfc0c2"/>
<rect x="582.3" y="167" width="1" height="5.2" fill="#f6c9c0"/>
<rect x="555.9" y="150" width="0.8" height="22.2" fill="#f6c9c0"/>
<rect x="639.3" y="150.5" width="1" height="21.7" fill="#fef383"/>
<rect x="640.3" y="153" width="0.6" height="19.2" fill="#fef383"/>
<rect x="648.2" y="160.8" width="1.4" height="11.4" fill="#fef383"/>
<rect x="627.8" y="162.5" width="0.8" height="9.7" fill="#f8f1d6"/>
<rect x="368.4" y="151.4" width="0.9" height="20.8" fill="#fef383"/>
<rect x="22.5" y="175.4" width="22.5" height="55.2" fill="#bfc0c2"/>
<rect x="45" y="175.4" width="22.5" height="55.2" fill="#bfc0c2"/>
<path d="M45 175.4V177.8h.73v-.7h.73v-1h.73v1.1h.73v-.5h.73v.9h.73v.2h.73v-1.1h.73v.6h.73h.73v-.2h.73v-.1h.73v-.1h.73v.5h.73v-.3h.73v.4h.73v-.7h.73v-.3h.73v-.3h.73v.6h.73v-.2h.73h.73v.2h.73v-.4h.73v.4h.73v-.2h.73v.9h.73v-.3h.73h.73v-.6h.73v-.2H67.5V175.4Z" fill="#4ab97c"/>
<rect x="67.5" y="175.4" width="22.2" height="55.2" fill="#fef383"/>
<path d="M67.5 175.4V218h.72v1.4h.72v-.8h.72v-.2h.72v.4h.72v.4h.72v-.3h.72v.1h.72v-.1h.72v-.6h.72v.3h.72v-.8h.72v.4h.72v2.8h.72v-2.5h.72v-.2h.72v-.7h.72v1.4h.72v-.5h.72v-.2h.72v-1h.72v.4h.72v2h.72v-1.1h.72v.4h.72v.2h.72v-.5h.72v.6h.72v-1h.72v-.2h.72v1.2H89.7V175.4Z" fill="#a97c50"/>
<path d="M67.5 175.4V215.4h.72v-4h.72v3.5h.72h.72v.9h.72v-1.3h.72v.6h.72h.72v-3.9h.72v4h.72v.1h.72v-.1h.72v-.2h.72v.1h.72v.2h.72v-.1h.72v.2h.72v-.3h.72v-.8h.72v1.4h.72v-.3h.72v-.1h.72v.1h.72v-.3h.72v.7h.72v-.8h.72h.72v.7h.72v-.6h.72v-.6h.72v1.7H89.7V175.4Z" fill="#bfc0c2"/>
<path d="M67.5 175.4V181.4h.72v-.8h.72v-.7h.72v1.5h.72v-.9h.72v1h.72v-.5h.72v.2h.72h.72v-.8h.72h.72v.8h.72v-.5h.72v.6h.72v-.3h.72v1h.72v-1h.72v-.4h.72v.5h.72v-.5h.72v.7h.72v-.3h.72v-.7h.72v.9h.72v.5h.72v-.3h.72v-.3h.72v-1.1h.72v1.1h.72v-.2h.72v.2H89.7V175.4Z" fill="#a1549f"/>
<rect x="89.7" y="175.4" width="22.5" height="55.2" fill="#bfc0c2"/>
<path d="M89.7 175.4V201.6h.73v3.5h.73v1.7h.73v1.5h.73v2.6h.73v.3h.73v1h.73v1.6h.73v.4h.73v1.3h.73v2h.73v.7h.73v2.2h.73v.1h.73v.8h.73v.9h.73v.9h.73v2h.73v1.2h.73v.7h.73v1.3h.73v.8h.73v1.3h.73h.73v.2h.73h.73h.73h.73h.73h.73H112.2V175.4Z" fill="#fcb216"/>
<rect x="112.2" y="175.4" width="22.4" height="55.2" fill="#fef383"/>
<path d="M112.2 175.4V186.9h.72v.1h.72v.8h.72v-.7h.72v-.2h.72h.72v.7h.72v.6h.72v-.8h.72v.4h.72v-1h.72v.2h.72v.4h.72v.6h.72v-1.2h.72v.8h.72v-1.4h.72v1.8h.72v-1h.72v.5h.72v-.4h.72h.72v-.2h.72v.1h.72v-.2h.72v.7h.72v-.9h.72h.72v1.1h.72v-.7h.72H134.6V175.4Z" fill="#fcb216"/>
<path d="M112.2 175.4V176.8h.72v-.8h.72v.6h.72v-.2h.72v.3h.72v-.7h.72v.4h.72v.3h.72v-.3h.72v-.1h.72v-.2h.72v.4h.72v.7h.72v-1.2h.72v.3h.72v-.9h.72v.8h.72v.2h.72v.2h.72v-.2h.72v-.2h.72v.9h.72v-.2h.72v.2h.72v-.8h.72v-.2h.72v.6h.72v-.4h.72v.5h.72v-.7h.72v.7H134.6V175.4Z" fill="#a1549f"/>
<rect x="134.6" y="175.4" width="22.4" height="55.2" fill="#fef383"/>
<path d="M134.6 175.4V183.2h.72v.4h.72v-1.4h.72v1.3h.72v-1.4h.72v1.1h.72v-.2h.72v-1.2h.72v1h.72h.72v-.5h.72v.6h.72v.1h.72v-.4h.72v.3h.72v.1h.72h.72v.5h.72v-.2h.72v-.6h.72v.9h.72v-.2h.72v.7h.72v-.6h.72v-.1h.72h.72v-.3h.72v-.1h.72v.2h.72v-.9h.72v-1.9H157V175.4Z" fill="#fcb216"/>
<path d="M134.6 175.4V176.9h.72h.72v-.5h.72v-.1h.72v.6h.72v-.5h.72v-.3h.72v.3h.72v-.4h.72v.6h.72v-.1h.72v-.5h.72v.8h.72v-.1h.72v.7h.72v-1.1h.72h.72v.3h.72v-.8h.72v.2h.72v.7h.72v.2h.72v-.1h.72v.2h.72v-.7h.72v-.6h.72v.4h.72v.5h.72v.4h.72v-.5h.72v.3H157V175.4Z" fill="#a1549f"/>
<rect x="157" y="175.4" width="22.2" height="55.2" fill="#fef383"/>
<path d="M157 175.4V182.1h.72v.7h.72v-.3h.72v-.3h.72v1.2h.72v-1.4h.72v1.3h.72v-1.2h.72v.1h.72v.2h.72v.8h.72v.1h.72v-1.4h.72v1h.72v-1.6h.72v1h.72v-1.2h.72v1.3h.72v.2h.72v.2h.72v.2h.72v-.6h.72v1.1h.72v-.5h.72v.3h.72h.72v-.5h.72v.3h.72v.1h.72v-.7h.72H179.2V175.4Z" fill="#fcb216"/>
<path d="M157 175.4V175.9h.72v-.2h.72v.9h.72v.2h.72v-.8h.72v.5h.72v-.5h.72v.9h.72v.1h.72v-.7h.72v-.1h.72v.6h.72v-.3h.72v-.1h.72v.6h.72v-.8h.72v.4h.72v-.4h.72v.6h.72v-.5h.72v.1h.72v-.1h.72h.72v.2h.72h.72v-.1h.72v.2h.72v-.5h.72v-.3h.72v.3h.72v1H179.2V175.4Z" fill="#a1549f"/>
<rect x="179.2" y="175.4" width="22.1" height="55.2" fill="#fef383"/>
<path d="M179.2 175.4V180.2h.71v-.2h.71v-.5h.71v.8h.71v.5h.71v-.4h.71v-.8h.71v.1h.71v1.3h.71v-1h.71v.2h.71v.8h.71v-.7h.71v-.5h.71v.9h.71v-.1h.71v-.8h.71v-.1h.71v1.2h.71v-1.1h.71v-.2h.71v-.2h.71v1h.71v-.1h.71v-.3h.71v.5h.71v-.2h.71v-.3h.71v.2h.71v-.3h.71v.5H201.3V175.4Z" fill="#fcb216"/>
<path d="M179.2 175.4V176.8h.71v.1h.71v-.4h.71v.2h.71v.9h.71v-.5h.71v-1.3h.71v.2h.71v.3h.71v.4h.71v-.3h.71v-.7h.71v1h.71v-1.2h.71v.5h.71h.71v-.3h.71v1.4h.71v-1.2h.71v.2h.71h.71v1.3h.71v-1.1h.71v.2h.71v.7h.71v-.6h.71v.2h.71v-.6h.71v.1h.71h.71v-.1H201.3V175.4Z" fill="#a1549f"/>
<rect x="201.3" y="175.4" width="23" height="55.2" fill="#fef383"/>
<path d="M201.3 175.4V181.3h.72h.72v.9h.72v-1.1h.72v.2h.72v.5h.72v-.3h.72v.3h.72v-.1h.72v.2h.72v-.3h.72v1.6h.72v-1.4h.72v-.7h.72v1.3h.72v-1.5h.72v1.4h.72v-.1h.72v-.3h.72v.8h.72v-.5h.72v-.5h.72v.8h.72v-1.1h.72v.8h.72h.72v.6h.72v.5h.72v-.5h.72v-2.4h.72v2.8h.72H224.3V175.4Z" fill="#fcb216"/>
<path d="M201.3 175.4V178.4h.72v-.9h.72h.72v-.6h.72v.8h.72v-.4h.72v.2h.72v.1h.72v-.1h.72v-1.1h.72h.72v.2h.72v1h.72v-1.1h.72v1.1h.72v-1h.72v.3h.72v.1h.72v.2h.72v-1.1h.72v1.5h.72v-.1h.72v-.7h.72v.8h.72v-1h.72v1h.72v-2h.72v.7h.72v.9h.72v-.9h.72v1.2h.72v-.5H224.3V175.4Z" fill="#a1549f"/>
<rect x="224.3" y="175.4" width="31.4" height="55.2" fill="#fef383"/>
<path d="M224.3 175.4V195h.71v-.3h.71v.3h.71v-1.8h.71v1h.71v.9h.71v-.7h.71v-.1h.71v-.1h.71v-.4h.71v-.8h.71v.4h.71v-1h.71v1h.71v-.3h.71v-1.1h.71v.8h.71v-2.2h.71v.6h.71v1h.71v-1.5h.71v.7h.71v.2h.71h.71v-1.3h.71v.4h.71v.4h.71v.7h.71v-1.2h.71v-1h.71h.71v1.2h.71v-1h.71v.3h.71v-.5h.71v.8h.71v-.5h.71v-1.1h.71v1h.71v.1h.71v-1.2h.71v.1h.71v.3h.71v-.3H255.7V175.4Z" fill="#bfc0c2"/>
<path d="M224.3 175.4V184.7h.71v-.5h.71v.7h.71v.4h.71v.7h.71v-.3h.71v.3h.71v-.7h.71v-.2h.71v.2h.71v-.5h.71v.8h.71v-.2h.71h.71v-.7h.71v.5h.71v-.8h.71h.71v.9h.71v.7h.71v-1.1h.71v.5h.71v-.4h.71v-.3h.71v.3h.71v.4h.71v-1.3h.71v1.4h.71v-1.4h.71v1.2h.71v.2h.71v-1h.71v.1h.71v-.9h.71v1h.71v.6h.71v.1h.71v-.8h.71v.4h.71v.2h.71v-.7h.71v.7h.71v-.6h.71v.8H255.7V175.4Z" fill="#fcb216"/>
<path d="M224.3 175.4V179.2h.71v-1.1h.71v.3h.71v.2h.71v.2h.71v-.6h.71v-.2h.71v.4h.71v-.6h.71v.4h.71v.6h.71v-.6h.71v.5h.71v-.7h.71v.6h.71h.71v-.1h.71v.1h.71v-1.4h.71v1h.71v.2h.71v-.3h.71v.6h.71v-.9h.71h.71v-.1h.71v.5h.71v.3h.71v.4h.71v-.5h.71v.2h.71v.3h.71v-.5h.71v-.2h.71v.4h.71v.1h.71v-.2h.71v-.1h.71v-.2h.71v.1h.71v.2h.71v.2h.71h.71v.3H255.7V175.4Z" fill="#a1549f"/>
<rect x="255.7" y="175.4" width="22.3" height="55.2" fill="#fef383"/>
<path d="M255.7 175.4V187.4h.72v.3h.72v-.7h.72v-.9h.72v1.6h.72v-.6h.72h.72v-.2h.72v.3h.72v-1.4h.72v1h.72v-.6h.72v-.4h.72v.6h.72v.5h.72v-1.1h.72v1.4h.72v-1h.72v.1h.72v-.5h.72v.2h.72v.1h.72v-.8h.72v.7h.72v-.1h.72v-.7h.72v.8h.72v-1h.72v-.9h.72v1h.72v.2H278V175.4Z" fill="#a97c50"/>
<path d="M255.7 175.4V184.4h.72v-.1h.72v.8h.72v.2h.72v-.6h.72v.2h.72v-.6h.72v-2.4h.72v1.9h.72v.6h.72v1.1h.72v-1.3h.72v.3h.72v-.5h.72v1h.72v-1.9h.72v.6h.72v1h.72v-.6h.72v1.6h.72v-1.5h.72v-.5h.72v.4h.72v-.6h.72v.3h.72v-.5h.72v-.1h.72v.4h.72v-.1h.72v-.1h.72H278V175.4Z" fill="#bfc0c2"/>
<path d="M255.7 175.4V181.6h.72v.2h.72v-.6h.72v.9h.72v-1.4h.72v1.1h.72v.3h.72v-1.1h.72v.2h.72v-.2h.72v.7h.72v-.5h.72v1h.72v-.9h.72v.1h.72h.72h.72v.9h.72v-1.4h.72v.5h.72v-1.2h.72v1.5h.72v.1h.72v-.1h.72h.72v-.2h.72v-.5h.72v-1.1h.72v1.5h.72v-.4h.72v.4H278V175.4Z" fill="#a1549f"/>
<path d="M255.7 175.4V178.9h.72v.4h.72v.2h.72v-1.1h.72v.7h.72v-.2h.72v.3h.72v-.8h.72v1.8h.72v-1.4h.72h.72v1.1h.72v-.3h.72v-1.1h.72v-.3h.72v.5h.72v.3h.72v.6h.72v-.5h.72v-1.1h.72v.4h.72v.3h.72v-.6h.72v1.4h.72v.6h.72v-.5h.72v.2h.72v-.4h.72h.72v.1h.72v-.7H278V175.4Z" fill="#4ab97c"/>
<rect x="278" y="175.4" width="13.2" height="55.2" fill="#fef383"/>
<path d="M278 175.4V184.9h.73v-2.1h.73v-2.8h.73v2.4h.73v.7h.73v-1.1h.73v-.4h.73v1.6h.73v-.1h.73v-.6h.73v-.8h.73v.1h.73v.1h.73v.5h.73v.6h.73v.3h.73v-.7h.73v-.2H291.2V175.4Z" fill="#4ab97c"/>
<rect x="291.2" y="175.4" width="19.2" height="55.2" fill="#fef383"/>
<path d="M291.2 175.4V183.5h.71h.71v-.1h.71v-.6h.71v.6h.71v-.5h.71h.71v.4h.71v.1h.71v-.5h.71v-.6h.71v.6h.71v.9h.71v-.2h.71v.4h.71v-1.4h.71v.4h.71v.3h.71v-.8h.71v1.4h.71v-.7h.71v-.6h.71v2.1h.71v-1h.71v-.3h.71v-.5h.71v-.7H310.4V175.4Z" fill="#4ab97c"/>
<rect x="310.4" y="175.4" width="35.8" height="55.2" fill="#fef383"/>
<path d="M310.4 175.4V188h.72v-.8h.72v2h.72v1h.72v-2.7h.72h.72v.3h.72v-2.4h.72v-1.9h.72v2.9h.72v3.4h.72v-.4h.72v-.2h.72v-.7h.72v.7h.72h.72v-1.1h.72v2.1h.72v-1.2h.72v-.4h.72v-.3h.72v-.7h.72v-.5h.72v.2h.72v-8.4h.72v17.2h.72v-4.6h.72v-1.2h.72v-4.2h.72v4.6h.72v1.2h.72v.1h.72v-.7h.72v.1h.72v1.4h.72v.3h.72v1.3h.72v-.9h.72v4.8h.72v-4.6h.72v1.2h.72v.9h.72v2h.72v.1h.72v.3h.72v-9.8h.72v7.3h.72v1.5h.72v-5h.72v2.2H346.2V175.4Z" fill="#a97c50"/>
<path d="M310.4 175.4V183.2h.72v-.2h.72v-.3h.72v1h.72h.72v-.8h.72v.7h.72v-1.1h.72v-.1h.72v.2h.72v-.2h.72v.4h.72v-.3h.72v.7h.72v1.1h.72v-1.5h.72v.4h.72v.4h.72v-.7h.72v.5h.72v-.1h.72v-.6h.72v-.2h.72v.4h.72v1h.72v.3h.72v-1h.72h.72v5.6h.72v-5.7h.72h.72v1.2h.72v1.3h.72v.1h.72v.4h.72v.5h.72v-.6h.72v.2h.72v-.2h.72v.2h.72v.7h.72v-.8h.72v-.2h.72v-.5h.72v-2.6h.72v.3h.72v-.6h.72v.6h.72v-1h.72v.2H346.2V175.4Z" fill="#a1549f"/>
<path d="M310.4 175.4V182.8h.72v-.5h.72v.4h.72v.6h.72v-.4h.72v.8h.72v-.5h.72v-.2h.72v-.4h.72v.5h.72v-.5h.72v.3h.72v.3h.72v.3h.72v-.8h.72v-.5h.72v.2h.72v.9h.72v-.7h.72v.5h.72v.2h.72v-.9h.72v.1h.72v.8h.72v-1.1h.72v1.1h.72v.3h.72v-1.8h.72v1.3h.72v-.6h.72v.2h.72h.72v-.3h.72v.2h.72v-.8h.72v1h.72v-.4h.72v.5h.72v-.6h.72v.4h.72v-.3h.72h.72v-.5h.72v.4h.72h.72v.4h.72v.7h.72v1h.72v-1.9h.72v.2H346.2V175.4Z" fill="#4ab97c"/>
<rect x="346.2" y="175.4" width="23.2" height="55.2" fill="#fef383"/>
<path d="M346.2 175.4V217.5h.72v2.2h.72v2.5h.72v1.7h.72v1.8h.72v1.6h.72v1.2h.72v.4h.72v.1h.72v-.1h.72v-.5h.72v.7h.72v.5h.72v.4h.72v-.2h.72v.4h.72v-.3h.72v.5h.72v.1h.72v.1h.72h.72h.72h.72h.72h.72h.72h.72h.72h.72h.72h.72H369.4V175.4Z" fill="#a97c50"/>
<rect x="369.4" y="175.4" width="2.5" height="55.2" fill="#fef383"/>
<path d="M369.4 175.4V215.2h.83v.6h.83v-.5H371.9V175.4Z" fill="#a97c50"/>
<path d="M369.4 175.4V180.1h.83v.1h.83v-.2H371.9V175.4Z" fill="#a1549f"/>
<rect x="371.9" y="175.4" width="18.9" height="55.2" fill="#fef383"/>
<path d="M371.9 175.4V195.8h.73v.7h.73v-1.2h.73v.6h.73v.4h.73v-.2h.73v1.4h.73v.2h.73h.73v-.5h.73h.73v1.1h.73v-.5h.73v.1h.73v2h.73v-.7h.73v.1h.73v.4h.73v.8h.73v-.6h.73v-.1h.73v.3h.73v.3h.73v.6h.73v.7h.73v-.4H390.8V175.4Z" fill="#a97c50"/>
<path d="M371.9 175.4V182.7h.73h.73v.8h.73v-1.5h.73v.3h.73v-.1h.73v-.1h.73v.7h.73v-.3h.73v-.9h.73v1.1h.73v.4h.73v.2h.73v-1.2h.73h.73v.5h.73v-.9h.73v.6h.73v-.9h.73v1.6h.73v-.2h.73v-.3h.73v-.1h.73v.4h.73v.2h.73v.5H390.8V175.4Z" fill="#a1549f"/>
<path d="M371.9 175.4V177.3h.73v.4h.73h.73v1.3h.73v-1.7h.73v.6h.73v-1.4h.73v.6h.73v2h.73v-.9h.73v-.6h.73h.73v.5h.73v.2h.73v.2h.73v-.8h.73v.7h.73v.1h.73v-.8h.73v.3h.73h.73v-.3h.73v-.6h.73v.6h.73v.6h.73v.2H390.8V175.4Z" fill="#4ab97c"/>
<rect x="390.8" y="175.4" width="26.2" height="55.2" fill="#fef383"/>
<path d="M390.8 175.4V185.7h.73v3h.73v-.6h.73v.4h.73v-.2h.73v-.2h.73v.5h.73v-.4h.73v.4h.73v-.2h.73v-.9h.73v.3h.73v-.2h.73v.5h.73v.2h.73v-.4h.73v-.9h.73v.9h.73v.5h.73v-.2h.73v.4h.73h.73v-.1h.73v-.9h.73v1.1h.73v-.4h.73v.1h.73v.9h.73v-1.1h.73v.8h.73v-.8h.73v.2h.73v.1h.73v-.3h.73v.5h.73v-.9H417V175.4Z" fill="#a97c50"/>
<path d="M390.8 175.4V185h.73v.5h.73v-.5h.73v-.5h.73v1h.73v-.5h.73v.4h.73v-1h.73v.3h.73v.4h.73v-1.3h.73v.5h.73v.2h.73v-.1h.73v.7h.73v-.1h.73v1.5h.73v-2.1h.73v-.1h.73v.5h.73v-.2h.73v.5h.73v.3h.73v-1.5h.73v.8h.73v.2h.73v-.2h.73v-.2h.73v.8h.73v-.8h.73h.73v.7h.73v.2h.73v.1h.73v-.5h.73v-.6H417V175.4Z" fill="#bfc0c2"/>
<path d="M390.8 175.4V178.4h.73v.4h.73v-.3h.73v1.2h.73v-.2h.73h.73v-.1h.73v-1.2h.73v.6h.73v1.2h.73v-1h.73h.73v.3h.73v-1.1h.73v1.1h.73v-.3h.73v.6h.73v-1.1h.73v.5h.73v-.1h.73v-.4h.73v.7h.73v.7h.73v-.5h.73v-.7h.73v.3h.73v.1h.73v-.3h.73h.73h.73v.9h.73v-.3h.73v-.9h.73v-.6h.73v1.3h.73H417V175.4Z" fill="#4ab97c"/>
<rect x="417" y="175.4" width="19.3" height="55.2" fill="#fef383"/>
<path d="M417 175.4V181.1h.71v-.8h.71v2.2h.71v-.8h.71v.1h.71v-.3h.71v-.1h.71v-.8h.71v.8h.71h.71v.1h.71v-1h.71h.71v1.5h.71v-1.1h.71v1.2h.71v-1.3h.71v.3h.71v-.3h.71v.7h.71v-.2h.71v-.1h.71h.71v1.1h.71v-.2h.71v-.4h.71v-.7H436.3V175.4Z" fill="#bfc0c2"/>
<path d="M417 175.4V178.4h.71v.4h.71v-.5h.71v.6h.71v-.1h.71v.6h.71v-1.4h.71v.9h.71v-.9h.71v.6h.71v-.5h.71v-.4h.71v.8h.71v.2h.71v.4h.71v-.9h.71v-.1h.71v.6h.71v.7h.71v-1.3h.71v-.2h.71v.4h.71v.5h.71v-.9h.71v1.5h.71v-1h.71v-.4H436.3V175.4Z" fill="#a1549f"/>
<rect x="436.3" y="175.4" width="15" height="55.2" fill="#fef383"/>
<path d="M436.3 175.4V181.5h.71v1.3h.71v-.3h.71v-.3h.71v.8h.71v.2h.71v-1.1h.71v.4h.71v.3h.71h.71v-.6h.71v.5h.71v-.1h.71v.1h.71v-.6h.71v.7h.71h.71v-.7h.71v.1h.71v.4h.71v.5H451.3V175.4Z" fill="#a1549f"/>
<path d="M436.3 175.4V177.4h.71v.1h.71v.7h.71v-.6h.71v-.7h.71v.6h.71v.2h.71v-.5h.71v-.1h.71v.1h.71v.6h.71v.3h.71v-.5h.71v-.2h.71v.8h.71v-1.2h.71v.1h.71v.7h.71v-.3h.71h.71v-.1H451.3V175.4Z" fill="#4ab97c"/>
<rect x="451.3" y="175.4" width="19.9" height="55.2" fill="#fef383"/>
<path d="M451.3 175.4V181.4h.71v-.4h.71v.4h.71h.71v-.4h.71v.2h.71v.4h.71v-.9h.71v.6h.71h.71v.5h.71v-.6h.71v.4h.71v-.1h.71v-.7h.71v1.8h.71v-1.2h.71v.3h.71v-.6h.71v.6h.71v-.5h.71v.8h.71v-.8h.71v-.7h.71v.6h.71v-.6h.71v1.7h.71v.1H471.2V175.4Z" fill="#a97c50"/>
<path d="M451.3 175.4V180.3h.71v-.2h.71v.4h.71v-.9h.71v1.6h.71v-1.2h.71v.4h.71v-.1h.71v-.2h.71v.6h.71v-1.3h.71v1.4h.71v-.4h.71v-.7h.71v.6h.71v.1h.71v.4h.71v-.6h.71v-.5h.71v.8h.71v.1h.71v-.8h.71v.2h.71v-.8h.71v1.8h.71v-.4h.71v-.2h.71v.8H471.2V175.4Z" fill="#4ab97c"/>
<rect x="471.2" y="175.4" width="17.3" height="55.2" fill="#fef383"/>
<path d="M471.2 175.4V180.9h.72v-.4h.72v.6h.72v.5h.72v-.1h.72v-.6h.72v.1h.72v-.2h.72v.1h.72v.5h.72v.1h.72v-.2h.72v-.9h.72v1.7h.72v-.2h.72v.5h.72v-1.6h.72v1h.72v-1.1h.72v.2h.72v.6h.72h.72v-1.1h.72v1.2H488.5V175.4Z" fill="#4ab97c"/>
<rect x="488.5" y="175.4" width="28.5" height="55.2" fill="#fef383"/>
<path d="M488.5 175.4V201.5h.71v-1.8h.71v-.9h.71v-1h.71v-.8h.71v-.8h.71v.5h.71v-.5h.71v-.6h.71v-.2h.71v-1.1h.71v-.7h.71v1h.71v-.5h.71v-.5h.71v.3h.71h.71v-.3h.71v-.2h.71v.5h.71v-.4h.71v-1.1h.71h.71v.4h.71v-.8h.71v1h.71v-1.6h.71v-.4h.71v-.3h.71v.7h.71h.71h.71v-.4h.71v-.1h.71v-.4h.71v-.3h.71h.71v-.7h.71v.5h.71v-.4H517V175.4Z" fill="#a1549f"/>
<path d="M488.5 175.4V181.5h.71v.2h.71v-.6h.71v.9h.71v-.7h.71v.4h.71v-.5h.71v.4h.71v-.4h.71v.4h.71v-.6h.71v.6h.71v-1h.71v1h.71v.3h.71v-1h.71v.7h.71v-1.4h.71v.7h.71v.9h.71v-.4h.71v.3h.71v-.7h.71v1.2h.71v-.5h.71v.7h.71v-.9h.71v-.7h.71v-.1h.71v.8h.71v.1h.71v1.1h.71v-1.1h.71v.4h.71v-.5h.71v-.3h.71v.1h.71v-1.2h.71v.9h.71v-.5H517V175.4Z" fill="#4ab97c"/>
<rect x="517" y="175.4" width="23.3" height="55.2" fill="#fef383"/>
<path d="M517 175.4V195h.73v1.2h.73v-1.1h.73v1h.73v-.7h.73v-.2h.73v.2h.73v-.1h.73v.3h.73v.2h.73h.73v-.5h.73v-.8h.73v.4h.73v.3h.73v.5h.73v.4h.73v-1.5h.73v1.3h.73v-.6h.73v.1h.73v-.4h.73v.1h.73v.8h.73v-.3h.73v-.6h.73v.4h.73v-.3h.73v.3h.73v.4h.73v.2h.73v-1H540.3V175.4Z" fill="#a1549f"/>
<path d="M517 175.4V181.1h.73v.1h.73v.8h.73v-.9h.73v.4h.73v-.5h.73v.4h.73v-.4h.73v.5h.73v-.8h.73v.6h.73h.73v.4h.73v.1h.73v-.2h.73v.4h.73v-.4h.73v.9h.73v-1.6h.73v.2h.73v.2h.73h.73v-.7h.73v1.7h.73v-1.4h.73v.5h.73v.4h.73v-.6h.73v.5h.73v-.8h.73v.5h.73v.4H540.3V175.4Z" fill="#4ab97c"/>
<rect x="540.3" y="175.4" width="14.9" height="55.2" fill="#fef383"/>
<path d="M540.3 175.4V203.6h.71h.71v.9h.71v-1.2h.71v1.4h.71v-.2h.71v.1h.71v-.7h.71v1.2h.71v-.9h.71v.4h.71h.71v1h.71h.71v.3h.71v-.3h.71v1.1h.71v1.1h.71v-1.3h.71v1.9h.71v-.3H555.2V175.4Z" fill="#a1549f"/>
<path d="M540.3 175.4V181.6h.71v-.3h.71v-.1h.71v.1h.71v-.1h.71h.71v.6h.71v.5h.71v-2.3h.71v1.7h.71v.2h.71v-.8h.71v-1.3h.71v1h.71v1h.71v.8h.71v-1.9h.71v.1h.71v.9h.71h.71v-.7H555.2V175.4Z" fill="#4ab97c"/>
<rect x="555.2" y="175.4" width="4.1" height="55.2" fill="#fef383"/>
<path d="M555.2 175.4V223h.68v-.6h.68v.1h.68v.1h.68v-.2h.68v-.8H559.3V175.4Z" fill="#fcb216"/>
<path d="M555.2 175.4V218.7h.68v-.2h.68v1.2h.68v-.1h.68v-.3h.68v.3H559.3V175.4Z" fill="#a1549f"/>
<rect x="559.3" y="175.4" width="37.9" height="55.2" fill="#a1549f"/>
<rect x="597.2" y="175.4" width="19.2" height="55.2" fill="#a1549f"/>
<path d="M597.2 175.4V177.7h.71v-.5h.71v.3h.71v.4h.71v-.6h.71v.8h.71v-.8h.71v-.2h.71v.3h.71v.8h.71v-.8h.71v-.4h.71v.5h.71h.71v-.8h.71v-.3h.71v-.8h.71h.71h.71h.71h.71h.71h.71h.71h.71h.71H616.4V175.4Z" fill="#4ab97c"/>
<rect x="616.4" y="175.4" width="10" height="55.2" fill="#fef383"/>
<path d="M616.4 175.4V229.8h.71v.3h.71v-.2h.71v-.5h.71v.1h.71v-.2h.71v.2h.71v.1h.71v-.3h.71v1h.71v-.8h.71v.2h.71v.3h.71v.6H626.4V175.4Z" fill="#fcb216"/>
<path d="M616.4 175.4V228.9h.71v-.9h.71v.4h.71v.1h.71v.3h.71v.7h.71v-.3h.71v-.7h.71v-.5h.71v1.5h.71v-.6h.71v.2h.71v-.5h.71v-.1H626.4V175.4Z" fill="#a1549f"/>
<path d="M616.4 175.4V190h.71v-2.9h.71v1.1h.71v-1.4h.71v-.3h.71v.5h.71h.71v.6h.71v-.1h.71v-1h.71v1.4h.71v.5h.71v.7h.71v-.8H626.4V175.4Z" fill="#4ab97c"/>
<rect x="626.4" y="175.4" width="12.5" height="55.2" fill="#fef383"/>
<path d="M626.4 175.4V229h.74v1.2h.74v-.8h.74v.5h.74v-.7h.74v-.3h.74v.9h.74v-1.3h.74h.74v1h.74v-.1h.74v.3h.74v-.3h.74v.1h.74v.1h.74v-.8h.74v.1H638.9V175.4Z" fill="#a1549f"/>
<path d="M626.4 175.4V185.8h.74v.1h.74v-.2h.74v1.1h.74v-1.4h.74v1.1h.74h.74v-1h.74v.9h.74v-1.2h.74v.5h.74v.2h.74v.2h.74v1h.74v-1.1h.74v.8h.74v.2H638.9V175.4Z" fill="#4ab97c"/>
<rect x="638.9" y="175.4" width="8.5" height="55.2" fill="#fef383"/>
<path d="M638.9 175.4V214.3h.71v1.8h.71v1.2h.71v1.8h.71v.3h.71v1.4h.71v2.4h.71v-.6h.71v.2h.71v.8h.71v.8h.71v.1H647.4V175.4Z" fill="#a1549f"/>
<path d="M638.9 175.4V214h.71v-3.1h.71v2.2h.71v2.4h.71v1.9h.71v-.5h.71v1.6h.71v.5h.71v-.4h.71v1.6h.71v-1h.71v1.9H647.4V175.4Z" fill="#4ab97c"/>
<rect x="647.4" y="175.4" width="8.1" height="55.2" fill="#fef383"/>
<path d="M647.4 175.4V219.2h.74v.8h.74v.3h.74v-1h.74v.8h.74v2.2h.74v-.1h.74v-.3h.74v-.1h.74v.3h.74v.6H655.5V175.4Z" fill="#a1549f"/>
<path d="M647.4 175.4V213.3h.74v.5h.74v.1h.74v.8h.74h.74v.4h.74v1.3h.74v.4h.74v-.6h.74v.3h.74v1.9H655.5V175.4Z" fill="#4ab97c"/>
<rect x="655.5" y="175.4" width="5.9" height="55.2" fill="#f8f1d6"/>
<path d="M655.5 175.4V228.8h.74v.3h.74v-.3h.74v.5h.74v-.3h.74v.9h.74v-1.7h.74v1.7H661.4V175.4Z" fill="#4ab97c"/>
<rect x="661.4" y="175.4" width="22.8" height="55.2" fill="#fef383"/>
<path d="M661.4 175.4V205.9h.71v5.3h.71v7h.71v3.4h.71v.8h.71v2.1h.71v.4h.71v.3h.71h.71v1.9h.71v1h.71v-.5h.71v.4h.71v1h.71v-.4h.71v.1h.71v.4h.71v-.3h.71v.5h.71v-.3h.71v.5h.71h.71v.3h.71v.2h.71v.3h.71v-.1h.71v-.6h.71v.6h.71v.1h.71v.1h.71h.71H684.2V175.4Z" fill="#4ab97c"/>
<rect x="91" y="217.4" width="0.7" height="13.2" fill="#f8f1d6"/>
<rect x="582.4" y="175.9" width="0.8" height="6" fill="#bfc0c2"/>
<rect x="582.3" y="225.4" width="1" height="5.2" fill="#f6c9c0"/>
<rect x="555.9" y="208.4" width="0.8" height="22.2" fill="#f6c9c0"/>
<rect x="639.3" y="208.9" width="1" height="21.7" fill="#fef383"/>
<rect x="640.3" y="211.4" width="0.6" height="19.2" fill="#fef383"/>
<rect x="648.2" y="219.2" width="1.4" height="11.4" fill="#fef383"/>
<rect x="627.8" y="220.9" width="0.8" height="9.7" fill="#f8f1d6"/>
<rect x="368.4" y="209.8" width="0.9" height="20.8" fill="#fef383"/>
<path d="M90.2 200.9L90.9 201.9L91.2 210.4L90.6 209.4Z" fill="#414143"/>
<path d="M92.3 208.9L93.3 208.9L95.2 219.4L94.2 219.9Z" fill="#414143"/>
<rect x="22.5" y="233.9" width="22.5" height="55.2" fill="#bfc0c2"/>
<rect x="45" y="233.9" width="22.5" height="55.2" fill="#bfc0c2"/>
<path d="M45 233.9V235.2h.73v-1h.73v1.5h.73v-.1h.73v-.5h.73v.3h.73v-.8h.73v-.3h.73v1.3h.73v-.2h.73v.4h.73v-.1h.73v-.6h.73v.2h.73v.8h.73v-.9h.73v-.4h.73v.7h.73v.8h.73v-.8h.73v-.8h.73v1.1h.73v-.1h.73v-.4h.73v.1h.73v.5h.73v-1.7h.73v1.5h.73v-.4h.73v-.3h.73H67.5V233.9Z" fill="#4ab97c"/>
<rect x="67.5" y="233.9" width="22.2" height="55.2" fill="#fef383"/>
<path d="M67.5 233.9V278.1h.72v-.4h.72v.4h.72v-.6h.72v.2h.72h.72v.1h.72v1.1h.72v-1.3h.72v.3h.72h.72v.3h.72v-.2h.72v-1h.72v.2h.72v4h.72v-3.1h.72v-.1h.72v.4h.72v-.1h.72v-.3h.72v3.7h.72v-3.7h.72v-.4h.72v.3h.72h.72v.3h.72v.1h.72v2.7h.72v-1.8h.72v-1.4H89.7V233.9Z" fill="#a97c50"/>
<path d="M67.5 233.9V272.6h.72v1.5h.72v-1.1h.72h.72h.72v-.2h.72v.6h.72v-.3h.72v.1h.72v.1h.72h.72v1.4h.72v-1.8h.72v.8h.72v.1h.72v-1.2h.72v.5h.72v.6h.72v-.2h.72v-.1h.72v1h.72v-.7h.72v-.6h.72v.1h.72v.2h.72v-1.3h.72v1.4h.72v-.6h.72v.3h.72v.6h.72v-1H89.7V233.9Z" fill="#bfc0c2"/>
<path d="M67.5 233.9V239.3h.72v.8h.72v-.2h.72v-.5h.72v.8h.72v.3h.72v-1.3h.72v.7h.72v-.2h.72v.3h.72v-.2h.72v-.3h.72v.8h.72v-.6h.72v.4h.72v-.6h.72v.5h.72v.4h.72v-.1h.72v-1.6h.72v2.3h.72v-2.1h.72v1.7h.72v-.2h.72v-1.3h.72v1.3h.72v-1.1h.72v.7h.72v-.1h.72v-.9h.72v.6H89.7V233.9Z" fill="#a1549f"/>
<path d="M67.5 233.9V238.1h.72v.7h.72v-.8h.72v-.6h.72v.4h.72v.1h.72v.7h.72v-.8h.72v-.1h.72v.8h.72h.72v-.5h.72v-.7h.72v.5h.72v-.2h.72v-.4h.72v1.3h.72v.4h.72v-1.8h.72v.7h.72v.2h.72v.1h.72v-.4h.72v-.7h.72v1.5h.72v-1.4h.72v.7h.72v.5h.72v.2h.72v-.7h.72v-.2H89.7V233.9Z" fill="#a01d5e"/>
<rect x="89.7" y="233.9" width="22.5" height="55.2" fill="#bfc0c2"/>
<path d="M89.7 233.9V260.9h.73v2.3h.73v1.8h.73v1.9h.73v1.4h.73v1.3h.73v1.2h.73v.7h.73v2.2h.73v1.2h.73v1h.73v.9h.73v.9h.73v1.7h.73v.7h.73v1.8h.73v.8h.73v.7h.73v1.5h.73v.7h.73v1.1h.73v1.5h.73v-.3h.73v1h.73v.2h.73h.73h.73h.73h.73h.73H112.2V233.9Z" fill="#fcb216"/>
<rect x="112.2" y="233.9" width="22.4" height="55.2" fill="#fef383"/>
<path d="M112.2 233.9V245.3h.72v4.1h.72v-3.5h.72v-.1h.72v-.8h.72v.4h.72v-.4h.72v.4h.72v-.7h.72v.8h.72v.1h.72v-.7h.72v.1h.72h.72v.8h.72v-1.6h.72v.6h.72v.8h.72v-.5h.72v.1h.72v.6h.72v-.5h.72v-.7h.72v-.2h.72h.72v1h.72v-.2h.72h.72v.7h.72v.1h.72v-1.2H134.6V233.9Z" fill="#fcb216"/>
<path d="M112.2 233.9V235.2h.72v-.6h.72v.7h.72v-.2h.72h.72v-.1h.72v.1h.72v.5h.72v-.3h.72v.1h.72v-.6h.72v.5h.72v-.2h.72v-.1h.72h.72v.5h.72v-.9h.72v.4h.72v.2h.72v-.4h.72v.4h.72v-.9h.72v.4h.72v-.1h.72v.1h.72v.7h.72v-.7h.72v-.4h.72v.4h.72v1.3h.72v-.7H134.6V233.9Z" fill="#a01d5e"/>
<rect x="134.6" y="233.9" width="22.4" height="55.2" fill="#fef383"/>
<path d="M134.6 233.9V239.5h.72v1.3h.72v.5h.72v-.3h.72h.72v.1h.72h.72v-.1h.72v-1.1h.72v.5h.72v.8h.72v-.5h.72v.6h.72v-.6h.72v.4h.72v.9h.72v-.8h.72v.7h.72v-1.4h.72v.3h.72v.1h.72v-.7h.72v1.1h.72v-.6h.72v.6h.72v-3.8h.72v2.9h.72v.9h.72v-.3h.72v.5h.72v.3H157V233.9Z" fill="#fcb216"/>
<path d="M134.6 233.9V235.3h.72h.72v-.5h.72v-.5h.72v.9h.72v-.3h.72v-.7h.72v.4h.72v.4h.72v.1h.72v-.3h.72v.1h.72v-.2h.72v.7h.72v-.6h.72v-.2h.72v.9h.72v-.1h.72h.72v-.4h.72v.6h.72v-.6h.72v-.5h.72v.1h.72v.1h.72v.5h.72v-.1h.72v.4h.72v-.1h.72v-.4h.72v-.6H157V233.9Z" fill="#a01d5e"/>
<rect x="157" y="233.9" width="22.2" height="55.2" fill="#fef383"/>
<path d="M157 233.9V240.7h.72v-.4h.72v.6h.72v-.6h.72v-.3h.72v1.2h.72v-.9h.72v.2h.72v.7h.72v-.3h.72v.5h.72v-1.2h.72v-.2h.72v1.1h.72v-1.1h.72v.7h.72v-.5h.72v.6h.72v.6h.72v-.7h.72v-.1h.72v.5h.72v-.6h.72v-.3h.72v.3h.72v-.2h.72v.1h.72v-.7h.72v.8h.72v.3h.72v-1.2H179.2V233.9Z" fill="#fcb216"/>
<path d="M157 233.9V235.7h.72v-.8h.72v-.1h.72h.72h.72v.6h.72v-.6h.72v-.1h.72v.2h.72v-.2h.72v.3h.72v-.5h.72v-.1h.72v.1h.72v.3h.72v-.1h.72v-.1h.72v.6h.72v-.3h.72v-.7h.72v1.2h.72v.3h.72v-.8h.72v-.5h.72v.5h.72v-.5h.72v.7h.72v-.2h.72v.1h.72v.3h.72v-.4H179.2V233.9Z" fill="#a01d5e"/>
<rect x="179.2" y="233.9" width="22.1" height="55.2" fill="#fef383"/>
<path d="M179.2 233.9V238h.71v-.4h.71v1h.71v-1h.71v-.2h.71v.5h.71h.71v.2h.71v-.3h.71v.6h.71v-.5h.71h.71v-.1h.71v.3h.71v1h.71v-.7h.71v.6h.71v-1.6h.71v1.1h.71v-.7h.71v-.2h.71v-.1h.71v.2h.71v1h.71v-.7h.71h.71v.5h.71v-.5h.71v.4h.71v-.7h.71v.7H201.3V233.9Z" fill="#fcb216"/>
<path d="M179.2 233.9V235.5h.71v-.9h.71v.5h.71v.4h.71v-.1h.71v-.3h.71v-.6h.71v.4h.71v.6h.71v-.6h.71v.4h.71v-.4h.71v.1h.71v.1h.71v-.2h.71v-.1h.71v-.2h.71v.6h.71h.71v.2h.71v-.4h.71v-.5h.71v.3h.71v.8h.71v-.6h.71v-.1h.71v.1h.71v-.8h.71h.71v.6h.71v1H201.3V233.9Z" fill="#a01d5e"/>
<rect x="201.3" y="233.9" width="23" height="55.2" fill="#fef383"/>
<path d="M201.3 233.9V241.5h.72v.5h.72v-1h.72v-.5h.72v.1h.72v-.2h.72v.9h.72v-1.5h.72v1.3h.72v-1.1h.72v.4h.72h.72v.6h.72v-1.1h.72v1.3h.72v.3h.72v-.3h.72v-.6h.72v.3h.72v-.7h.72v.1h.72v.6h.72v-.9h.72v.1h.72v.6h.72v-1.3h.72v.8h.72v.9h.72v-.5h.72v.8h.72v-.5h.72v.3H224.3V233.9Z" fill="#fcb216"/>
<path d="M201.3 233.9V235.2h.72v.3h.72v1h.72v-.4h.72v-.2h.72v.6h.72v-1.4h.72v.5h.72v.6h.72h.72v-.4h.72v.6h.72v-.6h.72v.9h.72v-.4h.72v.6h.72v-.2h.72v-.6h.72v.5h.72v-.9h.72v.5h.72v-.3h.72v1h.72v-.9h.72v.4h.72v-1h.72v.6h.72v-.5h.72v-.3h.72v.6h.72v1.2h.72v-.5H224.3V233.9Z" fill="#a01d5e"/>
<rect x="224.3" y="233.9" width="31.4" height="55.2" fill="#fef383"/>
<path d="M224.3 233.9V252.5h.71v.7h.71v-.2h.71h.71v-.7h.71v.3h.71v-.2h.71v.7h.71v-.5h.71v-.2h.71v-1.4h.71v.5h.71v-.8h.71v1.5h.71v-1.1h.71v.6h.71v-.4h.71v-1.1h.71v1.1h.71v-.2h.71v-1.2h.71v-.2h.71v-.2h.71v-.3h.71v-.1h.71v.2h.71v-.2h.71v1h.71v-.9h.71v.2h.71v-.2h.71v-.1h.71v-1.5h.71v.3h.71v.4h.71v-.9h.71v.7h.71v-.7h.71v-.5h.71v.4h.71v-.5h.71v.1h.71v-.5h.71v-.6H255.7V233.9Z" fill="#bfc0c2"/>
<path d="M224.3 233.9V242.9h.71v-3.5h.71v2.5h.71v1.1h.71h.71v.2h.71v-.6h.71v-.3h.71v.1h.71v1.4h.71v.4h.71v-1.1h.71v.1h.71v.4h.71v-.7h.71v-.1h.71v.5h.71v-.9h.71v.8h.71v-1h.71v-.1h.71v1.4h.71v-.5h.71v.1h.71v-.7h.71v.5h.71v-.3h.71v-.1h.71v.9h.71v-.7h.71v-.5h.71v1.4h.71v-.3h.71h.71v.4h.71v-1.3h.71v-.5h.71v-1.9h.71v2.8h.71v-.3h.71v.5h.71v.5h.71v.4h.71v-.7H255.7V233.9Z" fill="#fcb216"/>
<path d="M224.3 233.9V236.5h.71v1.1h.71v-.8h.71v.2h.71v.5h.71v.6h.71v-2.1h.71v1.7h.71v-.2h.71v.2h.71v-.4h.71v-.2h.71v.5h.71v-.7h.71v.5h.71v-1.1h.71v1.3h.71v-.8h.71v-.5h.71v1.5h.71v-1.2h.71h.71v.7h.71v1.2h.71v-1.7h.71v.3h.71v-.2h.71h.71h.71v.4h.71v.4h.71v-.8h.71v.3h.71v.7h.71v-.9h.71v-.2h.71v.1h.71v-.3h.71v.1h.71v.2h.71v.4h.71v-.6h.71v.9h.71v.6H255.7V233.9Z" fill="#a01d5e"/>
<rect x="255.7" y="233.9" width="22.3" height="55.2" fill="#fef383"/>
<path d="M255.7 233.9V245.8h.72v-.9h.72v-.2h.72v5.3h.72v-5.1h.72v-.4h.72v-.3h.72v.1h.72v.2h.72v.2h.72v-.7h.72v.6h.72v-.2h.72v-.3h.72h.72v-.2h.72v-.5h.72v-.1h.72v.2h.72v.7h.72v-1.1h.72v.6h.72v.4h.72v-.4h.72h.72v.2h.72v-.2h.72v-.5h.72v.1h.72v-.1h.72v-.2H278V233.9Z" fill="#a97c50"/>
<path d="M255.7 233.9V242.1h.72v.2h.72v.2h.72v-.6h.72v1.8h.72v-.6h.72v-.4h.72v-.5h.72v.3h.72v-.2h.72v-.3h.72v.2h.72v-.5h.72v.4h.72v.1h.72v.9h.72v-1.1h.72v-.1h.72v.3h.72v-.7h.72v.1h.72v-.3h.72v.8h.72v-1.4h.72v1.3h.72v-1.2h.72v1.2h.72v-.6h.72v.7h.72v-.3h.72v-.8H278V233.9Z" fill="#bfc0c2"/>
<path d="M255.7 233.9V239.5h.72v.5h.72v.5h.72v-.6h.72v-.5h.72v.6h.72v-1.3h.72v1.3h.72v.3h.72v-.9h.72v.5h.72v.9h.72v-.1h.72v.1h.72v-.9h.72v.2h.72v.4h.72v-.9h.72v1.5h.72v2.2h.72v-2.5h.72v-1.7h.72v2h.72v.3h.72v-1h.72v-.6h.72v-1.2h.72v1.8h.72v-.4h.72v.4h.72v-.9H278V233.9Z" fill="#a01d5e"/>
<path d="M255.7 233.9V235.9h.72v-.5h.72v.8h.72v.2h.72v-.9h.72v.6h.72v.2h.72v.2h.72v-1h.72v.5h.72v-.7h.72v.6h.72v-1.3h.72v2.4h.72v-1.6h.72v-.2h.72v.5h.72v.4h.72v-1.5h.72v2.1h.72v-1.6h.72v.3h.72v-.3h.72v.7h.72h.72v-.2h.72v.3h.72v.2h.72v-.6h.72v.9h.72v-.2H278V233.9Z" fill="#4ab97c"/>
<rect x="278" y="233.9" width="13.2" height="55.2" fill="#fef383"/>
<path d="M278 233.9V240.9h.73v-.2h.73v.2h.73v-1h.73v.8h.73v-.7h.73v1.1h.73v-.4h.73v-.6h.73v1.3h.73v-.4h.73h.73v-.5h.73v-.3h.73v.6h.73v-.5h.73v1.5h.73v-1.5H291.2V233.9Z" fill="#4ab97c"/>
<rect x="291.2" y="233.9" width="19.2" height="55.2" fill="#fef383"/>
<path d="M291.2 233.9V240.7h.71v.1h.71v-.3h.71v.7h.71v-.1h.71v.4h.71v-.7h.71v-.3h.71v.8h.71v-.2h.71v.5h.71v-.7h.71v.1h.71v.3h.71v-.1h.71v-.3h.71v.5h.71v-.7h.71v-.1h.71v.7h.71v.2h.71v-.4h.71v-.1h.71v.2h.71v.6h.71v-.8h.71H310.4V233.9Z" fill="#4ab97c"/>
<rect x="310.4" y="233.9" width="35.8" height="55.2" fill="#fef383"/>
<path d="M310.4 233.9V246.2h.72v-1.3h.72v3.2h.72v-2.2h.72v.7h.72v.1h.72v1.9h.72v-3.3h.72v.2h.72v-.8h.72v.4h.72v.9h.72v-3.6h.72v2.8h.72v.6h.72v1.7h.72v-.3h.72v1.4h.72v-.5h.72v1.5h.72v-13h.72v8.8h.72v1.2h.72v2.5h.72v-.8h.72v-2.8h.72v2.2h.72v-2.6h.72v1.3h.72v2.5h.72v-1.1h.72v1.4h.72v-1.7h.72v1.5h.72v3.5h.72v-7.3h.72v5.7h.72v-.9h.72v3.1h.72v-.4h.72v3.6h.72v-9.5h.72v7.8h.72v2.2h.72v-3.8h.72v-1.8h.72v-2.9h.72v7.1h.72v-3.4h.72v2H346.2V233.9Z" fill="#a97c50"/>
<path d="M310.4 233.9V241h.72v.1h.72v.1h.72v-.3h.72v-.9h.72v.5h.72v1h.72v-1.2h.72v1.3h.72h.72v-.7h.72v-.4h.72v1.1h.72v-1.7h.72v.6h.72v.7h.72h.72v.2h.72v-.6h.72v.1h.72v.1h.72v-1.2h.72v1.1h.72v1.3h.72v-.5h.72v-.3h.72v-.4h.72h.72v-1h.72v1h.72v.3h.72v1.5h.72v1.3h.72v-.4h.72v.9h.72v-.2h.72v-1.2h.72v.3h.72v1.1h.72v-.6h.72v-.4h.72v.3h.72v-.7h.72v-1h.72v-.3h.72v-.5h.72v-.6h.72v-.2h.72v-.6h.72v3.9H346.2V233.9Z" fill="#a01d5e"/>
<path d="M310.4 233.9V239.8h.72v1.4h.72h.72v-.4h.72v-.4h.72v.8h.72v-.4h.72v-.5h.72v.7h.72v-.6h.72v.2h.72v.2h.72v-.3h.72v.3h.72v-.1h.72h.72v-.3h.72v.5h.72v-.1h.72v-1.2h.72v1.8h.72v-1.1h.72v-.2h.72v.4h.72v-.1h.72v-.1h.72v.6h.72v-.5h.72v.8h.72v-1.2h.72v.9h.72v-.8h.72v-.3h.72v.5h.72v1.2h.72v-.6h.72v-.4h.72v-1.1h.72v1.6h.72v-.6h.72v-.3h.72v.8h.72v-.3h.72v.8h.72v-1h.72v-.5h.72v-.1h.72v1.1h.72v-.6h.72v.7H346.2V233.9Z" fill="#4ab97c"/>
<rect x="346.2" y="233.9" width="23.2" height="55.2" fill="#fef383"/>
<path d="M346.2 233.9V276.4h.72v2.6h.72v1.1h.72v2.9h.72v.8h.72v1.3h.72v1.2h.72v-.1h.72v.6h.72v-.2h.72v.4h.72v.2h.72v.7h.72v-.1h.72v.8h.72v.5h.72v-.2h.72v-.1h.72v.2h.72v.1h.72h.72h.72h.72h.72h.72h.72h.72h.72h.72h.72h.72H369.4V233.9Z" fill="#a97c50"/>
<rect x="369.4" y="233.9" width="2.5" height="55.2" fill="#fef383"/>
<path d="M369.4 233.9V274.1h.83v.5h.83v-1H371.9V233.9Z" fill="#a97c50"/>
<path d="M369.4 233.9V239.1h.83v.1h.83v-.2H371.9V233.9Z" fill="#a01d5e"/>
<rect x="371.9" y="233.9" width="18.9" height="55.2" fill="#fef383"/>
<path d="M371.9 233.9V253.8h.73v.5h.73v-.5h.73v-.4h.73v1h.73v.2h.73v.1h.73h.73v1h.73v-.2h.73v.1h.73v.7h.73v1.1h.73v-.9h.73v.7h.73v-1.7h.73v1.6h.73v.6h.73v.1h.73v-.8h.73v.2h.73v1h.73v.7h.73v-.7h.73h.73v-.2H390.8V233.9Z" fill="#a97c50"/>
<path d="M371.9 233.9V241.8h.73v-.9h.73v.1h.73h.73v-1h.73v.8h.73v.5h.73v.1h.73v-.8h.73v1.5h.73v-.8h.73v.4h.73v-1.2h.73v.1h.73v.7h.73v.2h.73v.1h.73v-.7h.73v.7h.73v-.6h.73h.73v.5h.73v-.7h.73v-.1h.73v.8h.73v-.2H390.8V233.9Z" fill="#a01d5e"/>
<path d="M371.9 233.9V236.1h.73v-1h.73v.9h.73h.73v-.4h.73h.73v1.7h.73v-2h.73v1.2h.73v-1.3h.73v1.3h.73v-.9h.73v.7h.73v-.1h.73v-1.4h.73v1.7h.73v-.7h.73h.73v.5h.73v-.2h.73v-.8h.73v.5h.73v-.4h.73v-.4h.73v1.2h.73v-.6H390.8V233.9Z" fill="#4ab97c"/>
<rect x="390.8" y="233.9" width="26.2" height="55.2" fill="#fef383"/>
<path d="M390.8 233.9V245.8h.73v1.2h.73v-1.1h.73v.9h.73v-.8h.73v-.7h.73v1.5h.73v-.2h.73v-.6h.73v-.1h.73h.73v-1.1h.73v.3h.73v1.3h.73v-.2h.73v-.1h.73v.6h.73v-.8h.73v.7h.73v-.8h.73v-.3h.73v-.9h.73v2h.73v-1.4h.73v1.3h.73h.73v-.1h.73v-.6h.73v.8h.73v-1.6h.73v1.2h.73v-1h.73v1.5h.73v-1.2h.73v.6h.73v-.2H417V233.9Z" fill="#a97c50"/>
<path d="M390.8 233.9V243.1h.73v-.7h.73v.4h.73v.3h.73v.4h.73v.7h.73v-.9h.73v.2h.73v-.9h.73v1.7h.73v-.5h.73v-.9h.73v-.1h.73v.5h.73v1h.73v-1.7h.73v1.3h.73v-.8h.73v-1h.73v.7h.73h.73v.4h.73v-.5h.73h.73h.73v-4.1h.73v4.6h.73h.73v-1.2h.73v.9h.73v1.1h.73v-.5h.73v-.3h.73v-.4h.73v.3h.73v-.1H417V233.9Z" fill="#bfc0c2"/>
<path d="M390.8 233.9V238.7h.73v-.8h.73v.1h.73v.2h.73v-.2h.73v.3h.73v-.2h.73v.3h.73v-.4h.73v.7h.73v-.6h.73v1.1h.73v-1.2h.73v1h.73v-.7h.73v-.1h.73v-.1h.73v-.1h.73v.4h.73v.6h.73v-1.4h.73v.4h.73v-.1h.73v-.3h.73v1.3h.73v.2h.73v.4h.73v-1.2h.73v.2h.73v-.5h.73v.7h.73v-.7h.73v.3h.73h.73v-.7h.73v.3H417V233.9Z" fill="#a01d5e"/>
<path d="M390.8 233.9V237.6h.73v.2h.73v-.9h.73v.6h.73v-.2h.73v-1.1h.73v.8h.73h.73v-.3h.73v-.1h.73v.4h.73h.73v-.6h.73v.8h.73v-.9h.73v.8h.73v1.3h.73v-1.3h.73v-.3h.73v.1h.73v.7h.73v-.6h.73v.4h.73v-.1h.73v.2h.73v-.2h.73v-.2h.73v.3h.73v-.3h.73v.2h.73v-.6h.73v.4h.73v.5h.73v-1.3h.73v-.1h.73v2H417V233.9Z" fill="#4ab97c"/>
<rect x="417" y="233.9" width="19.3" height="55.2" fill="#fef383"/>
<path d="M417 233.9V240.3h.71v1h.71v-2h.71v.9h.71v-.6h.71v-.2h.71v.8h.71v-.4h.71v.8h.71v-.3h.71v-.6h.71v1.4h.71v-.5h.71v-.6h.71v.2h.71v.5h.71v-.3h.71v-.2h.71v.3h.71v-.8h.71v-.5h.71v1.9h.71v-.9h.71v.5h.71v-1.4h.71v.1h.71v.3H436.3V233.9Z" fill="#bfc0c2"/>
<path d="M417 233.9V236.9h.71v-.6h.71v1.2h.71v-.3h.71h.71h.71v.3h.71v-1h.71v.3h.71v.4h.71v.2h.71v.1h.71v-.5h.71v-.3h.71v-.1h.71v-.8h.71v.9h.71v.7h.71v-.5h.71v-.5h.71v.7h.71v-1.2h.71v.9h.71v-.6h.71v.7h.71v1.4h.71v-2H436.3V233.9Z" fill="#a01d5e"/>
<rect x="436.3" y="233.9" width="15" height="55.2" fill="#fef383"/>
<path d="M436.3 233.9V239.9h.71v.6h.71v-.6h.71v.1h.71v.1h.71v.4h.71v-.5h.71v.7h.71v.6h.71v-1.2h.71v1h.71v-1.7h.71v.9h.71v.3h.71v.7h.71v.2h.71v-1.6h.71h.71v-.5h.71v1h.71v-.3H451.3V233.9Z" fill="#a01d5e"/>
<path d="M436.3 233.9V234.4h.71v.9h.71v-.4h.71v.3h.71v-.7h.71v.4h.71v.1h.71h.71v-.2h.71v-.2h.71v.2h.71v.5h.71v-.2h.71v-.3h.71v.3h.71v-.2h.71v-.7h.71v.5h.71v-.2h.71v1.1h.71v-.7H451.3V233.9Z" fill="#4ab97c"/>
<rect x="451.3" y="233.9" width="19.9" height="55.2" fill="#fef383"/>
<path d="M451.3 233.9V238.9h.71v.1h.71v.9h.71v-.3h.71v-.3h.71v.1h.71h.71h.71v.6h.71v-.6h.71v-.2h.71v-.4h.71v.3h.71v-.4h.71v.4h.71v-.7h.71v.7h.71v-.3h.71v.5h.71v.1h.71v-.7h.71v-.1h.71v-.1h.71v1.1h.71v-.5h.71v-1.3h.71v1.3h.71v-.5H471.2V233.9Z" fill="#4ab97c"/>
<rect x="471.2" y="233.9" width="17.3" height="55.2" fill="#fef383"/>
<path d="M471.2 233.9V239.2h.72v-.9h.72v.3h.72v.6h.72v.5h.72v-1.1h.72v-.1h.72v.8h.72v-1h.72v1.4h.72v-.8h.72v.5h.72v.2h.72v-1h.72v.3h.72v.8h.72v-.8h.72v.7h.72v-.3h.72h.72v-.4h.72v.2h.72v.3h.72v-.9H488.5V233.9Z" fill="#4ab97c"/>
<rect x="488.5" y="233.9" width="28.5" height="55.2" fill="#fef383"/>
<path d="M488.5 233.9V260.8h.71v-3.6h.71v-.3h.71v.1h.71v-1.5h.71v1.1h.71v-1h.71v.6h.71v-2h.71v-1h.71v1.7h.71v-1.3h.71v-.3h.71v-.2h.71v.4h.71v-.3h.71v-1h.71v1h.71v-.2h.71v-1.2h.71v.4h.71v.6h.71v-.8h.71v-.1h.71v1h.71v-1.4h.71v-.2h.71v.2h.71v-1.4h.71v2.1h.71v-1.7h.71v-.1h.71v-.4h.71h.71h.71v-.8h.71v-.8h.71v1.7h.71v-1.9h.71v.7H517V233.9Z" fill="#a01d5e"/>
<path d="M488.5 233.9V259.2h.71v-2.1h.71v.6h.71v-1.3h.71v-.8h.71v-.4h.71v-.4h.71v-.1h.71v-1.7h.71v.3h.71v-.6h.71h.71v-.2h.71v-.6h.71v.1h.71v.2h.71v-.6h.71v-1h.71v1.4h.71v-.9h.71v-.8h.71v.4h.71v-.1h.71v.1h.71v-.7h.71v-.2h.71v1.1h.71v-1h.71v-.1h.71h.71v-.6h.71v.5h.71v-.7h.71v-.7h.71v.8h.71v-.2h.71v-.6h.71v-.5h.71v.5h.71v-.2H517V233.9Z" fill="#a1549f"/>
<path d="M488.5 233.9V238.9h.71v.3h.71v1.1h.71v-.1h.71v-.9h.71v1h.71v.2h.71v-1h.71v-.7h.71v1.5h.71v-1h.71v-.4h.71v1h.71v-1.4h.71v.9h.71v.5h.71v-.2h.71v.2h.71v-.3h.71v-.5h.71v-.2h.71v.4h.71v-.4h.71v.5h.71h.71v.6h.71v-.4h.71v-.4h.71v-.5h.71v2.5h.71v-1.8h.71v.2h.71v-.6h.71v.2h.71v-.8h.71v1h.71v.3h.71v-.4h.71v-.5h.71v-.4H517V233.9Z" fill="#4ab97c"/>
<rect x="517" y="233.9" width="23.3" height="55.2" fill="#fef383"/>
<path d="M517 233.9V255.8h.73v-1.1h.73v-.2h.73v.3h.73v-.3h.73v.2h.73v-.3h.73v1.1h.73v-1.3h.73v.8h.73v-.3h.73h.73v.1h.73v-.4h.73v-.1h.73v1h.73v-1.3h.73v.7h.73v-.6h.73v.7h.73v-.2h.73v.1h.73h.73v-.5h.73v.6h.73v-.2h.73v-.1h.73v-.2h.73v-.2h.73h.73v.3h.73v.5H540.3V233.9Z" fill="#a01d5e"/>
<path d="M517 233.9V253.6h.73v-.4h.73v-.7h.73v1.8h.73v.2h.73v-1.2h.73v.3h.73v-1h.73v1.7h.73v-1.2h.73v.8h.73v-.1h.73v.4h.73v-.7h.73h.73v.2h.73v-.7h.73v.5h.73v-.5h.73v.4h.73v1.3h.73v-1.1h.73v3.4h.73v-3.1h.73v-.1h.73v.7h.73v-1.1h.73v-.3h.73v.5h.73v-.4h.73v-.1h.73v-.5H540.3V233.9Z" fill="#a1549f"/>
<path d="M517 233.9V240.1h.73v-.3h.73v-.4h.73v.5h.73v-.4h.73v-.5h.73h.73h.73v-.4h.73v1.8h.73v-1.3h.73v.1h.73v-.2h.73v.6h.73h.73v.4h.73v-1.4h.73v.7h.73v-.6h.73v-.1h.73v.3h.73v-.2h.73v1.3h.73v-.5h.73v-.4h.73v-.4h.73h.73v1.1h.73v-.4h.73v.6h.73v.1h.73v-.5H540.3V233.9Z" fill="#4ab97c"/>
<rect x="540.3" y="233.9" width="14.9" height="55.2" fill="#fef383"/>
<path d="M540.3 233.9V262.9h.71v-.4h.71v.4h.71v.6h.71v-.6h.71v.2h.71v.1h.71v.2h.71v.8h.71v-.7h.71v-.1h.71v.1h.71v-.7h.71v1.8h.71v.8h.71v-.8h.71v-.7h.71v2.3h.71v.3h.71v-2.3h.71v3.4H555.2V233.9Z" fill="#a01d5e"/>
<path d="M540.3 233.9V260.8h.71v1.8h.71v.4h.71v-.2h.71v-.5h.71v-2h.71v2.4h.71v-.9h.71v1h.71v.1h.71v-.7h.71v.8h.71v-1.8h.71v2.5h.71v-.1h.71v.8h.71v.3h.71v-.3h.71v1.4h.71v-.6h.71v2.1H555.2V233.9Z" fill="#a1549f"/>
<path d="M540.3 233.9V239.3h.71v.1h.71v-.2h.71v.6h.71v-.8h.71v.6h.71v.6h.71v-.7h.71v.7h.71v-.8h.71v.3h.71v.2h.71v.1h.71v-1.5h.71v.8h.71h.71v.4h.71v.2h.71v-1h.71v1.4h.71v-.5H555.2V233.9Z" fill="#4ab97c"/>
<rect x="555.2" y="233.9" width="4.1" height="55.2" fill="#fef383"/>
<path d="M555.2 233.9V280.7h.68v-1.3h.68v1.1h.68v-.3h.68v-.4h.68v.5H559.3V233.9Z" fill="#a01d5e"/>
<path d="M555.2 233.9V273.2h.68v.2h.68v.5h.68v-.5h.68v.5h.68v.4H559.3V233.9Z" fill="#a1549f"/>
<rect x="559.3" y="233.9" width="37.9" height="55.2" fill="#a01d5e"/>
<path d="M559.3 233.9V287.8h.72v.5h.72v.2h.72v-.1h.72v-.8h.72h.72v.4h.72v-.1h.72v-.1h.72v.5h.72h.72v-.6h.72v-.3h.72v1.1h.72v-.3h.72v.1h.72v.3h.72v-1.3h.72v1h.72v-.5h.72v.4h.72v-.6h.72v.8h.72v.2h.72v-.9h.72v.9h.72v-.4h.72v.1h.72v-.5h.72v-.7h.72v.8h.72v.2h.72h.72v-.3h.72v.3h.72v-.1h.72v.2h.72v.3h.72v-.8h.72v.2h.72v-.2h.72v.7h.72v.5h.72v-.6h.72v.3h.72v.1h.72v-.7h.72v-.1h.72v-.1h.72v.6h.72v.1h.72v.1h.72v-.9H597.2V233.9Z" fill="#a1549f"/>
<rect x="597.2" y="233.9" width="19.2" height="55.2" fill="#a01d5e"/>
<path d="M597.2 233.9V235.9h.71v.2h.71v.3h.71v-.4h.71v.1h.71v-.4h.71v.2h.71v.1h.71v.5h.71v-.6h.71h.71v.7h.71v-.8h.71v-.3h.71v-.7h.71v-.3h.71v-.4h.71h.71h.71h.71h.71h.71h.71h.71h.71h.71H616.4V233.9Z" fill="#4ab97c"/>
<rect x="616.4" y="233.9" width="10" height="55.2" fill="#fef383"/>
<path d="M616.4 233.9V286.5h.71v-.7h.71v-.4h.71v.6h.71v-.6h.71v.8h.71v.4h.71v-.4h.71v.2h.71v-.2h.71v-.5h.71v.4h.71v.2h.71v-.8H626.4V233.9Z" fill="#fcb216"/>
<path d="M616.4 233.9V284.3h.71v.8h.71v-1.3h.71v.2h.71v.5h.71v-1h.71v.5h.71v.3h.71v-.3h.71v-.3h.71v-.6h.71v.3h.71v.3h.71v.4H626.4V233.9Z" fill="#a01d5e"/>
<path d="M616.4 233.9V259.9h.71v.8h.71v-.2h.71v.2h.71h.71v.1h.71v-.6h.71h.71v-.8h.71v.8h.71v.5h.71v-.4h.71h.71v.7H626.4V233.9Z" fill="#a1549f"/>
<path d="M616.4 233.9V244.3h.71v.8h.71v.3h.71v-1.2h.71v.7h.71v.4h.71v-.1h.71v-.2h.71v-.1h.71h.71v-.2h.71v-.7h.71v.8h.71v-.3H626.4V233.9Z" fill="#4ab97c"/>
<rect x="626.4" y="233.9" width="12.5" height="55.2" fill="#fef383"/>
<path d="M626.4 233.9V284.5h.74v.3h.74v-.1h.74v-.2h.74v.2h.74v-.1h.74v1h.74v-.8h.74v-.3h.74v.1h.74v.8h.74v-.1h.74v.3h.74v-.3h.74v.7h.74v-.1h.74v-1.8H638.9V233.9Z" fill="#a01d5e"/>
<path d="M626.4 233.9V263.2h.74v.8h.74v-.8h.74v-1.1h.74v.4h.74v.8h.74v.3h.74v.2h.74v.7h.74v-1.1h.74v-.4h.74v1.2h.74v-.4h.74v.5h.74v.2h.74v-1.2h.74v1.6H638.9V233.9Z" fill="#a1549f"/>
<path d="M626.4 233.9V244.3h.74v-.2h.74v1.3h.74v-.8h.74v-.4h.74v-.3h.74h.74h.74v-1.8h.74v2.5h.74v.1h.74v-1h.74v.3h.74v-.2h.74v.4h.74h.74v.2H638.9V233.9Z" fill="#4ab97c"/>
<rect x="638.9" y="233.9" width="8.5" height="55.2" fill="#fef383"/>
<path d="M638.9 233.9V273.2h.71v1.2h.71v1.1h.71v3h.71v.3h.71v.1h.71v2.3h.71v.6h.71v-.7h.71v.3h.71v.5h.71v-.1H647.4V233.9Z" fill="#a01d5e"/>
<path d="M638.9 233.9V268.4h.71v2.1h.71v1.8h.71v.9h.71v1.3h.71v1.3h.71v.7h.71v1.6h.71v-.5h.71h.71v.8h.71v.2H647.4V233.9Z" fill="#4ab97c"/>
<rect x="647.4" y="233.9" width="8.1" height="55.2" fill="#fef383"/>
<path d="M647.4 233.9V277.8h.74v.6h.74v.6h.74h.74v.3h.74h.74v.7h.74v1.7h.74v-.2h.74h.74v.5H655.5V233.9Z" fill="#a01d5e"/>
<path d="M647.4 233.9V271.8h.74v.6h.74v1.1h.74v-1.2h.74v1.1h.74v1.2h.74v.1h.74v.2h.74v.2h.74v1.1h.74v-.3H655.5V233.9Z" fill="#4ab97c"/>
<rect x="655.5" y="233.9" width="5.9" height="55.2" fill="#f8f1d6"/>
<path d="M655.5 233.9V287.6h.74v-.4h.74v-.7h.74v.2h.74v-.1h.74h.74v.2h.74v.1H661.4V233.9Z" fill="#4ab97c"/>
<rect x="661.4" y="233.9" width="22.8" height="55.2" fill="#fef383"/>
<path d="M661.4 233.9V264.6h.71v6.7h.71v5.9h.71v2.6h.71v1.8h.71v.8h.71v1.5h.71v.7h.71v.2h.71v.4h.71v1.5h.71h.71v.2h.71v.8h.71v-.2h.71v.3h.71v.9h.71v-.8h.71v.5h.71v.4h.71v.1h.71v.2h.71h.71h.71h.71h.71h.71h.71h.71h.71h.71H684.2V233.9Z" fill="#a01d5e"/>
<path d="M661.4 233.9V264h.71v6.6h.71v6.3h.71v2.1h.71v2.6h.71v1.2h.71v.5h.71h.71v1.3h.71v.9h.71v.7h.71v-1h.71v1.7h.71v-.3h.71v.6h.71v-.6h.71v.8h.71v1.4h.71v-1.2h.71v.4h.71v-.1h.71v.5h.71h.71v.4h.71h.71v-.1h.71v-.1h.71v.1h.71v.3h.71h.71v-.2h.71v.1H684.2V233.9Z" fill="#4ab97c"/>
<rect x="91" y="275.9" width="0.7" height="13.2" fill="#f8f1d6"/>
<rect x="582.4" y="234.4" width="0.8" height="6" fill="#bfc0c2"/>
<rect x="582.3" y="283.9" width="1" height="5.2" fill="#f6c9c0"/>
<rect x="555.9" y="266.9" width="0.8" height="22.2" fill="#f6c9c0"/>
<rect x="639.3" y="267.4" width="1" height="21.7" fill="#fef383"/>
<rect x="640.3" y="269.9" width="0.6" height="19.2" fill="#fef383"/>
<rect x="648.2" y="277.7" width="1.4" height="11.4" fill="#fef383"/>
<rect x="627.8" y="279.4" width="0.8" height="9.7" fill="#f8f1d6"/>
<rect x="368.4" y="268.3" width="0.9" height="20.8" fill="#fef383"/>
<path d="M90.2 259.4L90.9 260.4L91.2 268.9L90.6 267.9Z" fill="#414143"/>
<path d="M92.3 267.4L93.3 267.4L95.2 277.9L94.2 278.4Z" fill="#414143"/>
<rect x="22.5" y="292.4" width="22.5" height="55.2" fill="#bfc0c2"/>
<rect x="45" y="292.4" width="22.5" height="55.2" fill="#bfc0c2"/>
<path d="M45 292.4V293.7h.73v1.1h.73v.3h.73v-.4h.73v-.7h.73v1h.73v.3h.73v-.8h.73v.3h.73v.9h.73v-.4h.73v-.2h.73v-.5h.73v.8h.73v-.1h.73v-.1h.73v-.6h.73v.6h.73v.4h.73v-.1h.73v.2h.73v-.6h.73v-.7h.73v.6h.73v-.7h.73v.6h.73v-.1h.73v.3h.73v-.5h.73v-.1h.73v.6H67.5V292.4Z" fill="#fcb216"/>
<rect x="67.5" y="292.4" width="22.2" height="55.2" fill="#02b5dd"/>
<path d="M67.5 292.4V344.5h.72v.5h.72v-1.3h.72v.6h.72v-.4h.72v.9h.72h.72v-.5h.72v-.3h.72v.6h.72v.3h.72v.1h.72v-.3h.72v-.5h.72v-.1h.72v-.3h.72v.6h.72v.1h.72v.6h.72v-1.3h.72v.4h.72v.2h.72v.2h.72h.72v.4h.72v-1h.72v.4h.72v.3h.72v-.5h.72v.8h.72v-1.1H89.7V292.4Z" fill="#a97c50"/>
<path d="M67.5 292.4V341.8h.72v.4h.72v-1.1h.72v1.1h.72v.3h.72v-1h.72v.5h.72v-.8h.72v.3h.72v.6h.72v-.4h.72v.3h.72v.1h.72v-.6h.72v1.1h.72v-1.5h.72v.5h.72v-.3h.72v1.3h.72v-.8h.72v-.5h.72v.7h.72v.2h.72v.1h.72h.72v-.1h.72h.72v-1.1h.72v.8h.72v.3h.72v-.3H89.7V292.4Z" fill="#fef383"/>
<path d="M67.5 292.4V318.1h.72v11h.72v-.5h.72v1.6h.72v-.1h.72v-.2h.72v.7h.72v-2.3h.72v1.6h.72v.2h.72v-.3h.72v1.1h.72v-.3h.72v-1.2h.72v.6h.72v-.7h.72v-.3h.72v1.1h.72h.72v-.2h.72h.72v-.4h.72v.2h.72v.7h.72v-.2h.72v.1h.72v-.9h.72v.7h.72v-.2h.72v.7h.72H89.7V292.4Z" fill="#bfc0c2"/>
<path d="M67.5 292.4V297.8h.72v-.8h.72v.9h.72v-.5h.72v-1h.72v.9h.72v.1h.72v-.4h.72v1h.72v-1.2h.72h.72v.9h.72v.3h.72v-.2h.72v.1h.72v-.3h.72v.1h.72h.72v-.4h.72v-.5h.72v.7h.72v.1h.72v-.5h.72v1.1h.72v-.9h.72v-.7h.72v1.2h.72v-.7h.72v-.3h.72v.5h.72v-.4H89.7V292.4Z" fill="#a01d5e"/>
<rect x="89.7" y="292.4" width="22.5" height="55.2" fill="#bfc0c2"/>
<path d="M89.7 292.4V319.8h.73v1.7h.73v.5h.73v2.8h.73v1.8h.73v.8h.73v1.7h.73v.7h.73v1.7h.73v1.3h.73v1.4h.73v1.9h.73v.3h.73v1.7h.73v-1.3h.73v2.8h.73v1h.73v.9h.73v1.3h.73v1.3h.73v1.7h.73h.73v.8h.73v.7h.73v.3h.73h.73h.73h.73h.73h.73H112.2V292.4Z" fill="#fcb216"/>
<rect x="112.2" y="292.4" width="22.4" height="55.2" fill="#fef383"/>
<path d="M112.2 292.4V293.5h.72v.7h.72v-.7h.72v1h.72v-.9h.72h.72v-.7h.72v.4h.72v1.3h.72v-.9h.72h.72v-.5h.72v.9h.72v.3h.72h.72v.3h.72v-.2h.72v-1.3h.72v.3h.72v.5h.72v-.2h.72v-.3h.72v.3h.72v-1.2h.72v1.8h.72v-.7h.72v.6h.72v-.2h.72v-.3h.72v-.7h.72v.9H134.6V292.4Z" fill="#a97c50"/>
<rect x="134.6" y="292.4" width="22.4" height="55.2" fill="#02b5dd"/>
<path d="M134.6 292.4V338.2h.72v.4h.72v.9h.72v1.2h.72v1.9h.72v1.1h.72v.1h.72v1.6h.72v-.3h.72v1.2h.72v.8h.72v-1.1h.72v.4h.72h.72v.3h.72v-.1h.72v-.2h.72v.3h.72h.72v-.6h.72v.6h.72h.72v.5h.72h.72v-.2h.72v-.5h.72v.6h.72v.2h.72v-.3h.72h.72v.3H157V292.4Z" fill="#fef383"/>
<path d="M134.6 292.4V293.2h.72v1.6h.72v-1.4h.72v.2h.72v.5h.72h.72v-.6h.72v.2h.72v.1h.72v.6h.72v.1h.72v-.7h.72v.3h.72v-1.4h.72v1.1h.72v-.1h.72v1.1h.72v-.5h.72v-.9h.72v.7h.72h.72v-.6h.72v-.5h.72v.8h.72v-.3h.72v-.1h.72v.8h.72v-1.5h.72v2.2h.72v-.8h.72v-.9H157V292.4Z" fill="#4ab97c"/>
<rect x="157" y="292.4" width="22.2" height="55.2" fill="#02b5dd"/>
<path d="M157 292.4V337.1h.72v-1.6h.72v.9h.72v.5h.72v.3h.72h.72v.2h.72v-1.2h.72v1h.72v1.2h.72v-1.6h.72v.3h.72v1.4h.72v-.3h.72v-.1h.72v-.4h.72v.2h.72v.3h.72v.1h.72v.6h.72v-.4h.72v.5h.72v.7h.72v-1.1h.72v1.1h.72v.7h.72v-.5h.72v.5h.72v-.1h.72v.1h.72v.6H179.2V292.4Z" fill="#fef383"/>
<path d="M157 292.4V293.8h.72v.3h.72h.72v-.5h.72v-.6h.72v.5h.72v.3h.72v.9h.72v-.8h.72v.2h.72v-.6h.72h.72v.2h.72h.72v.6h.72v.2h.72v-.9h.72v.9h.72v-.4h.72v.3h.72v-.8h.72v-.5h.72v1.3h.72v-.6h.72v.6h.72v-.9h.72v.8h.72v-.9h.72v.3h.72v.4h.72v-.3H179.2V292.4Z" fill="#4ab97c"/>
<rect x="179.2" y="292.4" width="22.1" height="55.2" fill="#02b5dd"/>
<path d="M179.2 292.4V326.8h.71h.71v.1h.71v-.4h.71v.4h.71v.3h.71v.8h.71v-1.1h.71v1.2h.71v-.1h.71v.2h.71v-5.9h.71v6.5h.71v-.9h.71v1.4h.71v.2h.71v.1h.71v-.8h.71v.6h.71v-.1h.71v.6h.71v.3h.71v.5h.71v-.6h.71v-1.1h.71v1.8h.71v-1h.71v5.2h.71v-3.7h.71h.71v-.1H201.3V292.4Z" fill="#fef383"/>
<path d="M179.2 292.4V294h.71v-.5h.71v.8h.71v-.5h.71v-.1h.71v-.3h.71h.71v1h.71v-.8h.71v.7h.71h.71v.5h.71v-.9h.71v-.2h.71v.8h.71v-.7h.71v.1h.71v.2h.71v-.2h.71v-.1h.71v.1h.71v-.2h.71v.8h.71v-.6h.71v1.2h.71v-1.9h.71v.4h.71v-.1h.71v.4h.71h.71v-.4H201.3V292.4Z" fill="#4ab97c"/>
<rect x="201.3" y="292.4" width="23" height="55.2" fill="#02b5dd"/>
<path d="M201.3 292.4V328.3h.72v-.1h.72v-.6h.72v.6h.72v.1h.72v.4h.72v-.8h.72v1.1h.72h.72v-.2h.72v1.4h.72v-1h.72h.72v.7h.72v.3h.72v-.1h.72v.7h.72v-.9h.72v-.1h.72v.5h.72v1.7h.72v-.9h.72v-.1h.72v-.4h.72v1.4h.72v.1h.72v-1h.72v.3h.72v.4h.72v.6h.72v.1h.72v.8H224.3V292.4Z" fill="#fef383"/>
<path d="M201.3 292.4V294.3h.72v.5h.72v-1.3h.72v.1h.72v.1h.72v.1h.72v-.2h.72v.7h.72h.72v-.2h.72v.2h.72v-.9h.72v.1h.72v.7h.72v.4h.72v-.9h.72v-.3h.72v.7h.72v-.6h.72v-.4h.72v1.4h.72v-.1h.72h.72v-.8h.72v.9h.72v-1.9h.72v.8h.72v.5h.72v.2h.72v-.2h.72v.1h.72v-.8H224.3V292.4Z" fill="#4ab97c"/>
<rect x="224.3" y="292.4" width="31.4" height="55.2" fill="#02b5dd"/>
<path d="M224.3 292.4V339.6h.71v-1.4h.71v1.1h.71v-.3h.71v.1h.71v-.7h.71h.71v-.2h.71v.5h.71v.6h.71v-.1h.71v.9h.71v-1.1h.71v.7h.71v.6h.71h.71v-.8h.71v.4h.71v.3h.71v-.9h.71v-.1h.71v1.7h.71v-1.3h.71v.3h.71h.71v-.1h.71v1.1h.71v.8h.71v-1.2h.71v.3h.71v-.3h.71v.6h.71v-.3h.71v.2h.71v-.3h.71v1.2h.71v-1h.71v.3h.71v.1h.71v.4h.71v.2h.71h.71v-.6h.71v.4H255.7V292.4Z" fill="#fef383"/>
<path d="M224.3 292.4V305.7h.71v-1.2h.71v.5h.71v.6h.71v-.8h.71h.71v-.8h.71h.71v.2h.71v-.1h.71v-.6h.71v.8h.71v-.4h.71v-11.5h.71v11.4h.71v-.8h.71v.1h.71v-.6h.71v-.2h.71v-.6h.71v1.2h.71v-1.1h.71v-.5h.71v1h.71v-.6h.71v-.1h.71h.71v-.4h.71v.3h.71v-.7h.71v-.2h.71v-.2h.71v.6h.71v-.5h.71v-1.1h.71v.1h.71v.6h.71v-.2h.71v-.8h.71v.6h.71h.71v-1h.71v.9h.71v-.3H255.7V292.4Z" fill="#bfc0c2"/>
<path d="M224.3 292.4V295.8h.71v.2h.71v-1.4h.71v1.9h.71v-1.1h.71v.3h.71v-.5h.71v1.1h.71v-1.4h.71v.3h.71v.5h.71v-.1h.71v.2h.71v.1h.71v-.6h.71h.71v-.2h.71v.4h.71v-.3h.71v.5h.71v-.2h.71v.9h.71v-.5h.71v-1h.71v.3h.71v.9h.71v-.5h.71v-.1h.71v-.2h.71v1h.71v-1.2h.71v.9h.71v-1.1h.71v.4h.71v-.5h.71v.6h.71v-.1h.71v-.3h.71v1.4h.71v-1h.71v-.4h.71v.8h.71v-.3h.71v-.1H255.7V292.4Z" fill="#a01d5e"/>
<rect x="255.7" y="292.4" width="22.3" height="55.2" fill="#02b5dd"/>
<path d="M255.7 292.4V320.5h.72v.3h.72v-.6h.72v.1h.72v-1.1h.72v1.1h.72v-1.1h.72v.6h.72v-1.6h.72v1.2h.72v.1h.72v-1.6h.72v.5h.72v-.1h.72v-.4h.72v-.2h.72v-1.2h.72v1h.72v.3h.72v-.1h.72v-.6h.72v-.3h.72v-.3h.72h.72v-.4h.72v-.3h.72v.5h.72v-.7h.72v-.3h.72v-.6h.72H278V292.4Z" fill="#fef383"/>
<path d="M255.7 292.4V300.5h.72v-.7h.72v.3h.72v.4h.72v-1.6h.72v.7h.72h.72h.72v-.5h.72v-.3h.72v.3h.72v-.5h.72v1.5h.72v-.3h.72v-.9h.72v-.1h.72v.6h.72v-1h.72v.4h.72v.4h.72v-.9h.72v-.1h.72v.9h.72v-2h.72v.8h.72v-.5h.72h.72v.2h.72v.1h.72v-.5h.72v-.6H278V292.4Z" fill="#bfc0c2"/>
<path d="M255.7 292.4V296.7h.72v-.2h.72v-1.1h.72v.8h.72v.2h.72v-.4h.72v.6h.72v-.3h.72v-.6h.72h.72v-.2h.72h.72v.5h.72v-.6h.72v-.3h.72v1.1h.72v.2h.72v-.6h.72v.2h.72v-.3h.72v.1h.72v.4h.72v-1.1h.72v.5h.72v-.6h.72v1.1h.72v-.4h.72v.5h.72v.3h.72v.2h.72v-.7H278V292.4Z" fill="#a01d5e"/>
<rect x="278" y="292.4" width="13.2" height="55.2" fill="#02b5dd"/>
<path d="M278 292.4V313.9h.73v-1.6h.73v.5h.73v-1.3h.73v.4h.73v-1.3h.73v-1.1h.73v-.6h.73v-1h.73v.4h.73v-.9h.73v-.5h.73v-.2h.73v-.3h.73v1h.73v-2.6h.73h.73v-2.2H291.2V292.4Z" fill="#fef383"/>
<path d="M278 292.4V294.7h.73v-.4h.73v.5h.73h.73v-1.3h.73h.73v.7h.73h.73v.3h.73v-.8h.73v.4h.73v.3h.73v-.6h.73v-.2h.73v.8h.73v-1.4h.73v.9h.73v-.6H291.2V292.4Z" fill="#4ab97c"/>
<rect x="291.2" y="292.4" width="19.2" height="55.2" fill="#02b5dd"/>
<path d="M291.2 292.4V294.2h.71v.1h.71v-.9h.71v.8h.71v1.2h.71v-1.3h.71v.3h.71v-.2h.71v.2h.71v-.6h.71v.6h.71v-1h.71v.8h.71v-.2h.71v-.2h.71v.8h.71v-.4h.71v-.1h.71v.8h.71v-.7h.71v-.8h.71v-.3h.71v1.3h.71v-.5h.71v-.1h.71v.7h.71v-1H310.4V292.4Z" fill="#4ab97c"/>
<rect x="310.4" y="292.4" width="35.8" height="55.2" fill="#02b5dd"/>
<path d="M310.4 292.4V316.4h.72v-.3h.72v2.2h.72v-3.3h.72v-.2h.72v-.5h.72v.3h.72v.2h.72v-.7h.72v.3h.72v-.3h.72v-1.7h.72v1.9h.72v-1h.72v.1h.72v-.2h.72v-.6h.72v1h.72v-1.4h.72v-.7h.72v.7h.72h.72v.5h.72v-1.2h.72v.8h.72v-.4h.72v-.9h.72v-.5h.72v-.2h.72v-.1h.72v.4h.72v.2h.72v-1h.72v1h.72v-.2h.72v.4h.72v-.2h.72v-.8h.72h.72h.72v-.4h.72v.1h.72v.4h.72v-.6h.72h.72v-.1h.72h.72v3.2h.72v-4h.72v-.6H346.2V292.4Z" fill="#a97c50"/>
<path d="M310.4 292.4V316.4h.72v-.1h.72v-2h.72v1.2h.72v-.8h.72v.2h.72v.4h.72v-.2h.72v-.8h.72v-.4h.72v.2h.72v-.8h.72v-.1h.72v.5h.72v.5h.72v-1.3h.72v.2h.72v.2h.72v-.6h.72v.3h.72v-.3h.72v-.4h.72v-1.2h.72v1.5h.72v-2.4h.72v.7h.72v.4h.72v-1.1h.72v.3h.72v-.2h.72v-.3h.72v.9h.72v-5h.72v-2.7h.72v-.5h.72v-.6h.72v1h.72v-1.6h.72v-.4h.72v1.8h.72v-1.5h.72v.6h.72v-.3h.72v-.9h.72v1h.72v-1.4h.72v.9h.72v-1.3h.72v.7h.72v-.1H346.2V292.4Z" fill="#fef383"/>
<path d="M310.4 292.4V296.4h.72v-.7h.72v1.3h.72v-1.6h.72v.4h.72v1.4h.72v-.5h.72v-.5h.72v-.4h.72v.1h.72v.5h.72v-.9h.72v.7h.72v-.3h.72h.72v.8h.72v-1h.72v1.5h.72v-1.3h.72v.1h.72v.4h.72v.3h.72v-.8h.72v.3h.72v.6h.72v-.9h.72v.5h.72v-1.3h.72v1.5h.72v-.2h.72v-1.1h.72v-.4h.72v.6h.72v.8h.72v-.5h.72v1.3h.72v-.7h.72v-.3h.72v-.3h.72v.1h.72v.6h.72v-.9h.72v1.3h.72v-.9h.72h.72v.2h.72v-.8h.72v1.4h.72v-.9h.72v.7H346.2V292.4Z" fill="#a01d5e"/>
<path d="M310.4 292.4V294.8h.72v.2h.72v-.6h.72v1h.72v-1h.72v.8h.72v-1.3h.72v1.2h.72v-1.5h.72v1.5h.72v-.3h.72v-.1h.72h.72h.72v-.1h.72v.6h.72v.1h.72v-.4h.72v-.4h.72v.9h.72v-1.3h.72v1.4h.72v-.1h.72v.7h.72v-.3h.72v-1h.72v.4h.72v-.4h.72v-1h.72v1.6h.72v.5h.72v-1.3h.72v.6h.72h.72v.1h.72v.2h.72v-.3h.72v-1.2h.72v1h.72v-.1h.72h.72v-.8h.72v.6h.72v-.5h.72v1.3h.72v-.7h.72v-.7h.72v.5h.72h.72v-.3H346.2V292.4Z" fill="#4ab97c"/>
<rect x="346.2" y="292.4" width="23.2" height="55.2" fill="#02b5dd"/>
<path d="M346.2 292.4V334h.72v1.9h.72v2.6h.72v2.4h.72v1.4h.72v.3h.72v2.2h.72v1.2h.72v.1h.72v.4h.72v.8h.72h.72v.2h.72v.1h.72h.72h.72h.72h.72h.72h.72h.72h.72h.72h.72h.72h.72h.72h.72h.72h.72h.72H369.4V292.4Z" fill="#a97c50"/>
<path d="M346.2 292.4V295.2h.72v-1h.72v-1.2h.72h.72v-.5h.72h.72h.72h.72h.72h.72h.72h.72h.72h.72h.72h.72h.72h.72h.72h.72h.72h.72h.72h.72h.72h.72h.72h.72h.72h.72h.72H369.4V292.4Z" fill="#fef383"/>
<rect x="369.4" y="292.4" width="2.5" height="55.2" fill="#02b5dd"/>
<path d="M369.4 292.4V322.8h.83v-.7h.83v.8H371.9V292.4Z" fill="#a97c50"/>
<rect x="371.9" y="292.4" width="18.9" height="55.2" fill="#02b5dd"/>
<path d="M371.9 292.4V308.9h.73v-.5h.73v.2h.73v.1h.73v.1h.73v-1.9h.73v2.2h.73v.2h.73v.1h.73v-.3h.73v1.3h.73v.6h.73v-1.5h.73v.8h.73v1.4h.73v-.4h.73v.1h.73v.7h.73v.5h.73v-1.8h.73v.7h.73v.1h.73v.7h.73v-.4h.73v.2h.73v1.3H390.8V292.4Z" fill="#a97c50"/>
<path d="M371.9 292.4V301.2h.73v.6h.73v-1.9h.73v.5h.73v.2h.73v.5h.73v-.9h.73v.7h.73v.5h.73v-1h.73v.8h.73v.1h.73v-.4h.73v-.4h.73v-.6h.73v.8h.73v-.6h.73h.73v.1h.73v-.3h.73v.9h.73v-.8h.73v-.7h.73v-.1h.73v.2h.73v-.6H390.8V292.4Z" fill="#fef383"/>
<path d="M371.9 292.4V297h.73v-.5h.73v-.5h.73v-.5h.73v.2h.73v.5h.73v.6h.73v-1h.73h.73v.1h.73v-.1h.73v-.3h.73v1h.73h.73v-.8h.73v1.1h.73v.1h.73v-1.1h.73v.6h.73v-.2h.73v-.2h.73v.4h.73v-.4h.73v.3h.73h.73v.1H390.8V292.4Z" fill="#a01d5e"/>
<path d="M371.9 292.4V293.6h.73v-.5h.73v1.4h.73v-.1h.73v-.6h.73v-.5h.73v.7h.73v-.4h.73v-.2h.73v.9h.73h.73v-.5h.73v-.2h.73v.3h.73v.5h.73v-.5h.73v.6h.73v.3h.73v-.3h.73v-.8h.73v.8h.73v-.6h.73v-.2h.73h.73v1.1h.73v-.8H390.8V292.4Z" fill="#4ab97c"/>
<rect x="390.8" y="292.4" width="26.2" height="55.2" fill="#02b5dd"/>
<path d="M390.8 292.4V315.4h.73v-4.7h.73v1.2h.73v-.4h.73v-.6h.73h.73v.5h.73v-.5h.73v-.1h.73v.5h.73v-.8h.73v.6h.73v1.3h.73v-.3h.73v-.7h.73v-.3h.73h.73v-.4h.73v.8h.73v-.4h.73v.1h.73v1.4h.73v-.7h.73v-.4h.73v-.2h.73v-.5h.73v1.2h.73v-.7h.73v.1h.73v1.3h.73v-.3h.73v-.5h.73v-.8h.73v1h.73v-.8h.73v.6H417V292.4Z" fill="#fef383"/>
<path d="M390.8 292.4V299.8h.73v1.3h.73v-.9h.73v.4h.73h.73v-.7h.73h.73h.73v.1h.73v1.3h.73v-.9h.73v.1h.73v-.1h.73v.1h.73v-.3h.73h.73v-1.2h.73v.6h.73v1.2h.73h.73v-1h.73v-.4h.73v.8h.73v-.4h.73v-.2h.73v.6h.73h.73v.5h.73v-1h.73v-4.1h.73v4.5h.73v-.6h.73v.6h.73v.2h.73v-.1h.73v.6H417V292.4Z" fill="#bfc0c2"/>
<path d="M390.8 292.4V295.8h.73v-.5h.73v.9h.73v-1.4h.73v.5h.73h.73v.4h.73v-.6h.73v.4h.73v-.4h.73h.73v-.4h.73v1h.73v-.3h.73v.2h.73v.4h.73v-.5h.73v-1h.73v1.5h.73v-.4h.73v.5h.73v-.7h.73v-.7h.73v1.1h.73v-.5h.73v-.4h.73v.3h.73v1h.73v-1h.73v.9h.73v-1.4h.73v-.3h.73v.9h.73h.73h.73v.1H417V292.4Z" fill="#a01d5e"/>
<rect x="417" y="292.4" width="19.3" height="55.2" fill="#02b5dd"/>
<path d="M417 292.4V316.4h.71v-1.6h.71v1.8h.71v-.2h.71v-1.5h.71v1.1h.71v-.3h.71v1h.71v-1.1h.71v1.1h.71v-.8h.71v.3h.71v.3h.71v-.3h.71v.8h.71v-.8h.71v-.2h.71v-.5h.71v.8h.71v.1h.71v-.7h.71v-.2h.71v.4h.71v.3h.71v.1h.71v.1h.71v-.6H436.3V292.4Z" fill="#fef383"/>
<path d="M417 292.4V295h.71v-.9h.71h.71v.8h.71v-.6h.71v.9h.71v-1.5h.71v1.1h.71v.2h.71h.71v-.8h.71v.4h.71v-.1h.71v.5h.71v.2h.71v-.8h.71v.8h.71v.2h.71v-.5h.71v.6h.71v-.6h.71v-.2h.71v1.1h.71v-1.3h.71v.4h.71v.4h.71v.1H436.3V292.4Z" fill="#a01d5e"/>
<rect x="436.3" y="292.4" width="15" height="55.2" fill="#02b5dd"/>
<path d="M436.3 292.4V303.8h.71v-.3h.71v1.1h.71v-1.9h.71v.7h.71h.71v.2h.71v-.3h.71v-.6h.71v.6h.71v-.3h.71v-1.3h.71v1.4h.71v-2.2h.71v1h.71v-.7h.71v.4h.71v-.3h.71v-1h.71v.5h.71v-1H451.3V292.4Z" fill="#fef383"/>
<path d="M436.3 292.4V296.1h.71v-.3h.71v.4h.71v-1.2h.71v.5h.71v.1h.71v-.4h.71v-.4h.71v1.5h.71v-1.1h.71v-.5h.71h.71v1h.71v-.4h.71v1.1h.71v-1.7h.71h.71v.8h.71v.1h.71v.1h.71v-.3H451.3V292.4Z" fill="#a01d5e"/>
<rect x="451.3" y="292.4" width="19.9" height="55.2" fill="#02b5dd"/>
<path d="M451.3 292.4V304.4h.71v1.7h.71v-1.8h.71v.9h.71v1h.71v-2.9h.71v.6h.71v-.4h.71v-.1h.71v.2h.71v.5h.71v-1.1h.71v.3h.71v-1h.71v.6h.71v.1h.71v-.8h.71v-.4h.71v.7h.71v.4h.71v-.6h.71v-.2h.71v-1.4h.71v1.5h.71v-.5h.71v-.7h.71v-.4h.71H471.2V292.4Z" fill="#fef383"/>
<path d="M451.3 292.4V293.7h.71v-1.2h.71v.1h.71v.8h.71v-.5h.71v-.1h.71v.6h.71v-.3h.71v.3h.71v-.2h.71v.3h.71v-.3h.71v.2h.71v.4h.71v-.6h.71v.4h.71v-.5h.71v.3h.71v.2h.71v-.7h.71v.7h.71v-.3h.71v-.3h.71v.4h.71v-.1h.71v.1h.71v-.2h.71v.1H471.2V292.4Z" fill="#a01d5e"/>
<rect x="471.2" y="292.4" width="17.3" height="55.2" fill="#02b5dd"/>
<path d="M471.2 292.4V306.2h.72v-.4h.72v.1h.72v-.2h.72v-1h.72v.4h.72h.72h.72v.6h.72v-.9h.72v1.5h.72v-1.8h.72v.4h.72v-.7h.72h.72v-1.1h.72v1h.72v-2.3h.72v2.1h.72h.72v.2h.72v-1.7h.72v4h.72v-3.2H488.5V292.4Z" fill="#fef383"/>
<path d="M471.2 292.4V293h.72v.1h.72v.3h.72v.1h.72v-.3h.72v-.4h.72v.3h.72h.72v-.2h.72v.8h.72v-.8h.72v.6h.72v-.3h.72v-.2h.72v.5h.72v-.3h.72v.1h.72v.1h.72v-.5h.72v.2h.72v-.3h.72v.4h.72v.4h.72H488.5V292.4Z" fill="#a01d5e"/>
<rect x="488.5" y="292.4" width="28.5" height="55.2" fill="#02b5dd"/>
<path d="M488.5 292.4V318.8h.71v.4h.71v-1.3h.71v.9h.71v-1.2h.71v.7h.71v-1h.71v-.3h.71v-.1h.71v-.1h.71v-.9h.71v1.6h.71v-1.2h.71v.3h.71v-.4h.71v-.6h.71v1.1h.71v-.9h.71v.4h.71v-.1h.71v-.7h.71v.1h.71v.2h.71h.71v-1.8h.71v.1h.71v-.5h.71v.3h.71v.1h.71h.71v.1h.71v-.2h.71v.4h.71v-.8h.71v.5h.71v-.5h.71v.9h.71v-1.3h.71v-1.5h.71v.1H517V292.4Z" fill="#fef383"/>
<path d="M488.5 292.4V308.7h.71v-.2h.71v.4h.71v-.7h.71v-.2h.71v.1h.71v1h.71v-.9h.71v-.6h.71v.3h.71v.5h.71v-.7h.71v-.3h.71v.1h.71v-.1h.71h.71v-.3h.71v-.9h.71v.1h.71v.6h.71v5.2h.71v-5.9h.71v.5h.71v-.1h.71v-.1h.71v-.4h.71v-.4h.71v-.8h.71v.5h.71v-.3h.71v-.6h.71v.3h.71h.71v.3h.71v.1h.71v-1h.71v-.1h.71v-.2h.71v.8h.71v-.5H517V292.4Z" fill="#a01d5e"/>
<path d="M488.5 292.4V307.3h.71v1h.71v-.8h.71v.5h.71v-.4h.71v-.1h.71v-.3h.71v-.3h.71v-.5h.71h.71v.1h.71v.4h.71v.2h.71v-1.5h.71v1.5h.71v-1.1h.71v-1.5h.71v1.8h.71v-1.3h.71v.2h.71v.5h.71v.1h.71v-1.2h.71v.4h.71v-.6h.71v-1.2h.71v1.3h.71v-.6h.71v1.1h.71v-.3h.71v-.6h.71v.4h.71v-.5h.71v-.6h.71v-.2h.71v.8h.71v-1.4h.71v.3h.71h.71v-.1H517V292.4Z" fill="#a1549f"/>
<path d="M488.5 292.4V293.1h.71v.5h.71v-.4h.71v.4h.71v.3h.71v.2h.71v.1h.71v-.3h.71v.3h.71v.4h.71v-.4h.71v.4h.71v.4h.71v-.4h.71v-.6h.71v-.1h.71v-.1h.71v1.1h.71v-.8h.71v-.2h.71v.7h.71v-.2h.71v-.1h.71v-.7h.71v-.2h.71v.8h.71v-.7h.71v.2h.71v.4h.71v.4h.71v-.5h.71v.1h.71v.5h.71v-.6h.71v-.4h.71h.71v.8h.71v-.6h.71v1.2h.71v-.1H517V292.4Z" fill="#4ab97c"/>
<rect x="517" y="292.4" width="23.3" height="55.2" fill="#02b5dd"/>
<path d="M517 292.4V315.9h.73v.5h.73v-.5h.73v.1h.73v.5h.73v-.2h.73v.1h.73v-.6h.73v-2.1h.73v3.4h.73v-.5h.73v-.2h.73v-.4h.73h.73v-.3h.73v.7h.73v-.8h.73v-.1h.73v.2h.73v.5h.73v-1.3h.73v1.1h.73v-.3h.73v.5h.73v-.6h.73v.2h.73v.1h.73v.3h.73v.3h.73v-.6h.73v-.2h.73v.9H540.3V292.4Z" fill="#fef383"/>
<path d="M517 292.4V308.5h.73v.3h.73v.9h.73v-1h.73v-.5h.73v.7h.73v.1h.73v-.5h.73v.6h.73v-1h.73v.9h.73v-.1h.73v-.4h.73v-.2h.73v.5h.73v.6h.73v-1.1h.73v.4h.73v.5h.73h.73v-.3h.73v1h.73v-1.7h.73v.9h.73v-.6h.73v.9h.73v-.1h.73v-.4h.73v.9h.73v-.5h.73v-.8h.73H540.3V292.4Z" fill="#a01d5e"/>
<path d="M517 292.4V308.2h.73v-.1h.73v.2h.73v.2h.73v-1.3h.73v.7h.73h.73v-.1h.73h.73v-.7h.73v.8h.73v.1h.73v-.1h.73v1h.73v-1h.73v.6h.73v-.6h.73v-.9h.73v1.3h.73v12.3h.73v-12.5h.73v-.6h.73v.5h.73v.3h.73v.1h.73v-.4h.73v.5h.73v-1.1h.73v.7h.73v-.7h.73v.1h.73v.8H540.3V292.4Z" fill="#a1549f"/>
<path d="M517 292.4V293.6h.73v.1h.73v.1h.73v.6h.73v-1.1h.73v-.5h.73v1.8h.73v-.7h.73v-.1h.73v.3h.73v-.5h.73v.9h.73v-.7h.73v-.4h.73v.4h.73v-.2h.73v.2h.73v-.8h.73v.4h.73v.6h.73v-.3h.73v.7h.73v-.1h.73v-.6h.73v-.4h.73v.6h.73v-.6h.73v.3h.73v.5h.73v-.1h.73v-.4h.73v-.3H540.3V292.4Z" fill="#4ab97c"/>
<rect x="540.3" y="292.4" width="14.9" height="55.2" fill="#02b5dd"/>
<path d="M540.3 292.4V323h.71v.5h.71v.2h.71v-.1h.71v.5h.71v-.5h.71v1.1h.71v1.8h.71v-1.3h.71v.4h.71v.4h.71v-.9h.71h.71v.2h.71v.9h.71v-.9h.71v1.4h.71v-.7h.71v.5h.71v-.2h.71v-.5H555.2V292.4Z" fill="#fef383"/>
<path d="M540.3 292.4V316.6h.71v1.1h.71v-.9h.71v1.7h.71v-.8h.71v.2h.71v.8h.71h.71v.4h.71v-1h.71v1.1h.71v.7h.71v-.6h.71v.8h.71v.2h.71v-.5h.71v1.2h.71v-.9h.71v1h.71v.6h.71v1.4H555.2V292.4Z" fill="#a01d5e"/>
<path d="M540.3 292.4V316.3h.71v-1.1h.71v3h.71v-.9h.71v.3h.71v-.1h.71v-.9h.71v.9h.71v.6h.71h.71v.6h.71v.4h.71v-.9h.71v1.6h.71v-.3h.71v.2h.71h.71v-.2h.71v.6h.71v.9h.71H555.2V292.4Z" fill="#a1549f"/>
<path d="M540.3 292.4V294.7h.71v-1.1h.71v.7h.71v-1.6h.71v.3h.71v.2h.71v1.7h.71v-.4h.71v-.6h.71v-.1h.71v.7h.71v-.8h.71v-.4h.71v.5h.71h.71v.2h.71v.6h.71v-1.2h.71v-.6h.71v.6h.71v-.5H555.2V292.4Z" fill="#4ab97c"/>
<rect x="555.2" y="292.4" width="4.1" height="55.2" fill="#02b5dd"/>
<path d="M555.2 292.4V344.6h.68v.2h.68h.68v-.6h.68v.1h.68v-.8H559.3V292.4Z" fill="#fef383"/>
<path d="M555.2 292.4V337.1h.68v-1.1h.68v.8h.68v-.2h.68v-.2h.68v-.2H559.3V292.4Z" fill="#a1549f"/>
<rect x="559.3" y="292.4" width="37.9" height="55.2" fill="#a1549f"/>
<rect x="597.2" y="292.4" width="19.2" height="55.2" fill="#a01d5e"/>
<rect x="616.4" y="292.4" width="10" height="55.2" fill="#02b5dd"/>
<path d="M616.4 292.4V344.5h.71v1h.71v-.6h.71v-.9h.71v.5h.71v.1h.71h.71h.71v.6h.71v-.3h.71v-.6h.71v.2h.71v.8h.71v-.4H626.4V292.4Z" fill="#fcb216"/>
<path d="M616.4 292.4V341h.71v1.4h.71v-.1h.71v-.9h.71v1.2h.71v-.5h.71v-.8h.71v.9h.71v.4h.71v-.6h.71v.1h.71v.5h.71v-1.5h.71v.7H626.4V292.4Z" fill="#a01d5e"/>
<path d="M616.4 292.4V318.1h.71v-.4h.71v.1h.71v-.4h.71v.5h.71v.5h.71v-.3h.71v-.7h.71v.7h.71v-.9h.71v-1.6h.71v2h.71h.71v-.1H626.4V292.4Z" fill="#a1549f"/>
<path d="M616.4 292.4V303.5h.71v.5h.71v-1.4h.71v1.3h.71v-.1h.71v-.8h.71v1.3h.71v-.5h.71v-.3h.71v-.8h.71v1h.71v.6h.71v-.5h.71v.2H626.4V292.4Z" fill="#4ab97c"/>
<rect x="626.4" y="292.4" width="12.5" height="55.2" fill="#02b5dd"/>
<path d="M626.4 292.4V343.3h.74v-.5h.74h.74v.1h.74v-.5h.74v-.3h.74v.8h.74v.5h.74v-.5h.74v-.3h.74v.4h.74v.5h.74v-1.8h.74v1.1h.74h.74v.2h.74v.5H638.9V292.4Z" fill="#a01d5e"/>
<path d="M626.4 292.4V321.1h.74v-.3h.74v.3h.74v-.4h.74v1h.74v-.9h.74v.2h.74v.5h.74v-1h.74v.1h.74v.2h.74v.9h.74v.4h.74v-.4h.74v-1.5h.74v1.4h.74v1.2H638.9V292.4Z" fill="#a1549f"/>
<path d="M626.4 292.4V303.4h.74v-1.1h.74v-.7h.74v2.2h.74v-.5h.74v-1.2h.74v1.2h.74v.3h.74v-.7h.74v.2h.74v-.3h.74v1.2h.74v-1.2h.74v-.3h.74v-.3h.74v.3h.74v1.1H638.9V292.4Z" fill="#4ab97c"/>
<rect x="638.9" y="292.4" width="8.5" height="55.2" fill="#02b5dd"/>
<path d="M638.9 292.4V332.6h.71v.8h.71v-.1h.71v.9h.71v.7h.71h.71v.5h.71v.7h.71v.5h.71v-.2h.71v-.3h.71v.7H647.4V292.4Z" fill="#a01d5e"/>
<path d="M638.9 292.4V326h.71v2.1h.71v1.4h.71v1.2h.71v.6h.71v.8h.71v.9h.71v.4h.71v-.8h.71v1.4h.71v.6h.71v-.3H647.4V292.4Z" fill="#4ab97c"/>
<rect x="647.4" y="292.4" width="8.1" height="55.2" fill="#02b5dd"/>
<path d="M647.4 292.4V335.1h.74v-.3h.74h.74v1.1h.74v-.6h.74v1.7h.74v-.5h.74h.74v2.5h.74v-.8h.74v.4H655.5V292.4Z" fill="#a01d5e"/>
<path d="M647.4 292.4V328.1h.74v1h.74v.2h.74v.2h.74v.7h.74v-.9h.74v.5h.74v1.3h.74v-.1h.74v-.4h.74v.9H655.5V292.4Z" fill="#4ab97c"/>
<rect x="655.5" y="292.4" width="5.9" height="55.2" fill="#f8f1d6"/>
<path d="M655.5 292.4V345.3h.74v.5h.74v-.7h.74v.9h.74v-1.3h.74v1.3h.74h.74v.3H661.4V292.4Z" fill="#4ab97c"/>
<rect x="661.4" y="292.4" width="22.8" height="55.2" fill="#fef383"/>
<path d="M661.4 292.4V323.1h.71v6.4h.71v5.4h.71v1.7h.71v3.7h.71v.2h.71v.8h.71v1.4h.71v.9h.71v-.9h.71v1.3h.71v.6h.71v.7h.71v.3h.71v-.2h.71v-.2h.71v.4h.71v.3h.71v.8h.71v-.3h.71v.4h.71v-.7h.71v1.1h.71v-.2h.71v-.6h.71v.5h.71v-.1h.71v.2h.71h.71v.1h.71v.2h.71H684.2V292.4Z" fill="#4ab97c"/>
<rect x="91" y="334.4" width="0.7" height="13.2" fill="#f8f1d6"/>
<rect x="582.4" y="292.9" width="0.8" height="6" fill="#bfc0c2"/>
<rect x="452.8" y="302.4" width="1" height="22" fill="#fef383"/>
<rect x="582.3" y="342.4" width="1" height="5.2" fill="#f6c9c0"/>
<rect x="555.9" y="325.4" width="0.8" height="22.2" fill="#f6c9c0"/>
<rect x="639.3" y="323.9" width="1" height="14.5" fill="#f8f1d6"/>
<rect x="640.3" y="326.4" width="0.6" height="12" fill="#f8f1d6"/>
<rect x="648.2" y="333.9" width="1.4" height="5" fill="#f8f1d6"/>
<rect x="627.8" y="337.9" width="0.8" height="9.7" fill="#f8f1d6"/>
<rect x="368.4" y="326.8" width="0.9" height="20.8" fill="#02b5dd"/>
<path d="M90.2 317.9L90.9 318.9L91.2 327.4L90.6 326.4Z" fill="#414143"/>
<path d="M92.3 325.9L93.3 325.9L95.2 336.4L94.2 336.9Z" fill="#414143"/>
<rect x="22.5" y="350.8" width="22.5" height="55.2" fill="#bfc0c2"/>
<rect x="45" y="350.8" width="22.5" height="55.2" fill="#bfc0c2"/>
<path d="M45 350.8V355.3h.73v-.1h.73v.7h.73v-1.3h.73v.6h.73v1.1h.73v-1h.73v-.2h.73v.6h.73v-.7h.73v-.2h.73v.7h.73v1.2h.73v-2.5h.73v.7h.73v.6h.73v-.8h.73v.4h.73v.6h.73v.1h.73v-.8h.73v-.2h.73v1h.73v-.6h.73v-.3h.73v.3h.73v-.4h.73v1.3h.73v-.8h.73v-.4h.73v.1H67.5V350.8Z" fill="#293a8f"/>
<rect x="67.5" y="350.8" width="22.2" height="55.2" fill="#02b5dd"/>
<path d="M67.5 350.8V394.3h.72v.8h.72v-1.6h.72v1h.72v-5.3h.72v5.8h.72v.2h.72v-.5h.72v.4h.72v.2h.72v.1h.72v-.5h.72v-.6h.72v-.2h.72v1.2h.72v-1h.72h.72v.5h.72v-1h.72v1.1h.72v.1h.72v-.1h.72v-1.4h.72v2.2h.72v-1.2h.72v-.2h.72v.3h.72v.3h.72v-.5h.72v.9h.72v-1.2H89.7V350.8Z" fill="#a97c50"/>
<path d="M67.5 350.8V393.3h.72v-.1h.72v-.3h.72v.2h.72v-.3h.72v.4h.72h.72v-.8h.72v1.2h.72v-1.2h.72v-3.5h.72v3.7h.72v.9h.72v-.3h.72v-.6h.72v-.4h.72v.1h.72v.5h.72v-.1h.72v.1h.72v.4h.72h.72h.72v-.2h.72v-.5h.72v.9h.72v-.9h.72v.3h.72v.3h.72v.7h.72v-.7H89.7V350.8Z" fill="#fef383"/>
<path d="M67.5 350.8V388h.72v-1h.72v-.4h.72v.5h.72v-.1h.72v-.3h.72v-.8h.72v.7h.72v.1h.72v.8h.72v-.7h.72v-.2h.72v.3h.72v.5h.72v-.2h.72v-.9h.72v1.1h.72v-.5h.72v-.3h.72v1.2h.72v-1.1h.72v.5h.72h.72v-.1h.72v.2h.72v-.6h.72v-.1h.72v-.4h.72v1h.72v-.7h.72v.6H89.7V350.8Z" fill="#bfc0c2"/>
<path d="M67.5 350.8V355.9h.72v-.3h.72v-.2h.72v.3h.72v-.9h.72h.72v1.2h.72v-.5h.72v-.6h.72v.9h.72v-.6h.72h.72v-.3h.72v1.4h.72v-1.2h.72v.1h.72v.1h.72v.5h.72v-.7h.72v.9h.72v-.3h.72v-1.1h.72v.5h.72v.1h.72v-.2h.72v1.7h.72v-1.5h.72v.9h.72v-1.5h.72v1h.72v-1H89.7V350.8Z" fill="#a01d5e"/>
<rect x="89.7" y="350.8" width="22.5" height="55.2" fill="#bfc0c2"/>
<path d="M89.7 350.8V376.4h.73v8.3h.73v-2.5h.73v1.1h.73v1.9h.73v2h.73v.6h.73v1.5h.73v1.5h.73v.4h.73v1.4h.73v3h.73v-.2h.73v1.3h.73v.8h.73v1.4h.73v.8h.73v.1h.73v2.3h.73v-.3h.73v1.8h.73v1.3h.73v-1h.73v1.8h.73v.3h.73h.73h.73h.73h.73h.73H112.2V350.8Z" fill="#fcb216"/>
<rect x="112.2" y="350.8" width="22.4" height="55.2" fill="#fef383"/>
<path d="M112.2 350.8V358.3h.72v-.3h.72v-1.4h.72v1.3h.72v-1.8h.72v1.9h.72v.6h.72v-1.7h.72v-1.5h.72v4.3h.72v-1.9h.72v-.5h.72v1h.72v-2.3h.72v-1.9h.72v3.9h.72v-2.1h.72v1.4h.72v.8h.72v-.8h.72v-.6h.72v.2h.72v.9h.72v1.2h.72v1.2h.72v-3h.72h.72v.4h.72v.1h.72v.2h.72v.9H134.6V350.8Z" fill="#293a8f"/>
<rect x="134.6" y="350.8" width="22.4" height="55.2" fill="#02b5dd"/>
<path d="M134.6 350.8V398.2h.72h.72v-2.2h.72v2.4h.72v2.1h.72v2.6h.72v1h.72v-.3h.72v.3h.72v.9h.72h.72v.4h.72v.2h.72v-.3h.72h.72v.1h.72v.1h.72v-.1h.72v.1h.72h.72v-.2h.72v-.2h.72h.72v.6h.72v-.5h.72v.1h.72v.4h.72h.72h.72h.72H157V350.8Z" fill="#fef383"/>
<path d="M134.6 350.8V355.9h.72v2.6h.72v-1.8h.72v2.7h.72v-3h.72v2.5h.72v-.5h.72v1.6h.72v-.5h.72v-1.3h.72v-.6h.72v-1.3h.72v1.3h.72v-.5h.72v2.6h.72v-1.1h.72v-.6h.72v1h.72v.3h.72v-2.7h.72v.4h.72v.4h.72v1.8h.72v-.2h.72v-1.4h.72v.9h.72v-.6h.72v-1.9h.72v1h.72v1.4h.72v-2H157V350.8Z" fill="#293a8f"/>
<rect x="157" y="350.8" width="22.2" height="55.2" fill="#02b5dd"/>
<path d="M157 350.8V394.6h.72v.4h.72v.5h.72v.8h.72v.7h.72v1.1h.72h.72v-.2h.72v.2h.72v.7h.72v-.6h.72v.5h.72v-.5h.72v.8h.72v.4h.72v1.1h.72v-.5h.72v-1h.72v2h.72v-.5h.72v-1.2h.72v1.1h.72v.1h.72h.72v.8h.72v.2h.72v.3h.72v.4h.72v.2h.72v-1.1h.72v.6H179.2V350.8Z" fill="#fef383"/>
<path d="M157 350.8V358.7h.72v-1.4h.72v.9h.72v-2.2h.72v1.9h.72v1.1h.72v.4h.72v-2h.72v-.7h.72v2.2h.72v-1.7h.72v.5h.72v1.6h.72v-1.3h.72v-2.8h.72v2.8h.72v-1h.72v.6h.72v2.5h.72v-3.5h.72v2.1h.72v-.4h.72v.6h.72v-1.7h.72v2.3h.72h.72v-1.8h.72v-.4h.72v1.3h.72v-.4h.72v-.3H179.2V350.8Z" fill="#293a8f"/>
<rect x="179.2" y="350.8" width="22.1" height="55.2" fill="#02b5dd"/>
<path d="M179.2 350.8V383.8h.71v1h.71h.71v.4h.71v-.1h.71v.3h.71v-.6h.71v-.2h.71v1h.71v.4h.71v-1h.71v1.2h.71v-.2h.71v.7h.71v-.3h.71v-.2h.71v-.3h.71v.9h.71v.3h.71v.9h.71v-.8h.71h.71v-.4h.71v-.1h.71v-.1h.71v1.8h.71v-1.1h.71h.71v1.3h.71v-.9h.71v.4H201.3V350.8Z" fill="#fef383"/>
<path d="M179.2 350.8V355.5h.71v1.2h.71v.1h.71v1.6h.71v-1.1h.71v-1.3h.71v.6h.71v-.4h.71v1.3h.71v.3h.71v-.1h.71v-1.4h.71h.71v-.2h.71v.5h.71v-.2h.71v.3h.71v2.6h.71v-4h.71v-.3h.71v4.3h.71v-2.3h.71v-.2h.71v-1.3h.71v.4h.71v.1h.71v1.7h.71v.6h.71v-2.2h.71v.4h.71v1.1H201.3V350.8Z" fill="#293a8f"/>
<rect x="201.3" y="350.8" width="23" height="55.2" fill="#02b5dd"/>
<path d="M201.3 350.8V387.4h.72v-.4h.72v-.6h.72h.72v1.3h.72h.72v-.1h.72v.6h.72v-1.2h.72v.6h.72v-.5h.72v-9.6h.72v10h.72v-.6h.72v.6h.72v-.9h.72v.7h.72v.5h.72v.6h.72v-.6h.72v.1h.72v.4h.72v.3h.72v-.1h.72v-.4h.72v.4h.72v-5.9h.72v7h.72v-.5h.72v-.3h.72v.2h.72v.6H224.3V350.8Z" fill="#fef383"/>
<path d="M201.3 350.8V358.8h.72v-1.7h.72v-.1h.72v2.5h.72v-2.9h.72v2.3h.72v-2.9h.72v4h.72v-3.6h.72v.5h.72v.3h.72v-.3h.72v-.6h.72v.3h.72v1.4h.72v-.9h.72v2h.72v-.9h.72v-.8h.72v1.9h.72v-1.2h.72v-2h.72v1.2h.72v-1.8h.72v1.2h.72v1.1h.72v-.3h.72h.72v5.6h.72v-6.3h.72v-.5h.72v.8H224.3V350.8Z" fill="#293a8f"/>
<rect x="224.3" y="350.8" width="31.4" height="55.2" fill="#02b5dd"/>
<path d="M224.3 350.8V390.2h.71v.8h.71v.2h.71v.7h.71v-1.3h.71v-.1h.71v1.2h.71v-.8h.71v.2h.71v.1h.71h.71v1h.71v-3.9h.71v3.3h.71v1h.71v.3h.71v-1.2h.71v.5h.71v.3h.71v-.1h.71v.5h.71v.1h.71v.6h.71v-.1h.71v.4h.71v-.9h.71h.71v.1h.71v.9h.71v-1h.71v1.3h.71v-.8h.71v.3h.71v.2h.71v-1.1h.71v1.5h.71v-.4h.71v.3h.71v-.4h.71v.5h.71v1.2h.71v-1.3h.71v-.1h.71v1.3H255.7V350.8Z" fill="#fef383"/>
<path d="M224.3 350.8V363.8h.71v-.4h.71v-.9h.71v1h.71v-1.1h.71v.7h.71v-1.2h.71v1h.71v-1.4h.71v.1h.71v.1h.71v.8h.71v-.2h.71v-1.2h.71v-.2h.71h.71v.1h.71v-.1h.71v-.7h.71v.8h.71v-.1h.71v-.2h.71v-.4h.71v-.2h.71v-1h.71v.5h.71v.3h.71v-1h.71v-.4h.71v-.1h.71v.2h.71v-.3h.71v-.6h.71v.2h.71v1h.71v-1.4h.71v.1h.71v-.6h.71v.1h.71v.5h.71v-1.6h.71v.3h.71v.7h.71v-.4H255.7V350.8Z" fill="#bfc0c2"/>
<path d="M224.3 350.8V353.2h.71v-.7h.71v-.1h.71v.8h.71v-.4h.71h.71v.2h.71v-.6h.71h.71v.2h.71v1.1h.71v-1.2h.71v-.3h.71v.8h.71v-.4h.71v-.4h.71v1.8h.71v-1.4h.71v.2h.71v-.1h.71v.2h.71v-.5h.71v.5h.71v-.7h.71v.2h.71v.4h.71h.71v-.1h.71v.3h.71v.2h.71v-.5h.71v.8h.71v-.9h.71v.4h.71v-.3h.71v.4h.71v-.7h.71v-.4h.71v.5h.71v-.3h.71v.8h.71v-.1h.71v.7h.71v-1.6H255.7V350.8Z" fill="#a01d5e"/>
<rect x="255.7" y="350.8" width="22.3" height="55.2" fill="#02b5dd"/>
<path d="M255.7 350.8V380.9h.72v.2h.72v-.9h.72v-.8h.72v.1h.72v-1.6h.72v.1h.72v-.6h.72v-.4h.72v-.4h.72v.2h.72v-.8h.72v-1.1h.72v1.2h.72v-2h.72v.3h.72v.6h.72v-.2h.72v-1.8h.72v.5h.72v-1h.72v-.5h.72v.1h.72v-.8h.72v-1.1h.72v.5h.72v-.2h.72v.5h.72v-3h.72v1.4h.72v-1.6H278V350.8Z" fill="#fef383"/>
<path d="M255.7 350.8V358.7h.72v.4h.72v.6h.72v-1h.72v-.2h.72v.3h.72v-.3h.72v-1.2h.72v-.1h.72v-.5h.72v.8h.72v.6h.72v-1.3h.72v.8h.72v-.2h.72v-.3h.72v-.6h.72v.4h.72v-.2h.72v-.3h.72v.5h.72v-.5h.72v.6h.72v-.7h.72v-.4h.72v.1h.72v-.5h.72v-.2h.72h.72v.3h.72v-.3H278V350.8Z" fill="#293a8f"/>
<rect x="278" y="350.8" width="13.2" height="55.2" fill="#02b5dd"/>
<path d="M278 350.8V384.9h.73v-.6h.73v.4h.73v.7h.73v.9h.73v-.2h.73v.5h.73v-.8h.73v.5h.73v-.1h.73v1.5h.73v.6h.73v-.4h.73v-.5h.73v.1h.73v.8h.73v-.3h.73v.5H291.2V350.8Z" fill="#fef383"/>
<path d="M278 350.8V370.2h.73v1h.73v-1.2h.73v.5h.73v.2h.73v-1.8h.73v2.9h.73v.5h.73v.2h.73v.4h.73v.8h.73v-.9h.73v.9h.73v-.2h.73v-.2h.73v1.8h.73v.9h.73v-.6H291.2V350.8Z" fill="#293a8f"/>
<rect x="291.2" y="350.8" width="19.2" height="55.2" fill="#293a8f"/>
<rect x="310.4" y="350.8" width="35.8" height="55.2" fill="#02b5dd"/>
<path d="M310.4 350.8V383.5h.72v.3h.72v-1.5h.72v-1.6h.72v.4h.72v-1h.72v2.4h.72v-2.4h.72h.72v1.6h.72v-.3h.72v-2.1h.72v2.9h.72v-1.2h.72v-.7h.72v-.7h.72v.4h.72v-.7h.72v1h.72v-3.6h.72v1.1h.72v8.2h.72v-8.5h.72v.4h.72v1.4h.72v-.3h.72v-1.2h.72v2.6h.72v-1.9h.72v-.8h.72v.9h.72v-.6h.72v-.8h.72v1.2h.72v-1h.72v.3h.72v-.5h.72v.1h.72v-.4h.72v.3h.72v4.5h.72v-4.9h.72v-1.6h.72v-7.4h.72v9.1h.72v-2.6h.72v-.1h.72v.2h.72v1h.72v-2.9H346.2V350.8Z" fill="#a97c50"/>
<path d="M310.4 350.8V382.3h.72v.3h.72v-1.3h.72v1h.72v-.4h.72v.3h.72v1.9h.72v-3.4h.72v.7h.72v-.5h.72v-.5h.72v.3h.72v-.4h.72v-.8h.72v-.3h.72v5.7h.72v-4.6h.72v-1.5h.72v-1h.72v-.4h.72v1.7h.72v-.9h.72h.72v.3h.72v-1.1h.72v-.6h.72v-.1h.72v-.4h.72v-.9h.72v-.5h.72v.7h.72v-1.9h.72v1.1h.72v-.6h.72h.72v-1h.72v-.1h.72v.6h.72v-1.6h.72v1.3h.72v-.7h.72v-.2h.72v-.3h.72v.1h.72v-.3h.72v-.9h.72v.4h.72v.7h.72v-1.1h.72v.2H346.2V350.8Z" fill="#fef383"/>
<path d="M310.4 350.8V368h.72v-2h.72v1.3h.72v-6.2h.72v7.4h.72v-.5h.72v1.1h.72v-.2h.72v1.8h.72v-.6h.72v-.6h.72v-.2h.72v1h.72v-1.1h.72v-.3h.72v-.5h.72v1.2h.72v-1.7h.72v.9h.72v2.2h.72v-1.6h.72v.3h.72v.4h.72v-1h.72v3.6h.72v-2.8h.72v-6.6h.72v7.7h.72v.5h.72v-.5h.72v-.7h.72h.72v-.6h.72v-2.1h.72v-3h.72v4.3h.72v1.3h.72v-1.2h.72v2.1h.72v-2h.72v-.8h.72v.9h.72h.72v-1.6h.72v.7h.72v-3h.72v2.5h.72v.1h.72v-2.3h.72v.8H346.2V350.8Z" fill="#293a8f"/>
<path d="M310.4 350.8V351.5h.72v1.9h.72v-2h.72v1h.72v.1h.72v-.6h.72v.8h.72v-1h.72v-.1h.72v.9h.72v.3h.72v-.8h.72v-.3h.72v1h.72v-.5h.72v.3h.72v-.5h.72v-.4h.72h.72v.3h.72v1.5h.72v-2.4h.72v1h.72v.5h.72h.72v-1.3h.72v1.1h.72v-.8h.72v.9h.72v-.7h.72v.5h.72v.6h.72v-.6h.72v-.7h.72v.6h.72v-.3h.72v.4h.72h.72v.1h.72v-.4h.72v.4h.72v.9h.72v-.8h.72v-.3h.72v.1h.72v-.5h.72v1.2h.72v-.9h.72v.4h.72v-.2H346.2V350.8Z" fill="#4ab97c"/>
<rect x="346.2" y="350.8" width="23.2" height="55.2" fill="#02b5dd"/>
<path d="M346.2 350.8V375.9h.72v11.4h.72v9.8h.72v4.8h.72v.5h.72v1.5h.72v1.9h.72h.72v-.1h.72v.2h.72v.1h.72h.72h.72h.72h.72h.72h.72h.72h.72h.72h.72h.72h.72h.72h.72h.72h.72h.72h.72h.72h.72H369.4V350.8Z" fill="#a97c50"/>
<path d="M346.2 350.8V360.6h.72v-.5h.72v-1h.72v-.9h.72v.4h.72v-.9h.72v-.4h.72v-1.8h.72h.72v-1.1h.72v.1h.72v-.6h.72v-.7h.72v-1h.72v-.1h.72v-.9h.72v-.4h.72h.72h.72h.72h.72h.72h.72h.72h.72h.72h.72h.72h.72h.72h.72H369.4V350.8Z" fill="#293a8f"/>
<rect x="369.4" y="350.8" width="2.5" height="55.2" fill="#02b5dd"/>
<path d="M369.4 350.8V381.7h.83v-.8h.83v-.4H371.9V350.8Z" fill="#a97c50"/>
<path d="M369.4 350.8V354.6h.83v.6h.83v.1H371.9V350.8Z" fill="#293a8f"/>
<rect x="371.9" y="350.8" width="18.9" height="55.2" fill="#02b5dd"/>
<path d="M371.9 350.8V371.1h.73v1.3h.73v.2h.73v-.2h.73v-.9h.73v-.4h.73v.7h.73v.2h.73v-.1h.73h.73v-1h.73v.9h.73v.5h.73v-.6h.73v.6h.73v-.7h.73v.2h.73h.73v-.1h.73v-.2h.73v.6h.73v-.7h.73v.9h.73v-.5h.73v.4h.73v1.1H390.8V350.8Z" fill="#a97c50"/>
<path d="M371.9 350.8V357.7h.73v1h.73v-.8h.73h.73v.5h.73v-.6h.73v.7h.73v-.3h.73v.7h.73v-.4h.73v-.6h.73v.1h.73v.2h.73v.7h.73v-.6h.73v-.2h.73v.4h.73v-1.1h.73v.9h.73v.4h.73v-1.4h.73v1.2h.73v-.1h.73v-.5h.73h.73v.1H390.8V350.8Z" fill="#a01d5e"/>
<path d="M371.9 350.8V355.4h.73v-.3h.73v-.5h.73v-.3h.73v.3h.73v.7h.73v-.2h.73v.2h.73v-.6h.73v-.3h.73v.5h.73v.2h.73v.4h.73v-.7h.73v.8h.73v.3h.73v.1h.73v-.3h.73v.1h.73v-.4h.73v-.6h.73v.5h.73h.73v-.4h.73v.3h.73v-.1H390.8V350.8Z" fill="#293a8f"/>
<rect x="390.8" y="350.8" width="26.2" height="55.2" fill="#02b5dd"/>
<path d="M390.8 350.8V372.6h.73v1.4h.73v-1.9h.73v.2h.73h.73v-.3h.73v.3h.73v.4h.73v-1h.73v-.5h.73v1h.73v.5h.73v-1.4h.73v1.1h.73v.1h.73v-.6h.73v-.4h.73v-.8h.73v1.1h.73v-.5h.73v-.7h.73v.3h.73v-.3h.73v.4h.73v-.8h.73v.8h.73v-.1h.73v.1h.73v-.4h.73v-.2h.73v-1.2h.73v.2h.73v-.4h.73v.7h.73v3.8h.73v-4.2H417V350.8Z" fill="#fef383"/>
<path d="M390.8 350.8V366.9h.73v.3h.73v-.5h.73h.73v.2h.73v.1h.73v-.3h.73v.3h.73v.3h.73v-.6h.73v-.8h.73v1.1h.73v-.1h.73v8h.73v-8.2h.73v-.2h.73v.7h.73v-.3h.73h.73v-.3h.73v.5h.73v.9h.73v-.3h.73v-.7h.73v.1h.73v-.4h.73v.4h.73v.6h.73v-1.2h.73v.6h.73v-.6h.73v.7h.73v.1h.73v-.4h.73h.73v.5H417V350.8Z" fill="#bfc0c2"/>
<path d="M390.8 350.8V361.7h.73v1.3h.73v.1h.73v-.1h.73v-.1h.73v-.9h.73v-.7h.73v.7h.73v.6h.73v-.3h.73v-2h.73v1h.73v.4h.73v-.1h.73v.7h.73v.5h.73v-.6h.73h.73v1.1h.73v-.8h.73v-.1h.73v1.1h.73v-2.8h.73v1.6h.73v-.2h.73v6.2h.73v-6.1h.73v.2h.73v-1.1h.73v1.5h.73v-.2h.73v-.2h.73v.1h.73v.2h.73v-.2h.73v-.6H417V350.8Z" fill="#293a8f"/>
<rect x="417" y="350.8" width="19.3" height="55.2" fill="#02b5dd"/>
<path d="M417 350.8V367.8h.71v1h.71v-3.7h.71v2.6h.71v.2h.71v-.6h.71v.5h.71v-.2h.71v.2h.71v-.8h.71v.5h.71v.4h.71v-.9h.71v.9h.71v-.8h.71v.5h.71v-.6h.71v.2h.71v-.6h.71h.71v-1.2h.71v1h.71v.3h.71h.71v-1h.71v.4h.71v.9H436.3V350.8Z" fill="#fef383"/>
<path d="M417 350.8V354.8h.71v-1.2h.71v1.3h.71v-.2h.71v-.4h.71v.9h.71v-.4h.71v.1h.71v.5h.71v-.3h.71v-.3h.71v.2h.71v-.9h.71v1.7h.71v-.6h.71v-1.3h.71v.8h.71v2h.71v-1.5h.71h.71h.71v.5h.71h.71v.2h.71v-.8h.71v-.6h.71v.1H436.3V350.8Z" fill="#293a8f"/>
<rect x="436.3" y="350.8" width="15" height="55.2" fill="#02b5dd"/>
<path d="M436.3 350.8V358.5h.71v-.5h.71v-1.5h.71v-.3h.71v.4h.71v-.4h.71v-.6h.71v.4h.71v-1.1h.71v-.7h.71v.1h.71v-1.9h.71v.2h.71v-.5h.71v-.2h.71v-.3h.71v.2h.71v-.7h.71v.3h.71v.1h.71v-.3H451.3V350.8Z" fill="#293a8f"/>
<rect x="451.3" y="350.8" width="19.9" height="55.2" fill="#02b5dd"/>
<path d="M451.3 350.8V370.4h.71v.9h.71v-.9h.71v.6h.71v-.1h.71v-1.5h.71v.1h.71v.7h.71v-1.2h.71v1h.71v-.5h.71v.5h.71v-.5h.71v.2h.71v-.6h.71v.7h.71v-.2h.71v-1.1h.71v.6h.71v-.1h.71v-.8h.71v-.2h.71v.6h.71v-.6h.71v.1h.71v-.8h.71v.7h.71v-4H471.2V350.8Z" fill="#fef383"/>
<path d="M451.3 350.8V364.5h.71v1h.71v-1.1h.71v1h.71v-1.1h.71v.4h.71v.4h.71v-.7h.71v-.2h.71v.5h.71v-.2h.71v-.6h.71v1h.71v-.5h.71v.4h.71v-.9h.71v.3h.71v.1h.71v.7h.71v-.1h.71v-1.3h.71v.4h.71v-.2h.71v-.7h.71v.9h.71v-.4h.71v-.4h.71v.9H471.2V350.8Z" fill="#293a8f"/>
<rect x="471.2" y="350.8" width="17.3" height="55.2" fill="#02b5dd"/>
<path d="M471.2 350.8V372.1h.72v-.9h.72v.8h.72v-.6h.72v-1h.72v-.5h.72v.9h.72v.2h.72v-.8h.72v-.3h.72v-.1h.72v.5h.72v.1h.72v.1h.72v-.8h.72v.2h.72v-.6h.72v1h.72v-1.4h.72v-.3h.72v-.3h.72v1.2h.72v-1h.72v-.1H488.5V350.8Z" fill="#fef383"/>
<path d="M471.2 350.8V365.3h.72v.1h.72v-.4h.72v1.5h.72v.2h.72v-.6h.72v-.1h.72v-1.4h.72v.8h.72v.7h.72v-.5h.72v.8h.72v-.6h.72h.72v.6h.72v.2h.72v-.4h.72v-.1h.72v.4h.72v-.6h.72v-.5h.72v.3h.72h.72v.6H488.5V350.8Z" fill="#293a8f"/>
<rect x="488.5" y="350.8" width="28.5" height="55.2" fill="#02b5dd"/>
<path d="M488.5 350.8V383.5h.71v-.3h.71h.71v-3.1h.71v3h.71v-1.2h.71v-.4h.71h.71v-.5h.71v.2h.71v.1h.71v-.1h.71v.1h.71v-.1h.71v-.7h.71v-1.4h.71v.5h.71v.3h.71v-.2h.71v.4h.71v-1h.71v.3h.71v-.8h.71v-4.1h.71v3.5h.71v-1.6h.71v1.8h.71v.6h.71v-1.6h.71v.6h.71h.71v-.8h.71v-.1h.71v.4h.71v-.6h.71v-.1h.71v-.9h.71v.7h.71v-.9h.71v-.3H517V350.8Z" fill="#fef383"/>
<path d="M488.5 350.8V379.9h.71v1.4h.71v-.7h.71v-.4h.71h.71v.2h.71v-1.2h.71h.71v.4h.71v-1h.71v-.2h.71v.4h.71v-.6h.71v-.2h.71v.5h.71v1h.71v-1.1h.71v-1.3h.71v.4h.71v.1h.71v-1.2h.71v.3h.71v.8h.71v-1.6h.71v-.4h.71v.2h.71v-.3h.71v-.3h.71v-.3h.71v.6h.71v-1.2h.71v.3h.71v-.4h.71v.1h.71v.4h.71v-.6h.71v-.6h.71v-.1h.71v-.3h.71v-.1H517V350.8Z" fill="#a01d5e"/>
<path d="M488.5 350.8V379.6h.71v.9h.71v-.2h.71v-2.7h.71v1.3h.71v.6h.71v-.6h.71v-1h.71v.8h.71v-.3h.71v-.3h.71v-.5h.71v.2h.71v-.1h.71v-1h.71h.71v.2h.71h.71v-.6h.71v-.8h.71v.9h.71v-1.6h.71v-4.6h.71v1.8h.71v3h.71v-.8h.71v1.2h.71v-.4h.71v-.7h.71v-.9h.71v-2.3h.71v3.1h.71v-.8h.71v-.7h.71v.9h.71v-1.1h.71v-.1h.71v-.1h.71v.1h.71v.4H517V350.8Z" fill="#a1549f"/>
<path d="M488.5 350.8V362.4h.71v-.4h.71v.6h.71v.2h.71v.2h.71v-1.1h.71v-.1h.71v-.2h.71v1.5h.71v-1.2h.71v.1h.71v-.9h.71v.5h.71v-.1h.71v-.5h.71v.9h.71v-1h.71v.5h.71v-.4h.71v.8h.71v-1.1h.71v.8h.71v-1.1h.71v1.2h.71v-.8h.71v-.4h.71v.6h.71v-.3h.71v-.2h.71v.4h.71v.4h.71v-.2h.71v.1h.71v-1.1h.71v.9h.71v-.8h.71v.3h.71v-.6h.71v.3h.71v.3H517V350.8Z" fill="#293a8f"/>
<path d="M488.5 350.8V352.1h.71v.6h.71v-1.1h.71v-.1h.71v1.3h.71v-.5h.71v.5h.71v-1.3h.71v.8h.71v.1h.71v-.2h.71h.71v1h.71v-1.4h.71v.4h.71v.3h.71v-.5h.71v1.2h.71v-1.2h.71v1h.71v.4h.71v-1.1h.71h.71v.2h.71v-.2h.71v.8h.71v-.7h.71v-.5h.71v1h.71v-.7h.71v.2h.71v-.5h.71v1h.71v-1.5h.71v.7h.71v.5h.71v.2h.71v.2h.71v-.3h.71v-.1H517V350.8Z" fill="#4ab97c"/>
<rect x="517" y="350.8" width="23.3" height="55.2" fill="#02b5dd"/>
<path d="M517 350.8V377.6h.73v-.2h.73v-.6h.73v-.5h.73v1.1h.73v-.6h.73v.7h.73v-.7h.73v.4h.73v.9h.73v-1.4h.73v.5h.73h.73v-.2h.73v1.2h.73v-1.7h.73v1.6h.73v-.3h.73v.3h.73v-.5h.73v-.4h.73v1h.73v-1.2h.73v1.3h.73v-.7h.73h.73v-.2h.73v.2h.73v.1h.73v.1h.73v-.4h.73v-.3H540.3V350.8Z" fill="#fef383"/>
<path d="M517 350.8V375.5h.73v1.5h.73v-.4h.73v-.8h.73v.3h.73v.7h.73v-.2h.73v.1h.73v.3h.73v-.3h.73v-.1h.73v-.8h.73v.2h.73v-.5h.73v1h.73v-.2h.73v-.9h.73v.8h.73v.2h.73h.73v-.3h.73v-.1h.73v.1h.73v.3h.73v.3h.73v-1.1h.73v1h.73v-.3h.73v-.9h.73v.1h.73v.7h.73H540.3V350.8Z" fill="#a01d5e"/>
<path d="M517 350.8V375h.73v.2h.73v-.7h.73v1.7h.73v-.8h.73v-.7h.73h.73v.4h.73v-.3h.73v1h.73v-1.3h.73v1.5h.73v-1.1h.73v.4h.73h.73v-.2h.73v1.3h.73v-.5h.73v.1h.73v.2h.73v-1h.73v.3h.73v.2h.73h.73v-.5h.73v.7h.73v-.1h.73v-.6h.73v.6h.73v-1.2h.73v.9h.73v-.6H540.3V350.8Z" fill="#a1549f"/>
<path d="M517 350.8V361h.73v1.1h.73v-1.1h.73v.1h.73v.7h.73v-.2h.73v-.8h.73v1h.73v-1.1h.73v.2h.73v.5h.73v-.3h.73v-.5h.73v.7h.73v.1h.73h.73v.3h.73v-.2h.73v-.5h.73v.7h.73v-.5h.73v-.3h.73v.2h.73v.5h.73h.73v-.4h.73h.73v-.7h.73v1.7h.73v-.9h.73v-.6h.73v.5H540.3V350.8Z" fill="#293a8f"/>
<rect x="540.3" y="350.8" width="14.9" height="55.2" fill="#02b5dd"/>
<path d="M540.3 350.8V387.8h.71v-.6h.71v.7h.71v.4h.71v3.1h.71v-3h.71h.71v.3h.71v-.3h.71v.9h.71v-.6h.71v1.3h.71v.2h.71v-.2h.71v.2h.71v-.1h.71v-.1h.71v.7h.71v-.9h.71v1.3h.71v.6H555.2V350.8Z" fill="#fef383"/>
<path d="M540.3 350.8V384h.71v-.2h.71v.7h.71v.3h.71v-7.2h.71v8h.71v.1h.71v.8h.71v-.5h.71v-.4h.71v1.1h.71v-.4h.71v-.5h.71v.7h.71v-.1h.71v.1h.71v.9h.71v-.9h.71v1.7h.71v.3h.71v.3H555.2V350.8Z" fill="#a01d5e"/>
<path d="M540.3 350.8V384.1h.71v-.6h.71v.9h.71v1h.71v-1h.71v.5h.71v-.1h.71v.3h.71v-.3h.71v.6h.71v.5h.71v-.6h.71v.7h.71h.71h.71v.3h.71v.4h.71v-.4h.71v.2h.71v-.4h.71v.4H555.2V350.8Z" fill="#a1549f"/>
<path d="M540.3 350.8V359.3h.71v.5h.71v.4h.71v-.9h.71v.9h.71v-.4h.71v1h.71v-.8h.71v-.5h.71v.7h.71v.1h.71v1.1h.71v-1.2h.71v-1h.71v.7h.71v.2h.71v.9h.71v-1.2h.71v.4h.71v-.8h.71v.2H555.2V350.8Z" fill="#293a8f"/>
<rect x="555.2" y="350.8" width="4.1" height="55.2" fill="#02b5dd"/>
<path d="M555.2 350.8V398h.68v.6h.68v-.2h.68v.1h.68h.68v.2H559.3V350.8Z" fill="#a01d5e"/>
<path d="M555.2 350.8V389.9h.68v.4h.68v.5h.68v-.1h.68v.4h.68v-.6H559.3V350.8Z" fill="#a1549f"/>
<rect x="559.3" y="350.8" width="37.9" height="55.2" fill="#a1549f"/>
<rect x="597.2" y="350.8" width="19.2" height="55.2" fill="#a01d5e"/>
<rect x="616.4" y="350.8" width="10" height="55.2" fill="#02b5dd"/>
<path d="M616.4 350.8V401.9h.71v1.1h.71v-.3h.71v.7h.71v-.9h.71v1.7h.71v-.5h.71v-.9h.71v.3h.71v.2h.71v.4h.71v.2h.71v.2h.71v-.9H626.4V350.8Z" fill="#fcb216"/>
<path d="M616.4 350.8V401h.71v-1h.71v.5h.71v-.2h.71h.71v.3h.71v.3h.71v-.2h.71v-.4h.71v.2h.71v1h.71v-.6h.71v-.5h.71v-.6H626.4V350.8Z" fill="#a01d5e"/>
<path d="M616.4 350.8V376.4h.71v.7h.71v-.2h.71v.4h.71v.4h.71v.6h.71v-1h.71v.6h.71v-.1h.71v-.5h.71v.4h.71v.6h.71v-.7h.71v.7H626.4V350.8Z" fill="#a1549f"/>
<path d="M616.4 350.8V361.6h.71v.4h.71v-.3h.71v.8h.71v-.6h.71v.1h.71v-.7h.71v.5h.71h.71v.8h.71v-.7h.71v.2h.71v-.3h.71v.2H626.4V350.8Z" fill="#4ab97c"/>
<rect x="626.4" y="350.8" width="12.5" height="55.2" fill="#02b5dd"/>
<path d="M626.4 350.8V401.7h.74v-1.3h.74v.9h.74v.2h.74v.6h.74v.1h.74v-.4h.74v-.9h.74v.5h.74v-.4h.74h.74v.6h.74v-.7h.74v.1h.74v.2h.74v-.2h.74v.7H638.9V350.8Z" fill="#a01d5e"/>
<path d="M626.4 350.8V380.7h.74v.2h.74h.74v-.3h.74v.6h.74v.3h.74v-.2h.74v1.3h.74v-1.7h.74v.9h.74v-1.1h.74v.5h.74v.1h.74v-.8h.74v1.4h.74v.1h.74v-.3H638.9V350.8Z" fill="#a1549f"/>
<path d="M626.4 350.8V362.1h.74v.1h.74v-.5h.74v.4h.74v.7h.74v.4h.74v-1.2h.74v.1h.74h.74h.74v.3h.74v.1h.74v-.6h.74h.74v.6h.74v-1.1h.74v-.1H638.9V350.8Z" fill="#293a8f"/>
<path d="M626.4 350.8V362h.74v-.2h.74v-1.1h.74v.3h.74v1h.74v-1h.74v1h.74v-.8h.74v.1h.74v-.4h.74v.5h.74v.5h.74v-.5h.74v.6h.74v-.1h.74v-1h.74v-.1H638.9V350.8Z" fill="#4ab97c"/>
<rect x="638.9" y="350.8" width="8.5" height="55.2" fill="#02b5dd"/>
<path d="M638.9 350.8V397.6h.71v.7h.71v.1h.71v2.3h.71v-1h.71v.5h.71v1h.71v.3h.71v-.3h.71v1.5h.71v-.2h.71v-2.2H647.4V350.8Z" fill="#a01d5e"/>
<path d="M638.9 350.8V389.7h.71v.2h.71v1.6h.71v1.4h.71v1.5h.71v.9h.71v1.6h.71v-.4h.71v2.1h.71v-.3h.71v.6h.71v.9H647.4V350.8Z" fill="#a1549f"/>
<path d="M638.9 350.8V383.4h.71v2.2h.71v.9h.71v1.8h.71v1.3h.71v.9h.71v.9h.71v1.2h.71v.8h.71v1.6h.71v1.8h.71v.4H647.4V350.8Z" fill="#293a8f"/>
<path d="M638.9 350.8V382.8h.71v-3h.71v2h.71v1.7h.71v1.8h.71v1h.71v.4h.71v.8h.71v1.4h.71v1.3h.71v.9h.71v1.6H647.4V350.8Z" fill="#4ab97c"/>
<rect x="647.4" y="350.8" width="8.1" height="55.2" fill="#02b5dd"/>
<path d="M647.4 350.8V400.4h.74v.8h.74v-.7h.74v.2h.74v.9h.74v-1h.74v.7h.74v-.1h.74v.6h.74v-.6h.74v-.4H655.5V350.8Z" fill="#a01d5e"/>
<path d="M647.4 350.8V395.9h.74v.4h.74v.3h.74v-.6h.74v.4h.74v1.5h.74v-.4h.74v-.6h.74v1.2h.74v.5h.74v-.1H655.5V350.8Z" fill="#a1549f"/>
<path d="M647.4 350.8V391.7h.74v1.1h.74v-.5h.74v1.3h.74v.1h.74v-.2h.74h.74v.8h.74v.6h.74v.3h.74H655.5V350.8Z" fill="#293a8f"/>
<path d="M647.4 350.8V386.2h.74v.1h.74v.3h.74v.6h.74v.7h.74v.3h.74v.4h.74v.9h.74v.2h.74v1.1h.74H655.5V350.8Z" fill="#4ab97c"/>
<rect x="655.5" y="350.8" width="5.9" height="55.2" fill="#f8f1d6"/>
<path d="M655.5 350.8V405.1h.74v-.7h.74v-.6h.74v.2h.74v-.8h.74v1.2h.74v.3h.74v-1.2H661.4V350.8Z" fill="#4ab97c"/>
<rect x="661.4" y="350.8" width="22.8" height="55.2" fill="#fef383"/>
<path d="M661.4 350.8V381.8h.71v5.2h.71v6.8h.71v2.9h.71v1.6h.71v1.7h.71v.9h.71v-.1h.71v1.5h.71v1.4h.71v.7h.71v-1.5h.71v1.7h.71v.7h.71v-.2h.71v-.4h.71v.6h.71v.2h.71v-.1h.71v.4h.71v.2h.71h.71h.71h.71h.71h.71h.71h.71h.71h.71h.71H684.2V350.8Z" fill="#293a8f"/>
<path d="M661.4 350.8V381.7h.71v5.2h.71v5.6h.71v3h.71v1.9h.71v2h.71v-.2h.71v1.5h.71v.4h.71v1h.71v-.2h.71v1.1h.71v.4h.71v.1h.71v.1h.71v-.5h.71v1.6h.71v.9h.71v-.9h.71v-.2h.71v1h.71v.2h.71v-.3h.71v-.4h.71v.7h.71v-.1h.71v-.3h.71v.5h.71v-.2h.71v-.2h.71v.3h.71H684.2V350.8Z" fill="#4ab97c"/>
<rect x="91" y="392.8" width="0.7" height="13.2" fill="#f8f1d6"/>
<rect x="582.4" y="351.2" width="0.8" height="6" fill="#bfc0c2"/>
<rect x="291.6" y="391.8" width="1.6" height="14.2" fill="#02b5dd"/>
<rect x="292" y="387.8" width="1.2" height="4" fill="#fef383"/>
<rect x="452.5" y="364.8" width="1.1" height="18" fill="#fef383"/>
<rect x="582.3" y="400.8" width="1" height="5.2" fill="#f6c9c0"/>
<rect x="555.9" y="383.8" width="0.8" height="22.2" fill="#f6c9c0"/>
<rect x="639.3" y="384.2" width="1" height="18.5" fill="#f8f1d6"/>
<rect x="640.3" y="386.8" width="0.6" height="16" fill="#f8f1d6"/>
<rect x="648.2" y="394.8" width="1.4" height="8" fill="#f8f1d6"/>
<rect x="627.8" y="396.2" width="0.8" height="9.7" fill="#f8f1d6"/>
<rect x="368.4" y="385.1" width="0.9" height="20.8" fill="#02b5dd"/>
<path d="M90.2 376.2L90.9 377.2L91.2 385.8L90.6 384.8Z" fill="#414143"/>
<path d="M92.3 384.2L93.3 384.2L95.2 394.8L94.2 395.2Z" fill="#414143"/>
<rect x="45" y="0.1" width="639.2" height="0.5" fill="#6a6a6a" opacity="0.8"/>
<rect x="45" y="54.8" width="639.2" height="0.6" fill="#555" opacity="0.8"/>
<rect x="45" y="58.5" width="639.2" height="0.5" fill="#6a6a6a" opacity="0.8"/>
<rect x="45" y="113.2" width="639.2" height="0.6" fill="#555" opacity="0.8"/>
<rect x="45" y="117" width="639.2" height="0.5" fill="#6a6a6a" opacity="0.8"/>
<rect x="45" y="171.7" width="639.2" height="0.6" fill="#555" opacity="0.8"/>
<rect x="45" y="175.4" width="639.2" height="0.5" fill="#6a6a6a" opacity="0.8"/>
<rect x="45" y="230.1" width="639.2" height="0.6" fill="#555" opacity="0.8"/>
<rect x="45" y="233.9" width="639.2" height="0.5" fill="#6a6a6a" opacity="0.8"/>
<rect x="45" y="288.6" width="639.2" height="0.6" fill="#555" opacity="0.8"/>
<rect x="45" y="292.4" width="639.2" height="0.5" fill="#6a6a6a" opacity="0.8"/>
<rect x="45" y="347.1" width="639.2" height="0.6" fill="#555" opacity="0.8"/>
<rect x="45" y="350.8" width="639.2" height="0.5" fill="#6a6a6a" opacity="0.8"/>
<rect x="45" y="405.4" width="639.2" height="0.6" fill="#555" opacity="0.8"/>
<rect x="44.5" y="0" width="0.9" height="411.1" fill="#4a4a4a"/>
<rect x="67" y="0" width="0.9" height="411.1" fill="#4a4a4a"/>
<rect x="89.2" y="0" width="0.9" height="411.1" fill="#4a4a4a"/>
<rect x="111.8" y="0" width="0.9" height="411.1" fill="#4a4a4a"/>
<rect x="134.2" y="0" width="0.9" height="411.1" fill="#4a4a4a"/>
<rect x="156.6" y="0" width="0.9" height="411.1" fill="#4a4a4a"/>
<rect x="178.8" y="0" width="0.9" height="411.1" fill="#4a4a4a"/>
<rect x="200.9" y="0" width="0.9" height="411.1" fill="#4a4a4a"/>
<rect x="223.9" y="0" width="0.9" height="411.1" fill="#4a4a4a"/>
<rect x="255.2" y="0" width="0.9" height="411.1" fill="#4a4a4a"/>
<rect x="277.6" y="0" width="0.9" height="411.1" fill="#4a4a4a"/>
<rect x="290.8" y="0" width="0.9" height="411.1" fill="#4a4a4a"/>
<rect x="309.9" y="0" width="0.9" height="411.1" fill="#4a4a4a"/>
<rect x="345.8" y="0" width="0.9" height="411.1" fill="#4a4a4a"/>
<rect x="368.9" y="0" width="0.9" height="411.1" fill="#4a4a4a"/>
<rect x="371.4" y="0" width="0.9" height="411.1" fill="#4a4a4a"/>
<rect x="390.4" y="0" width="0.9" height="411.1" fill="#4a4a4a"/>
<rect x="416.6" y="0" width="0.9" height="411.1" fill="#4a4a4a"/>
<rect x="435.9" y="0" width="0.9" height="411.1" fill="#4a4a4a"/>
<rect x="450.9" y="0" width="0.9" height="411.1" fill="#4a4a4a"/>
<rect x="470.8" y="0" width="0.9" height="411.1" fill="#4a4a4a"/>
<rect x="488.1" y="0" width="0.9" height="411.1" fill="#4a4a4a"/>
<rect x="516.5" y="0" width="0.9" height="411.1" fill="#4a4a4a"/>
<rect x="539.8" y="0" width="0.9" height="411.1" fill="#4a4a4a"/>
<rect x="554.8" y="0" width="0.9" height="411.1" fill="#4a4a4a"/>
<rect x="558.8" y="0" width="0.9" height="411.1" fill="#4a4a4a"/>
<rect x="596.8" y="0" width="0.9" height="411.1" fill="#4a4a4a"/>
<rect x="615.9" y="0" width="0.9" height="411.1" fill="#4a4a4a"/>
<rect x="625.9" y="0" width="0.9" height="411.1" fill="#4a4a4a"/>
<rect x="638.4" y="0" width="0.9" height="411.1" fill="#4a4a4a"/>
<rect x="646.9" y="0" width="0.9" height="411.1" fill="#4a4a4a"/>
<rect x="655" y="0" width="0.9" height="411.1" fill="#4a4a4a"/>
<rect x="660.9" y="0" width="0.9" height="411.1" fill="#4a4a4a"/>
<rect x="683.8" y="0" width="0.9" height="411.1" fill="#4a4a4a"/>
<rect x="22.8" y="0.1" width="22.4" height="55.2" fill="#434345"/>
<g transform="translate(37.3 52.7) rotate(-90)"><text x="0" y="0" font-family="'Liberation Sans', Arial, sans-serif" font-weight="bold" font-size="13.7" fill="#fff" stroke="#fff" stroke-width="0.3" transform="scale(0.73 1)">K=4</text><text x="28.7" y="-3.3" font-family="'Liberation Sans', Arial, sans-serif" font-size="7.4" font-weight="bold" fill="#fff" transform="scale(0.78 1)">50</text></g>
<rect x="22.8" y="58.5" width="22.4" height="55.2" fill="#434345"/>
<g transform="translate(37.3 111.2) rotate(-90)"><text x="0" y="0" font-family="'Liberation Sans', Arial, sans-serif" font-weight="bold" font-size="13.7" fill="#fff" stroke="#fff" stroke-width="0.3" transform="scale(0.73 1)">K=5</text><text x="28.7" y="-3.3" font-family="'Liberation Sans', Arial, sans-serif" font-size="7.4" font-weight="bold" fill="#fff" transform="scale(0.78 1)">45</text></g>
<rect x="22.8" y="117" width="22.4" height="55.2" fill="#434345"/>
<g transform="translate(37.3 169.6) rotate(-90)"><text x="0" y="0" font-family="'Liberation Sans', Arial, sans-serif" font-weight="bold" font-size="13.7" fill="#fff" stroke="#fff" stroke-width="0.3" transform="scale(0.73 1)">K=6</text><text x="28.7" y="-3.3" font-family="'Liberation Sans', Arial, sans-serif" font-size="7.4" font-weight="bold" fill="#fff" transform="scale(0.78 1)">42</text></g>
<rect x="22.8" y="175.4" width="22.4" height="55.2" fill="#434345"/>
<g transform="translate(37.3 228) rotate(-90)"><text x="0" y="0" font-family="'Liberation Sans', Arial, sans-serif" font-weight="bold" font-size="13.7" fill="#fff" stroke="#fff" stroke-width="0.3" transform="scale(0.73 1)">K=7</text><text x="28.7" y="-3.3" font-family="'Liberation Sans', Arial, sans-serif" font-size="7.4" font-weight="bold" fill="#fff" transform="scale(0.78 1)">29</text></g>
<rect x="22.8" y="233.9" width="22.4" height="55.2" fill="#434345"/>
<g transform="translate(37.3 286.5) rotate(-90)"><text x="0" y="0" font-family="'Liberation Sans', Arial, sans-serif" font-weight="bold" font-size="13.7" fill="#fff" stroke="#fff" stroke-width="0.3" transform="scale(0.73 1)">K=8</text><text x="28.7" y="-3.3" font-family="'Liberation Sans', Arial, sans-serif" font-size="7.4" font-weight="bold" fill="#fff" transform="scale(0.78 1)">33</text></g>
<rect x="22.8" y="292.4" width="22.4" height="55.2" fill="#434345"/>
<g transform="translate(37.3 344.9) rotate(-90)"><text x="0" y="0" font-family="'Liberation Sans', Arial, sans-serif" font-weight="bold" font-size="13.7" fill="#fff" stroke="#fff" stroke-width="0.3" transform="scale(0.73 1)">K=9</text><text x="28.7" y="-3.3" font-family="'Liberation Sans', Arial, sans-serif" font-size="7.4" font-weight="bold" fill="#fff" transform="scale(0.78 1)">42</text></g>
<rect x="22.8" y="350.8" width="22.4" height="55.2" fill="#434345"/>
<g transform="translate(37.3 403.3) rotate(-90)"><text x="0" y="0" font-family="'Liberation Sans', Arial, sans-serif" font-weight="bold" font-size="13.7" fill="#fff" stroke="#fff" stroke-width="0.3" transform="scale(0.73 1)">K=10</text><text x="35.9" y="-3.3" font-family="'Liberation Sans', Arial, sans-serif" font-size="7.4" font-weight="bold" fill="#fff" transform="scale(0.78 1)">28</text></g>
<rect x="26" y="4.2" width="14" height="17.2" rx="2.2" fill="#ececec"/>
<text x="33" y="17.4" text-anchor="middle" font-family="'Liberation Sans', Arial, sans-serif" font-size="14.5" font-weight="bold" fill="#111">a</text>
<text transform="translate(41.8 415) rotate(-42) scale(0.880 1)" text-anchor="end" font-family="'Liberation Sans', Arial, sans-serif" font-size="11.5" fill="#222" stroke="#222" stroke-width="0.18">Africa (YRI)</text>
<text transform="translate(65 416.1) rotate(-42) scale(0.880 1)" text-anchor="end" font-family="'Liberation Sans', Arial, sans-serif" font-size="11.5" fill="#222" stroke="#222" stroke-width="0.18">Europe (CEU)</text>
<text transform="translate(86.3 417.1) rotate(-42) scale(0.880 1)" text-anchor="end" font-family="'Liberation Sans', Arial, sans-serif" font-size="11.5" fill="#222" stroke="#222" stroke-width="0.18">South Asia (STU)</text>
<text transform="translate(109 417.7) rotate(-42) scale(0.880 1)" text-anchor="end" font-family="'Liberation Sans', Arial, sans-serif" font-size="11.5" fill="#222" stroke="#222" stroke-width="0.18">America (PEL)</text>
<text transform="translate(132.1 416.6) rotate(-42) scale(0.880 1)" text-anchor="end" font-family="'Liberation Sans', Arial, sans-serif" font-size="11.5" fill="#222" stroke="#222" stroke-width="0.18">Japan (JPT)</text>
<text transform="translate(153.4 416.1) rotate(-42) scale(0.880 1)" text-anchor="end" font-family="'Liberation Sans', Arial, sans-serif" font-size="11.5" fill="#222" stroke="#222" stroke-width="0.18">Han (CHB)</text>
<text transform="translate(177 418) rotate(-42) scale(0.880 1)" text-anchor="end" font-family="'Liberation Sans', Arial, sans-serif" font-size="11.5" fill="#222" stroke="#222" stroke-width="0.18">Sth. Han (CHS)</text>
<text transform="translate(199.1 416.1) rotate(-42) scale(0.880 1)" text-anchor="end" font-family="'Liberation Sans', Arial, sans-serif" font-size="11.5" fill="#222" stroke="#222" stroke-width="0.18">Dai (CDX)</text>
<text transform="translate(221.7 417.9) rotate(-42) scale(0.880 1)" text-anchor="end" font-family="'Liberation Sans', Arial, sans-serif" font-size="11.5" fill="#222" stroke="#222" stroke-width="0.18">Vietnam (KHV)</text>
<text transform="translate(246.1 415.5) rotate(-42) scale(0.880 1)" text-anchor="end" font-family="'Liberation Sans', Arial, sans-serif" font-size="11.5" fill="#222" stroke="#222" stroke-width="0.18">Myanmar</text>
<text transform="translate(273.2 416) rotate(-42) scale(0.880 1)" text-anchor="end" font-family="'Liberation Sans', Arial, sans-serif" font-size="11.5" fill="#222" stroke="#222" stroke-width="0.18">Malaysia</text>
<text transform="translate(289.3 416.4) rotate(-42) scale(0.880 1)" text-anchor="end" font-family="'Liberation Sans', Arial, sans-serif" font-size="11.5" fill="#222" stroke="#222" stroke-width="0.18">Taiwan</text>
<text transform="translate(306.1 418.4) rotate(-42) scale(0.880 1)" text-anchor="end" font-family="'Liberation Sans', Arial, sans-serif" font-size="11.5" fill="#222" stroke="#222" stroke-width="0.18">Kankanaey</text>
<text transform="translate(333.2 416.5) rotate(-42) scale(0.880 1)" text-anchor="end" font-family="'Liberation Sans', Arial, sans-serif" font-size="11.5" fill="#222" stroke="#222" stroke-width="0.18">Other</text>
<text transform="translate(364.1 416.6) rotate(-42) scale(0.880 1)" text-anchor="end" font-family="'Liberation Sans', Arial, sans-serif" font-size="12.5" fill="#222" stroke="#222" stroke-width="0.18">Aeta</text>
<text transform="translate(375.4 416.3) rotate(-42) scale(0.880 1)" text-anchor="end" font-family="'Liberation Sans', Arial, sans-serif" font-size="9.3" fill="#222" stroke="#222" stroke-width="0.18">Agta</text>
<text transform="translate(389.1 416.8) rotate(-42) scale(0.880 1)" text-anchor="end" font-family="'Liberation Sans', Arial, sans-serif" font-size="11.5" fill="#222" stroke="#222" stroke-width="0.18">Batak</text>
<text transform="translate(408.3 417.5) rotate(-42) scale(0.880 1)" text-anchor="end" font-family="'Liberation Sans', Arial, sans-serif" font-size="11.5" fill="#222" stroke="#222" stroke-width="0.18">Sumatra</text>
<text transform="translate(432.2 416.5) rotate(-42) scale(0.880 1)" text-anchor="end" font-family="'Liberation Sans', Arial, sans-serif" font-size="11.5" fill="#222" stroke="#222" stroke-width="0.18">Java</text>
<text transform="translate(449.5 418.5) rotate(-42) scale(0.880 1)" text-anchor="end" font-family="'Liberation Sans', Arial, sans-serif" font-size="11.5" fill="#222" stroke="#222" stroke-width="0.18">Lebbo</text>
<text transform="translate(466.9 418) rotate(-42) scale(0.880 1)" text-anchor="end" font-family="'Liberation Sans', Arial, sans-serif" font-size="11.5" fill="#222" stroke="#222" stroke-width="0.18">Dusun</text>
<text transform="translate(485.6 418.3) rotate(-42) scale(0.880 1)" text-anchor="end" font-family="'Liberation Sans', Arial, sans-serif" font-size="11.5" fill="#222" stroke="#222" stroke-width="0.18">Murut</text>
<text transform="translate(509.9 418.9) rotate(-42) scale(0.880 1)" text-anchor="end" font-family="'Liberation Sans', Arial, sans-serif" font-size="11.5" fill="#222" stroke="#222" stroke-width="0.18">Sulawesi</text>
<text transform="translate(534.1 416.3) rotate(-42) scale(0.880 1)" text-anchor="end" font-family="'Liberation Sans', Arial, sans-serif" font-size="11.8" fill="#222" stroke="#222" stroke-width="0.18">Sumba</text>
<text transform="translate(551.5 415.8) rotate(-42) scale(0.880 1)" text-anchor="end" font-family="'Liberation Sans', Arial, sans-serif" font-size="12" fill="#222" stroke="#222" stroke-width="0.18">Timor</text>
<text transform="translate(564 415.6) rotate(-42) scale(0.880 1)" text-anchor="end" font-family="'Liberation Sans', Arial, sans-serif" font-size="9.2" fill="#222" stroke="#222" stroke-width="0.18">Australia</text>
<text transform="translate(580.6 417.5) rotate(-42) scale(0.880 1)" text-anchor="end" font-family="'Liberation Sans', Arial, sans-serif" font-size="11.5" fill="#222" stroke="#222" stroke-width="0.18">New Guinea</text>
<text transform="translate(608.7 415.6) rotate(-45) scale(0.880 1)" text-anchor="end" font-family="'Liberation Sans', Arial, sans-serif" font-size="9" fill="#222" stroke="#222" stroke-width="0.18">New Britain</text>
<text transform="translate(623.7 415.6) rotate(-45) scale(0.880 1)" text-anchor="end" font-family="'Liberation Sans', Arial, sans-serif" font-size="9" fill="#222" stroke="#222" stroke-width="0.18">Bougainville</text>
<text transform="translate(634.4 414) rotate(-45) scale(0.880 1)" text-anchor="end" font-family="'Liberation Sans', Arial, sans-serif" font-size="10.3" fill="#222" stroke="#222" stroke-width="0.18">Vanuatu</text>
<text transform="translate(646.2 414) rotate(-45) scale(0.880 1)" text-anchor="end" font-family="'Liberation Sans', Arial, sans-serif" font-size="9.8" fill="#222" stroke="#222" stroke-width="0.18">Samoa</text>
<text transform="translate(655.6 415) rotate(-45) scale(0.880 1)" text-anchor="end" font-family="'Liberation Sans', Arial, sans-serif" font-size="9.5" fill="#222" stroke="#222" stroke-width="0.18">Tonga</text>
<text transform="translate(669.2 419.4) rotate(-45) scale(0.880 1)" text-anchor="end" font-family="'Liberation Sans', Arial, sans-serif" font-size="10.6" fill="#222" stroke="#222" stroke-width="0.18">Tahiti</text>
<path d="M111.7 449 Q 122 474 139 473 Q 158 472 169 449" fill="none" stroke="#3a3a3a" stroke-width="0.9" stroke-dasharray="2.6 1.7"/>
<text transform="translate(125.3 482.5) rotate(-1.5) skewX(-7)" font-family="'Liberation Sans', Arial, sans-serif" font-size="11.2" fill="#222" stroke="#222" stroke-width="0.18">China</text>
<path d="M269.7 456 Q 300 438 339.8 436 Q 360 436 372.5 439.7" fill="none" stroke="#3a3a3a" stroke-width="0.9" stroke-dasharray="2.6 1.7"/>
<text transform="translate(297.5 453) rotate(-8) scale(0.880 1)" font-family="'Liberation Sans', Arial, sans-serif" font-size="11.6" fill="#222" stroke="#222" stroke-width="0.18">Philippines</text>
<path d="M422.6 438.5 Q 432 450 447 450 Q 462 450 470.5 438.5" fill="none" stroke="#3a3a3a" stroke-width="0.9" stroke-dasharray="2.6 1.7"/>
<text transform="translate(428.5 456.8) rotate(3.5)" font-family="'Liberation Sans', Arial, sans-serif" font-size="11.5" fill="#222" stroke="#222" stroke-width="0.18">Borneo</text>
<path d="M661.1 350.7 L684.2 350.7 L684.2 418 L624.4 477.8" fill="none" stroke="#d9443c" stroke-width="0.9"/>
<path d="M661.1 350.7 L661.1 405.9" fill="none" stroke="#c0453a" stroke-width="0.9"/><path d="M661.1 406.2 L684.2 406.2" fill="none" stroke="#e06050" stroke-width="0.6" opacity="0.5"/>
<text transform="translate(622.7 476.5) rotate(-44) scale(0.900 1)" font-weight="bold" font-family="'Liberation Sans', Arial, sans-serif" font-size="11.6" fill="#111" stroke="#111" stroke-width="0.25">Leeward Society</text>
<text transform="translate(641.5 475.3) rotate(-44) scale(0.950 1)" font-weight="bold" font-family="'Liberation Sans', Arial, sans-serif" font-size="11.6" fill="#111" stroke="#111" stroke-width="0.25">Islands</text>
<text x="487" y="474.6" font-family="'Liberation Sans', Arial, sans-serif" font-size="10.5" fill="#2a2a2a" textLength="82" lengthAdjust="spacingAndGlyphs">FS-based clustering:</text>
<rect x="486.2" y="478.3" width="99.3" height="8.3" fill="#4ab97c"/>
<rect x="585.4" y="478.3" width="13.3" height="8.3" fill="#293a8f"/>
<rect x="598.7" y="478.3" width="9.7" height="8.3" fill="#02b5dd"/>
<rect x="608.3" y="478.3" width="2.5" height="8.3" fill="#bfc0c2"/>
<rect x="610.7" y="478.3" width="47.5" height="8.3" fill="#fef383"/>
<rect x="486.2" y="486.6" width="128.4" height="8.3" fill="#4ab97c"/>
<rect x="614.5" y="486.6" width="1.4" height="8.3" fill="#a97c50"/>
<rect x="615.9" y="486.6" width="5" height="8.3" fill="#293a8f"/>
<rect x="620.9" y="486.6" width="25.2" height="8.3" fill="#bfc0c2"/>
<rect x="646" y="486.6" width="12.3" height="8.3" fill="#fef383"/>
<rect x="486.2" y="494.9" width="145.4" height="8.3" fill="#4ab97c"/>
<rect x="631.5" y="494.9" width="1.1" height="8.3" fill="#fcb216"/>
<rect x="632.6" y="494.9" width="4.2" height="8.3" fill="#293a8f"/>
<rect x="636.7" y="494.9" width="10.5" height="8.3" fill="#bfc0c2"/>
<rect x="647.2" y="494.9" width="11.1" height="8.3" fill="#fef383"/>
<rect x="486.2" y="503.2" width="144.7" height="8.3" fill="#4ab97c"/>
<rect x="630.9" y="503.2" width="1.8" height="8.3" fill="#a01d5e"/>
<rect x="632.6" y="503.2" width="8.1" height="8.3" fill="#293a8f"/>
<rect x="640.7" y="503.2" width="2.1" height="8.3" fill="#02b5dd"/>
<rect x="642.7" y="503.2" width="15.5" height="8.3" fill="#fef383"/>
<rect x="486.2" y="511.5" width="157.3" height="8.3" fill="#4ab97c"/>
<rect x="643.4" y="511.5" width="3.7" height="8.3" fill="#293a8f"/>
<rect x="647" y="511.5" width="1.1" height="8.3" fill="#02b5dd"/>
<rect x="648.1" y="511.5" width="10.2" height="8.3" fill="#fef383"/>
<rect x="486.2" y="519.8" width="166.5" height="8.3" fill="#4ab97c"/>
<rect x="652.7" y="519.8" width="1.6" height="8.3" fill="#fcb216"/>
<rect x="654.2" y="519.8" width="2.5" height="8.3" fill="#293a8f"/>
<rect x="656.7" y="519.8" width="1.6" height="8.3" fill="#bfc0c2"/>
<rect x="486.2" y="528.1" width="172.1" height="8.3" fill="#4ab97c"/>
<rect x="486.2" y="486.1" width="99.2" height="1" fill="#d8efe0" opacity="0.9"/>
<rect x="486.2" y="494.4" width="128.3" height="1" fill="#d8efe0" opacity="0.9"/>
<rect x="486.2" y="502.7" width="144.7" height="1" fill="#d8efe0" opacity="0.9"/>
<rect x="486.2" y="511" width="144.7" height="1" fill="#d8efe0" opacity="0.9"/>
<rect x="486.2" y="519.3" width="157.2" height="1" fill="#d8efe0" opacity="0.9"/>
<rect x="486.2" y="527.6" width="166.5" height="1" fill="#d8efe0" opacity="0.9"/>
<line x1="520.6" y1="478.3" x2="520.6" y2="536.4" stroke="#5d7d66" stroke-width="0.6" stroke-dasharray="1.4 1.6" opacity="0.6"/>
<line x1="555" y1="478.3" x2="555" y2="536.4" stroke="#5d7d66" stroke-width="0.6" stroke-dasharray="1.4 1.6" opacity="0.6"/>
<line x1="589.4" y1="478.3" x2="589.4" y2="536.4" stroke="#5d7d66" stroke-width="0.6" stroke-dasharray="1.4 1.6" opacity="0.6"/>
<line x1="623.8" y1="478.3" x2="623.8" y2="536.4" stroke="#5d7d66" stroke-width="0.6" stroke-dasharray="1.4 1.6" opacity="0.6"/>
<rect x="658.2" y="478.3" width="0.7" height="58.1" fill="#555"/>
<rect x="486.2" y="478.3" width="172" height="0.5" fill="#666" opacity="0.7"/>
<rect x="485.8" y="536.4" width="0.7" height="2.5" fill="#555"/>
<text transform="translate(485.2 546.6) scale(0.780 1)" text-anchor="end" font-family="'Liberation Sans', Arial, sans-serif" font-size="10" fill="#222" stroke="#222" stroke-width="0.18">0</text>
<rect x="520.2" y="536.4" width="0.7" height="2.5" fill="#555"/>
<text transform="translate(519.6 546.6) scale(0.780 1)" text-anchor="end" font-family="'Liberation Sans', Arial, sans-serif" font-size="10" fill="#222" stroke="#222" stroke-width="0.18">0.2</text>
<rect x="554.6" y="536.4" width="0.7" height="2.5" fill="#555"/>
<text transform="translate(554 546.6) scale(0.780 1)" text-anchor="end" font-family="'Liberation Sans', Arial, sans-serif" font-size="10" fill="#222" stroke="#222" stroke-width="0.18">0.4</text>
<rect x="589" y="536.4" width="0.7" height="2.5" fill="#555"/>
<text transform="translate(588.4 546.6) scale(0.780 1)" text-anchor="end" font-family="'Liberation Sans', Arial, sans-serif" font-size="10" fill="#222" stroke="#222" stroke-width="0.18">0.6</text>
<rect x="623.5" y="536.4" width="0.7" height="2.5" fill="#555"/>
<text transform="translate(622.8 546.6) scale(0.780 1)" text-anchor="end" font-family="'Liberation Sans', Arial, sans-serif" font-size="10" fill="#222" stroke="#222" stroke-width="0.18">0.8</text>
<rect x="657.9" y="536.4" width="0.7" height="2.5" fill="#555"/>
<text transform="translate(657.2 546.6) scale(0.780 1)" text-anchor="end" font-family="'Liberation Sans', Arial, sans-serif" font-size="10" fill="#222" stroke="#222" stroke-width="0.18">1</text>
<rect x="658.2" y="482.1" width="2.5" height="0.7" fill="#555"/>
<text x="662" y="486.2" font-family="'Liberation Sans', Arial, sans-serif" font-size="10.5" fill="#2a2a2a">2</text>
<rect x="658.2" y="490.4" width="2.5" height="0.7" fill="#555"/>
<text x="662" y="494.6" font-family="'Liberation Sans', Arial, sans-serif" font-size="10.5" fill="#2a2a2a">1</text>
<rect x="658.2" y="498.7" width="2.5" height="0.7" fill="#555"/>
<text x="662" y="502.9" font-family="'Liberation Sans', Arial, sans-serif" font-size="10.5" fill="#2a2a2a">2</text>
<rect x="658.2" y="507" width="2.5" height="0.7" fill="#555"/>
<text x="662" y="511.1" font-family="'Liberation Sans', Arial, sans-serif" font-size="10.5" fill="#2a2a2a">2</text>
<rect x="658.2" y="515.3" width="2.5" height="0.7" fill="#555"/>
<text x="662" y="519.4" font-family="'Liberation Sans', Arial, sans-serif" font-size="10.5" fill="#2a2a2a">5</text>
<rect x="658.2" y="523.6" width="2.5" height="0.7" fill="#555"/>
<text x="662" y="527.7" font-family="'Liberation Sans', Arial, sans-serif" font-size="10.5" fill="#2a2a2a">7</text>
<rect x="658.2" y="531.9" width="2.5" height="0.7" fill="#555"/>
<text x="662" y="536" font-family="'Liberation Sans', Arial, sans-serif" font-size="10.5" fill="#2a2a2a">6</text>
<text x="662" y="476" font-family="'Liberation Sans', Arial, sans-serif" font-size="9" font-style="italic" fill="#2a2a2a">N:</text>
<rect x="490.7" y="482" width="14" height="17.7" rx="2.2" fill="#eef6ef"/>
<text x="497.7" y="495.8" text-anchor="middle" font-family="'Liberation Sans', Arial, sans-serif" font-size="14" font-weight="bold" fill="#111">b</text>
</svg>
</body></html>
